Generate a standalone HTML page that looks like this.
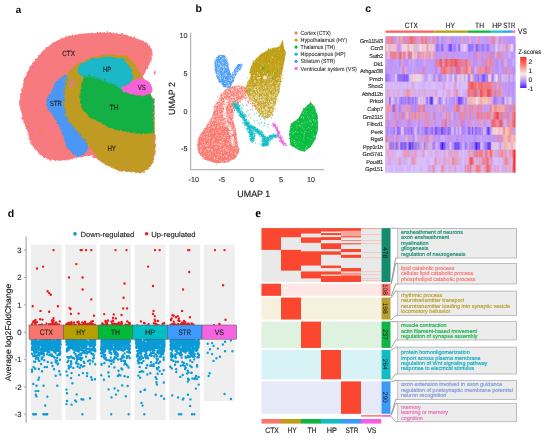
<!DOCTYPE html><html><head><meta charset="utf-8"><title>figure</title><style>html,body{margin:0;padding:0;background:#fff}svg{display:block;text-rendering:geometricPrecision}text{font-family:'Liberation Sans', Arial, sans-serif}</style></head><body><svg width="550" height="441" viewBox="0 0 550 441"><rect width="550" height="441" fill="#fff"/><text x="15.8" y="12.5" font-size="9.8" fill="#000" font-weight="bold">a</text>
<text x="195.5" y="12.0" font-size="10.5" fill="#000" font-weight="bold">b</text>
<text x="365.2" y="12.3" font-size="10.5" fill="#000" font-weight="bold">c</text>
<text x="7.7" y="216.9" font-size="10.5" fill="#000" font-weight="bold">d</text>
<text x="255.2" y="216.9" font-size="12.7" fill="#000" font-weight="bold" style="font-family:'Liberation Serif',serif">e</text>
<g id="pa">
<polygon points="100.0,32.9 86.2,33.6 68.0,36.3 56.7,40.8 45.4,48.8 36.3,59.0 29.5,68.0 24.9,78.2 22.0,90.7 20.4,96.0 20.0,101.3 21.5,112.7 23.8,121.7 28.3,132.0 29.5,138.8 34.0,147.8 42.0,155.8 48.8,159.2 59.0,160.8 68.0,159.6 76.0,157.6 85.0,156.0 92.0,155.0 100.0,160.3 107.2,164.8 118.5,169.8 132.2,171.2 142.4,172.1 148.0,168.2 152.1,162.6 154.4,153.5 154.8,135.4 153.0,133.1 153.7,112.7 153.7,99.4 150.3,94.8 152.1,88.0 149.2,82.4 143.5,79.4 142.4,75.6 146.9,68.8 150.3,62.0 152.1,54.0 150.7,48.3 145.8,42.7 134.4,37.7 120.8,34.1 102.7,32.5" fill="#f8787c"/>
<polygon points="154.8,135.4 154.4,153.5 152.1,162.6 148.0,168.2 142.4,172.1 132.2,171.2 118.5,169.8 107.2,164.8 99.0,159.5 96.5,155.0 92.0,149.5 86.5,142.2 78.5,133.0 70.3,124.0 65.8,115.0 63.5,103.6 64.6,90.0 66.0,78.0 70.3,70.3 77.1,64.4 86.2,60.4 95.2,57.0 109.5,55.0 125.4,56.0 132.6,61.8 137.2,69.6 140.8,75.4 142.4,77.8 150.0,95.0 154.8,120.0" fill="#bf9a1c"/>
<polygon points="66.0,75.0 60.0,79.0 56.7,81.6 52.2,90.7 47.0,99.0 47.6,108.0 53.3,115.0 58.5,124.0 63.6,135.4 66.8,146.7 73.5,154.0 79.0,156.6 84.5,153.0 88.0,147.5 85.0,140.0 78.5,133.0 70.3,124.0 65.8,115.0 63.5,103.6 64.6,90.0 67.0,80.0" fill="#4496f8"/>
<polygon points="83.9,77.1 80.7,90.7 80.5,101.3 83.9,110.4 90.7,117.2 100.0,121.7 107.2,126.3 123.1,130.8 136.7,133.1 153.0,133.1 153.7,112.7 153.7,99.4 150.3,94.8 143.5,96.0 132.2,94.8 123.1,92.1 119.7,88.0 114.0,84.6 102.7,79.4 91.3,76.2 83.4,75.6" fill="#0bb040"/>
<polygon points="78.0,70.3 80.0,64.6 93.6,58.7 109.5,57.3 122.6,58.8 127.6,64.6 131.6,71.0 132.6,76.7 130.8,81.2 125.4,85.8 119.7,88.0 114.0,84.6 102.7,79.4 91.3,76.2 83.4,75.6 80.0,74.4" fill="#14b8c8"/>
<polygon points="134.8,80.0 142.2,79.0 148.8,82.8 151.6,88.0 149.8,93.2 143.5,95.4 132.2,94.2 124.0,91.6 121.4,88.2 126.5,85.8 131.6,82.0" fill="#fb5ee0"/>
<defs><pattern id="hx" width="2.3" height="2" patternUnits="userSpaceOnUse"><circle cx="0.6" cy="0.5" r="0.45" fill="#fff" opacity="0.10"/><circle cx="1.75" cy="1.5" r="0.45" fill="#fff" opacity="0.10"/><circle cx="1.75" cy="0.5" r="0.4" fill="#a02050" opacity="0.07"/><circle cx="0.6" cy="1.5" r="0.4" fill="#a02050" opacity="0.07"/></pattern></defs>
<polygon points="100.0,32.9 86.2,33.6 68.0,36.3 56.7,40.8 45.4,48.8 36.3,59.0 29.5,68.0 24.9,78.2 22.0,90.7 20.4,96.0 20.0,101.3 21.5,112.7 23.8,121.7 28.3,132.0 29.5,138.8 34.0,147.8 42.0,155.8 48.8,159.2 59.0,160.8 68.0,159.6 76.0,157.6 85.0,156.0 92.0,155.0 100.0,160.3 107.2,164.8 118.5,169.8 132.2,171.2 142.4,172.1 148.0,168.2 152.1,162.6 154.4,153.5 154.8,135.4 153.0,133.1 153.7,112.7 153.7,99.4 150.3,94.8 152.1,88.0 149.2,82.4 143.5,79.4 142.4,75.6 146.9,68.8 150.3,62.0 152.1,54.0 150.7,48.3 145.8,42.7 134.4,37.7 120.8,34.1 102.7,32.5" fill="url(#hx)"/>
<polygon points="72.6,78.5 74.0,80.0 71.5,87.5 70.0,87.0" fill="#fb5ee0"/>
<circle cx="43" cy="61" r="0.9" fill="#fb5ee0"/>
<circle cx="33" cy="67" r="0.9" fill="#fb5ee0"/>
<circle cx="52" cy="127" r="0.9" fill="#fb5ee0"/>
<circle cx="33" cy="129" r="0.9" fill="#fb5ee0"/>
<circle cx="44" cy="112" r="0.9" fill="#bf9a1c"/>
<circle cx="40" cy="130" r="0.9" fill="#bf9a1c"/>
<circle cx="66" cy="157" r="0.9" fill="#fb5ee0"/>
<circle cx="93" cy="157" r="0.9" fill="#fb5ee0"/>
<circle cx="154.5" cy="73.5" r="0.9" fill="#fb5ee0"/>
<circle cx="155" cy="72" r="0.9" fill="#f8787c"/>
<circle cx="60" cy="127" r="0.9" fill="#f8787c"/>
<circle cx="68" cy="150" r="0.9" fill="#f8787c"/>
<circle cx="154" cy="140" r="0.9" fill="#f8787c"/>
<circle cx="153.5" cy="150" r="0.9" fill="#f8787c"/>
<circle cx="146" cy="53" r="0.9" fill="#bf9a1c"/>
<circle cx="63" cy="76" r="0.9" fill="#bf9a1c"/>
<text x="68.6" y="56.2" font-size="7.5" fill="#1c1c1c" text-anchor="middle" textLength="12.7" lengthAdjust="spacingAndGlyphs" stroke="#1c1c1c" stroke-width="0.13">CTX</text>
<text x="107.2" y="71.5" font-size="7.5" fill="#1c1c1c" text-anchor="middle" textLength="8.5" lengthAdjust="spacingAndGlyphs" stroke="#1c1c1c" stroke-width="0.13">HP</text>
<text x="141.7" y="90.3" font-size="7.5" fill="#1c1c1c" text-anchor="middle" textLength="8.0" lengthAdjust="spacingAndGlyphs" stroke="#1c1c1c" stroke-width="0.13">VS</text>
<text x="114.0" y="110.0" font-size="7.5" fill="#1c1c1c" text-anchor="middle" textLength="8.5" lengthAdjust="spacingAndGlyphs" stroke="#1c1c1c" stroke-width="0.13">TH</text>
<text x="55.8" y="105.5" font-size="7.5" fill="#1c1c1c" text-anchor="middle" textLength="11.5" lengthAdjust="spacingAndGlyphs" stroke="#1c1c1c" stroke-width="0.13">STR</text>
<text x="111.7" y="151.2" font-size="7.5" fill="#1c1c1c" text-anchor="middle" textLength="8.5" lengthAdjust="spacingAndGlyphs" stroke="#1c1c1c" stroke-width="0.13">HY</text>
</g>
<g id="pa2">
<path d="M29.4 136.6h0M65.5 37.0h0M72.4 35.6h0M69.3 159.4h0M65.0 159.8h0M21.4 89.1h0M132.1 172.0h0M78.2 34.5h0M38.7 56.9h0M143.5 78.9h0M153.2 156.9h0M70.6 36.1h0M154.4 137.0h0M136.7 171.7h0M150.4 84.6h0M130.9 171.0h0M153.4 115.3h0M46.4 48.0h0M35.9 59.4h0M154.7 142.1h0M151.5 53.3h0M140.8 171.8h0M147.5 68.4h0M155.2 144.8h0M155.3 152.7h0M22.5 119.0h0M89.0 33.5h0M48.1 47.7h0M43.2 51.8h0M152.4 54.7h0M120.5 169.4h0M151.1 58.4h0M37.6 149.8h0M36.5 59.3h0M20.3 94.5h0M21.4 108.4h0M39.2 153.6h0M152.4 132.6h0M155.6 139.2h0M151.8 90.7h0M49.6 159.5h0M153.3 158.7h0M24.0 83.5h0M75.4 35.2h0M53.4 43.2h0M151.7 53.0h0M20.0 103.7h0M46.0 47.9h0M84.0 156.2h0M53.0 43.6h0M144.2 73.0h0M122.9 34.7h0M117.6 169.3h0M110.6 32.6h0M20.6 107.8h0M149.7 94.8h0M29.7 139.6h0M107.6 32.2h0M142.9 77.1h0M106.0 164.2h0M86.6 33.9h0M153.5 131.6h0M130.7 36.3h0M38.8 152.8h0M25.4 78.2h0M146.1 42.3h0M154.5 149.7h0M155.2 145.9h0M153.4 104.3h0M151.3 87.9h0M113.1 33.7h0M125.0 35.0h0M44.4 51.3h0M147.1 81.7h0M109.1 32.7h0M119.6 170.0h0M113.5 33.0h0M130.3 37.2h0M143.5 74.4h0M24.1 122.9h0M20.5 106.9h0M141.3 41.3h0M136.4 171.3h0M137.7 39.4h0M109.0 165.4h0M28.6 71.7h0M29.4 67.3h0M123.0 170.8h0M122.8 170.0h0M125.1 170.8h0M149.8 94.8h0M154.1 99.3h0M147.8 167.7h0M152.5 131.8h0M90.5 155.1h0M152.0 52.0h0M125.5 170.1h0M41.0 54.4h0M65.8 37.3h0M154.9 141.1h0M35.2 59.7h0M39.7 55.4h0M23.0 88.0h0M94.7 156.2h0M32.8 63.2h0M31.7 143.2h0M154.1 117.7h0M72.7 158.6h0M151.4 163.3h0M107.3 31.7h0M52.2 44.1h0M151.1 92.0h0M64.5 159.7h0M21.3 107.2h0M129.9 170.8h0M72.6 35.2h0M66.5 36.9h0M149.4 82.6h0M68.8 35.9h0M30.6 142.5h0M21.6 111.2h0M20.5 97.0h0M76.2 35.5h0M26.4 127.2h0M99.2 160.0h0M91.4 33.4h0M153.4 112.3h0M88.5 155.4h0M142.4 77.3h0M145.2 71.0h0M153.9 133.7h0M144.9 71.0h0M55.4 160.4h0M43.7 51.8h0M20.6 105.1h0M147.8 67.5h0M22.7 117.7h0M81.4 157.1h0M22.1 108.3h0M118.8 171.0h0M27.2 129.6h0M44.5 157.4h0M24.5 79.5h0M21.4 109.3h0M80.6 34.5h0M20.5 94.0h0M153.3 103.5h0M151.0 51.2h0M107.7 33.5h0M155.0 154.8h0M148.0 45.2h0M144.6 80.2h0M101.1 160.0h0M142.7 73.5h0M154.7 135.4h0M85.5 34.1h0M52.4 43.5h0M151.9 161.2h0M95.5 156.8h0M153.1 105.2h0M155.2 147.2h0M20.6 103.5h0M153.9 114.9h0M111.1 33.3h0M90.0 154.5h0M149.5 165.8h0M37.4 58.5h0M26.2 127.3h0M71.2 36.5h0M152.9 131.5h0M105.1 163.9h0M47.1 47.6h0M110.4 33.1h0M81.4 155.7h0M76.4 157.8h0M125.8 36.0h0M38.1 55.6h0M42.3 52.0h0M150.0 47.3h0M146.6 43.7h0M97.8 33.0h0M26.1 126.6h0M28.4 132.4h0M153.8 103.8h0M134.3 36.8h0M23.3 121.3h0M100.2 32.6h0M66.5 159.9h0M53.6 42.8h0M130.3 37.0h0M103.5 162.8h0M121.4 33.6h0M153.6 159.7h0M119.8 169.8h0M153.0 113.0h0M154.3 154.1h0M134.7 38.0h0M32.3 145.5h0M111.2 33.9h0M25.2 125.6h0M31.8 65.5h0M143.1 41.7h0M143.8 41.6h0M40.0 55.2h0M32.4 144.3h0M19.8 105.9h0M153.3 104.7h0M108.5 165.8h0M70.4 37.1h0M43.6 50.1h0M151.2 58.8h0M19.6 101.9h0M122.3 33.6h0M90.3 33.6h0M146.7 44.5h0M99.1 33.6h0M144.0 73.3h0M20.2 101.8h0M107.6 164.2h0M153.1 117.2h0M80.0 156.8h0M151.6 91.2h0M154.3 153.7h0M19.8 102.6h0M49.8 46.3h0M135.5 171.7h0M144.4 171.0h0M82.4 156.4h0M150.5 48.8h0M20.7 100.8h0M27.4 128.7h0M154.4 139.8h0M154.9 142.9h0M83.6 34.4h0M155.0 136.6h0M153.4 109.5h0M114.0 34.3h0M21.3 94.1h0M25.0 123.0h0M27.1 74.0h0M154.8 144.0h0M50.5 160.6h0M39.3 55.8h0M50.9 158.9h0M154.7 112.5h0M29.9 139.6h0M154.4 106.2h0M43.5 157.0h0M31.4 66.0h0M34.5 148.0h0M117.0 34.2h0M142.7 75.5h0M76.2 35.1h0M137.6 39.5h0M147.3 44.0h0M144.4 79.7h0M84.4 34.4h0M20.6 104.7h0M31.4 144.0h0M149.6 166.7h0M28.4 132.7h0M154.3 101.3h0M127.1 35.7h0M89.6 155.2h0M47.1 158.8h0M96.6 157.8h0M148.2 81.1h0M150.0 94.3h0M28.2 134.7h0M63.2 39.0h0M20.1 101.1h0M120.8 171.2h0M151.2 48.9h0M61.2 39.5h0M153.0 123.6h0M60.8 160.0h0M154.1 104.8h0M46.0 48.2h0M127.7 171.3h0M24.8 79.0h0M36.1 59.5h0M28.1 138.1h0M102.0 162.3h0M154.7 149.7h0M88.7 154.7h0M140.1 40.1h0M47.0 49.1h0M136.3 171.3h0M151.1 57.1h0M151.2 92.2h0M141.8 171.9h0M40.3 154.1h0M19.9 104.3h0M24.7 80.7h0M154.9 138.2h0M24.5 80.1h0M70.4 36.3h0M120.1 169.8h0M32.5 63.4h0M22.4 119.0h0M27.4 130.6h0M62.1 159.4h0M38.6 152.9h0M25.3 80.8h0M64.7 159.7h0M150.7 49.3h0M92.3 33.1h0M142.3 41.2h0M40.5 154.6h0M21.8 117.8h0M49.8 45.1h0M115.8 33.9h0M127.3 35.6h0M75.1 35.1h0M143.5 41.4h0M33.7 62.2h0M55.9 159.5h0M28.0 72.1h0M106.0 164.3h0M19.9 100.0h0M79.8 34.2h0M82.0 34.0h0M142.8 171.2h0M26.1 128.4h0M65.2 159.5h0M71.9 158.9h0M94.8 157.6h0M151.0 91.4h0M87.8 155.8h0M68.1 159.9h0M103.7 162.4h0M61.5 38.1h0M104.1 162.7h0M43.7 156.5h0M151.2 61.2h0M143.8 80.1h0M96.7 157.2h0M32.5 63.4h0M68.6 36.8h0M34.3 61.8h0M143.6 79.0h0M137.4 39.3h0M101.3 161.3h0M28.6 72.1h0M155.0 137.0h0M152.2 89.4h0M152.8 158.4h0M121.8 169.8h0M52.9 43.9h0M50.7 159.1h0M104.1 32.5h0M152.2 97.9h0M154.5 107.6h0M19.5 103.1h0M137.0 171.3h0M99.4 33.0h0M148.9 166.5h0M147.6 44.7h0M154.5 149.9h0M35.8 149.5h0M21.6 90.0h0M23.9 80.7h0M41.7 53.1h0M37.3 58.8h0M152.1 54.1h0M21.7 109.1h0M125.7 171.1h0M74.5 157.9h0M20.2 101.5h0M111.7 167.1h0M72.4 35.6h0M120.9 169.9h0M24.3 78.5h0M154.1 155.0h0M27.2 129.6h0M149.4 46.0h0M97.4 32.4h0M83.9 155.7h0M22.1 91.3h0M81.2 34.9h0M153.5 129.9h0M20.7 109.7h0M151.5 87.4h0M154.3 155.0h0M151.6 50.5h0M20.4 94.7h0M153.3 107.0h0M29.5 139.3h0M152.4 159.7h0M109.1 33.3h0M153.4 128.9h0M153.2 116.3h0M23.3 84.5h0M141.4 40.8h0M51.8 44.3h0M39.3 55.8h0M152.6 131.1h0M154.3 110.9h0M38.6 151.3h0M149.5 46.4h0M139.9 40.0h0M24.2 81.8h0M148.9 64.6h0M142.9 74.2h0M54.7 43.1h0M24.0 81.8h0M90.0 33.8h0M153.2 120.9h0M116.2 33.7h0M150.5 165.6h0M70.5 158.6h0M152.9 125.8h0M151.7 59.2h0M31.0 66.4h0M153.2 98.7h0M94.5 157.2h0M27.1 72.3h0M144.9 72.9h0M23.0 118.8h0M98.8 159.6h0" stroke="#f8787c" stroke-width="1.3" stroke-linecap="round" fill="none"/>
<path d="M153.5 156.9h0M94.4 56.9h0M84.4 141.2h0M153.1 159.0h0M126.7 171.6h0M67.2 119.9h0M118.7 170.0h0M86.4 59.7h0M94.0 152.3h0M109.7 54.4h0M136.1 171.9h0M64.3 98.8h0M121.7 56.1h0M102.2 160.9h0M141.1 172.3h0M97.4 157.0h0M97.9 157.8h0M80.8 63.9h0M150.8 163.9h0M96.8 56.3h0M129.4 170.8h0M126.6 170.7h0M85.7 140.4h0M67.7 119.0h0M143.7 170.6h0M83.3 61.6h0M63.8 99.4h0M120.4 169.1h0M91.1 57.6h0M69.2 71.3h0M99.6 159.8h0M81.9 136.1h0M65.2 85.0h0M74.9 129.1h0M69.2 72.6h0M66.2 77.3h0M69.4 122.0h0M64.8 108.9h0M133.6 63.8h0M63.1 99.5h0M66.0 115.8h0M64.7 114.7h0M125.5 170.1h0M89.4 60.4h0M93.2 150.7h0M85.9 141.0h0M81.5 136.2h0M111.3 167.3h0M133.4 63.6h0M98.5 56.7h0M147.1 168.1h0M64.8 83.4h0M121.7 170.0h0M65.9 81.3h0M72.7 127.4h0M148.1 167.9h0M112.1 55.6h0M113.9 168.0h0M154.7 135.8h0M116.1 169.3h0M79.8 134.4h0M92.5 148.7h0M154.9 150.3h0M94.5 58.1h0M65.4 83.6h0M135.2 66.2h0M152.0 163.3h0M91.8 58.4h0M126.6 56.7h0M122.7 55.4h0M68.6 73.9h0M109.1 55.7h0M65.1 111.1h0M120.7 55.6h0M119.4 170.3h0M154.2 151.6h0M68.6 121.7h0M116.4 55.4h0M72.3 126.6h0M109.1 55.3h0M137.2 68.9h0M66.1 82.9h0M70.3 70.8h0M139.1 73.5h0M125.8 56.1h0M64.6 86.5h0M90.5 148.4h0M90.6 59.2h0M80.5 135.9h0M104.6 162.6h0M67.5 119.1h0M138.2 71.3h0M96.9 156.3h0M63.6 95.8h0M154.4 145.5h0M64.7 107.8h0M155.1 138.1h0M64.1 89.6h0M127.3 57.5h0M64.9 84.7h0M69.9 72.0h0M74.8 128.7h0M134.3 171.5h0M128.5 58.3h0M104.6 55.1h0M112.8 167.8h0M98.1 159.2h0M133.4 62.4h0M155.2 146.8h0M64.3 99.2h0M154.3 139.7h0M133.9 63.1h0M83.6 138.7h0M125.1 170.5h0M154.7 136.5h0M138.2 70.4h0M147.7 169.0h0M116.9 168.8h0M154.6 148.5h0M113.5 55.1h0M65.1 84.3h0M132.6 63.0h0M77.0 64.5h0M66.0 78.6h0M100.2 160.0h0M114.9 55.4h0M90.4 147.7h0M69.7 73.0h0M91.2 148.4h0M81.5 137.7h0M134.5 64.3h0M105.7 163.5h0M74.2 66.7h0M65.4 91.0h0M64.2 92.8h0M122.0 56.3h0M65.1 91.7h0M107.0 164.4h0M80.6 135.8h0M123.1 56.0h0M101.9 55.7h0M109.5 164.9h0M70.6 70.3h0M152.3 158.5h0M128.3 169.8h0M118.6 169.4h0M73.5 127.7h0M85.6 60.2h0M153.2 158.7h0M118.6 169.4h0M121.2 55.7h0M64.3 95.9h0M133.6 170.9h0M63.1 102.8h0M143.9 172.5h0M90.3 146.9h0M95.2 57.6h0M94.6 152.8h0M155.5 144.6h0M69.4 122.8h0M91.8 58.4h0M90.1 58.0h0M114.3 167.9h0M133.9 171.4h0M64.0 104.0h0M134.9 65.3h0M64.2 93.3h0M136.4 68.9h0M66.2 81.3h0M86.3 142.4h0M137.7 69.8h0M154.5 146.5h0M127.0 56.2h0M154.7 147.7h0M65.9 79.8h0M143.5 170.3h0M69.0 72.9h0M87.5 60.3h0M113.6 167.8h0M137.1 171.9h0M70.0 72.2h0M130.8 171.2h0M123.6 169.9h0M123.0 56.2h0M153.0 161.6h0M64.8 85.0h0M104.0 55.8h0M143.9 171.2h0M76.0 65.1h0M117.7 56.0h0M140.5 172.8h0M96.8 155.5h0M98.9 158.9h0M140.1 73.2h0M68.1 74.9h0M105.9 164.3h0M93.0 148.6h0M131.4 60.8h0M125.4 56.2h0M104.4 162.9h0M100.1 56.5h0M155.1 135.5h0M131.4 171.6h0M123.2 170.2h0M134.0 170.6h0M129.5 171.0h0M64.2 90.3h0M126.3 170.2h0M101.2 56.0h0M154.3 153.1h0M78.8 64.3h0M96.9 154.2h0M69.9 121.3h0M71.5 124.8h0M132.5 170.8h0M138.1 172.2h0M154.3 136.6h0M66.6 116.1h0M103.1 55.6h0M75.1 66.1h0M155.2 151.5h0M68.1 120.8h0M65.9 110.0h0M122.0 170.3h0M114.9 168.1h0M152.2 161.5h0M154.2 139.9h0M65.5 113.5h0M117.3 55.4h0M147.7 167.9h0M107.9 165.3h0M144.4 169.7h0M142.2 171.4h0M138.8 170.8h0M86.6 143.7h0M64.5 113.7h0M92.0 58.4h0M95.3 155.5h0M100.2 56.0h0M111.8 55.3h0M136.5 67.8h0M81.0 135.9h0M65.5 111.8h0M67.7 118.4h0M138.1 69.7h0M65.7 82.7h0M122.2 55.9h0M110.9 166.2h0M65.0 108.2h0M114.4 168.1h0M135.1 66.6h0M66.3 80.0h0M135.6 67.5h0M72.9 127.1h0M148.4 168.3h0M84.1 139.8h0M152.1 159.2h0M64.0 89.7h0M128.0 170.3h0M63.8 106.6h0M100.3 160.7h0M66.1 116.8h0M154.2 139.4h0M117.4 169.4h0M106.7 164.2h0M91.0 58.8h0M117.7 55.6h0M86.8 143.7h0M150.7 165.9h0M82.6 62.4h0M93.1 150.7h0M112.2 54.7h0M82.3 61.3h0M71.7 124.7h0M129.5 59.4h0M154.8 136.0h0M68.9 119.9h0M82.3 136.3h0M64.2 91.0h0M74.7 128.5h0M86.6 142.7h0M98.4 157.3h0M67.8 119.7h0M102.2 161.8h0M64.8 98.3h0M98.5 156.9h0M136.5 68.6h0M128.1 58.1h0M62.6 102.4h0M89.7 58.1h0M65.2 115.1h0M86.8 143.6h0M94.3 151.3h0M65.8 113.4h0M84.6 140.5h0M120.7 55.6h0M77.0 131.5h0M94.2 153.0h0M136.0 172.7h0M105.2 55.6h0M124.0 55.2h0M141.3 75.3h0M140.3 172.4h0M67.6 118.6h0M64.9 84.2h0M141.4 76.3h0M83.4 138.1h0M71.8 69.3h0M109.3 54.7h0M128.8 170.9h0M110.6 166.0h0M141.5 76.9h0M148.9 168.1h0M151.2 164.4h0M65.8 113.3h0M100.2 56.3h0M90.2 59.4h0M93.4 151.3h0M152.6 162.3h0M93.6 152.1h0M154.9 150.1h0M135.9 68.6h0M116.2 168.6h0M112.9 56.1h0M102.4 56.5h0M135.4 68.5h0M116.2 169.5h0M122.2 171.1h0M70.1 123.0h0M135.6 171.7h0M138.0 71.7h0M149.2 165.9h0M85.0 140.3h0M105.2 55.9h0M130.8 171.4h0M154.4 144.7h0M140.5 171.7h0M110.2 165.9h0M77.9 131.2h0M139.2 172.4h0M89.6 145.8h0M134.9 66.3h0M76.2 130.5h0M112.8 166.7h0M90.8 148.5h0M125.2 170.3h0M66.1 116.2h0M90.3 59.1h0M63.5 102.0h0M153.4 159.8h0M98.2 158.2h0M63.2 103.6h0M103.8 162.5h0M121.7 170.6h0M106.1 165.1h0M92.3 57.7h0M146.3 169.5h0M69.3 71.3h0M82.7 137.7h0M115.6 168.1h0M65.3 85.0h0M128.4 57.7h0M154.8 146.6h0M128.8 171.3h0M154.3 146.8h0M134.4 170.9h0M76.8 65.1h0M70.2 70.6h0M107.7 54.9h0M154.9 146.8h0M154.5 148.7h0M96.2 57.9h0M85.7 61.2h0M86.5 141.4h0M108.1 165.3h0M81.6 135.6h0M82.6 61.5h0M76.4 130.2h0M79.2 134.9h0M147.3 168.5h0" stroke="#bf9a1c" stroke-width="1.3" stroke-linecap="round" fill="none"/>
<path d="M75.0 128.7h0M84.5 153.3h0M83.4 153.9h0M62.1 132.8h0M59.1 124.8h0M79.2 134.0h0M77.8 156.9h0M61.6 132.4h0M48.7 95.6h0M64.1 110.0h0M46.8 99.9h0M70.5 149.7h0M51.8 91.6h0M47.9 107.7h0M47.3 105.3h0M51.8 91.4h0M62.9 133.7h0M65.0 76.1h0M54.3 84.7h0M86.3 151.2h0M67.0 147.3h0M65.2 75.6h0M85.4 139.5h0M52.9 114.7h0M61.7 77.1h0M57.5 122.5h0M63.9 104.3h0M66.6 115.3h0M60.2 127.9h0M59.0 126.4h0M63.4 134.4h0M58.8 79.2h0M64.4 108.4h0M65.2 85.4h0M47.3 98.8h0M54.8 85.0h0M68.2 148.0h0M59.3 79.4h0M73.1 126.2h0M63.7 102.1h0M55.7 119.3h0M65.9 144.7h0M80.1 133.4h0M46.9 100.0h0M85.7 151.1h0M54.2 86.6h0M67.6 80.0h0M67.6 79.7h0M65.6 111.2h0M86.0 143.6h0M65.4 84.0h0M57.1 123.2h0M61.8 78.6h0M69.1 148.9h0M63.1 134.9h0M80.8 155.0h0M52.3 92.0h0M84.8 153.8h0M53.6 115.1h0M52.3 114.5h0M49.6 110.6h0M78.3 156.2h0M65.9 142.1h0M63.0 100.8h0M69.7 121.6h0M73.1 126.9h0M65.1 139.9h0M85.8 150.7h0M67.3 117.5h0M64.1 135.3h0M47.9 109.4h0M66.9 144.8h0M62.9 99.0h0M64.2 100.3h0M61.1 129.1h0M64.7 108.5h0M71.1 123.9h0M58.9 79.6h0M84.3 153.0h0M64.7 88.8h0M46.6 105.3h0M87.8 148.0h0M52.4 90.3h0M84.7 153.1h0M64.6 137.5h0M82.2 153.5h0M66.3 84.7h0M47.2 97.2h0M65.7 113.1h0M64.5 109.2h0M72.7 153.4h0M65.1 138.7h0M55.1 84.8h0M64.1 95.1h0M46.8 100.9h0M86.9 148.9h0M64.7 75.4h0M61.4 77.5h0M59.2 80.5h0M54.9 118.5h0M53.5 115.9h0M66.4 83.1h0M85.7 150.4h0M66.7 117.3h0M62.6 134.3h0M64.5 99.0h0M58.1 122.5h0M77.4 155.7h0M84.4 153.0h0M60.1 130.2h0M72.8 153.7h0M50.7 112.1h0M65.2 75.4h0M68.0 148.2h0M47.4 100.5h0M58.4 123.4h0M64.8 87.7h0M88.2 147.8h0M88.0 148.1h0M66.3 118.1h0M55.0 83.2h0M55.3 118.6h0M47.0 100.2h0M48.6 109.6h0M87.1 143.6h0M47.3 104.6h0M87.5 144.9h0M63.8 98.9h0M46.4 103.9h0M83.4 137.9h0M59.9 126.5h0M65.1 141.0h0M56.8 81.5h0M84.7 140.4h0M87.0 145.5h0M64.3 76.2h0M67.1 77.6h0M72.0 126.2h0M48.1 98.7h0M54.2 86.5h0M82.1 154.0h0M80.5 135.3h0M70.0 124.2h0M68.2 119.2h0M67.8 117.9h0M54.5 118.7h0M50.6 94.1h0M81.2 135.4h0M66.5 77.7h0M54.3 87.0h0M56.0 81.8h0M47.7 102.7h0M48.6 97.6h0M64.7 89.9h0M66.9 118.3h0M75.6 154.8h0M65.0 113.1h0M64.9 93.8h0M55.9 82.4h0M64.3 101.1h0M66.5 141.7h0M84.9 140.2h0M53.7 116.3h0M47.6 106.3h0M57.8 122.3h0M87.0 150.6h0M63.7 100.6h0M64.5 109.2h0M73.8 153.9h0M77.1 131.6h0M87.7 148.1h0M63.5 97.7h0M64.1 101.9h0M66.2 76.1h0M52.2 90.7h0M64.9 92.3h0M53.7 88.9h0M53.5 87.9h0M74.1 126.3h0M60.8 79.3h0M77.2 131.1h0M50.2 111.6h0M63.2 77.1h0M64.3 98.5h0M49.4 94.8h0M77.6 132.1h0M76.6 155.6h0M75.8 154.7h0M49.3 108.8h0M71.1 125.2h0M54.3 116.7h0M77.2 156.3h0M63.4 133.6h0M80.9 136.0h0M77.4 130.7h0M72.6 127.1h0M66.5 143.9h0M64.0 137.8h0M66.7 75.3h0M64.8 89.5h0" stroke="#4496f8" stroke-width="1.3" stroke-linecap="round" fill="none"/>
<path d="M127.6 131.9h0M81.4 101.8h0M102.4 79.3h0M115.8 128.4h0M114.3 128.3h0M133.7 94.5h0M154.0 110.8h0M153.7 102.1h0M140.5 96.1h0M153.5 105.9h0M153.4 102.6h0M153.6 107.3h0M148.7 132.6h0M149.6 133.3h0M97.2 77.9h0M153.4 124.9h0M87.0 112.8h0M154.1 99.3h0M110.4 82.9h0M117.1 86.2h0M83.9 110.5h0M123.3 130.3h0M144.7 133.3h0M83.5 76.0h0M150.2 132.4h0M83.4 109.1h0M153.3 127.2h0M119.5 129.9h0M91.2 117.5h0M87.6 113.9h0M116.2 129.7h0M80.0 96.4h0M90.8 118.0h0M153.6 105.2h0M141.5 133.6h0M109.4 127.4h0M120.5 89.6h0M153.9 113.7h0M88.1 75.5h0M150.7 95.6h0M130.8 94.9h0M153.7 131.6h0M82.2 82.4h0M146.6 132.7h0M149.3 132.8h0M152.0 133.0h0M150.1 94.4h0M81.6 85.4h0M128.5 93.5h0M96.1 119.8h0M81.2 99.7h0M154.2 117.2h0M141.0 95.8h0M145.0 95.9h0M84.1 75.9h0M82.9 109.1h0M84.0 78.4h0M103.3 124.2h0M111.3 83.4h0M137.4 133.2h0M110.5 82.0h0M102.5 123.4h0M153.0 123.5h0M152.0 132.9h0M122.4 91.8h0M153.9 119.0h0M152.8 124.3h0M115.9 129.6h0M109.0 126.1h0M152.7 111.2h0M142.6 133.0h0M139.9 133.0h0M111.6 83.5h0M88.5 114.2h0M121.5 91.0h0M149.0 95.3h0M116.5 86.5h0M92.8 118.2h0M125.7 92.6h0M151.6 97.7h0M146.8 95.6h0M145.4 96.0h0M109.7 127.6h0M114.7 128.4h0M100.6 79.7h0M84.1 108.7h0M131.2 132.2h0M153.8 100.6h0M79.9 97.7h0M139.1 132.9h0M118.5 87.5h0M84.1 76.1h0M108.6 127.4h0M153.2 132.0h0M151.8 132.6h0M153.6 122.4h0M105.8 124.4h0M96.7 120.0h0M154.1 109.3h0M94.0 76.9h0M117.7 129.5h0M134.6 95.7h0M111.1 127.5h0M79.8 97.7h0M153.6 110.1h0M153.7 128.7h0M81.8 105.6h0M126.9 131.2h0M86.7 112.7h0M115.5 84.9h0M84.3 109.8h0M80.5 102.7h0M80.8 102.8h0M152.9 123.4h0M90.5 117.4h0M81.8 105.7h0M153.1 130.9h0M93.5 77.1h0M153.5 115.4h0M132.7 95.1h0M81.9 84.1h0M109.4 126.8h0M153.7 114.5h0M125.2 92.6h0M99.3 121.2h0M81.3 85.6h0M119.8 89.3h0M146.3 133.1h0M94.5 77.5h0M80.6 97.0h0M148.5 95.5h0M82.9 107.8h0M119.1 129.0h0M123.1 92.3h0M126.9 92.6h0M153.9 101.6h0M114.5 84.7h0M139.6 95.8h0M89.1 75.4h0M82.9 105.5h0M102.5 78.5h0M121.6 90.5h0M118.6 86.3h0M111.3 127.2h0M94.6 77.7h0M124.5 93.4h0M97.8 121.0h0M97.6 121.0h0M146.7 95.0h0M125.5 92.1h0M94.8 76.7h0M80.1 95.4h0M118.7 129.3h0M123.9 92.2h0M83.7 81.2h0M136.3 132.8h0M118.6 129.9h0M114.4 84.7h0M80.5 97.0h0M141.4 132.4h0M81.2 103.3h0M118.9 87.8h0M91.0 76.4h0M104.8 80.1h0M130.2 132.2h0M153.4 129.8h0M117.6 87.1h0M84.4 78.1h0M144.8 132.8h0M122.6 130.9h0M110.7 83.2h0M98.0 77.5h0M80.3 93.3h0M90.7 76.7h0M153.3 102.4h0M149.2 94.8h0M124.8 131.0h0M116.3 85.6h0M143.2 132.2h0M137.2 95.2h0M117.1 129.7h0M105.6 81.0h0M154.1 114.4h0M132.9 94.6h0M129.7 94.7h0M137.8 133.0h0M121.4 89.9h0M89.8 75.4h0M106.6 126.2h0M118.3 86.7h0M81.9 107.3h0M85.1 111.4h0M113.9 128.2h0M130.0 131.5h0M88.7 116.6h0M90.5 117.6h0M80.5 101.3h0M129.8 131.8h0M92.4 117.6h0M115.6 85.3h0M114.6 128.9h0M147.5 132.9h0M131.9 95.2h0M99.4 78.5h0M153.7 103.2h0M82.1 85.5h0M122.8 130.5h0M100.4 121.9h0M131.5 94.2h0M121.5 90.0h0M154.2 99.1h0M145.4 95.2h0M94.9 76.8h0M131.1 131.7h0M89.2 115.0h0M152.8 125.8h0M82.2 106.2h0M134.6 132.9h0M150.1 94.9h0M153.5 115.8h0M124.5 92.2h0M149.8 94.4h0M104.4 79.5h0M118.6 86.9h0M81.9 105.0h0M153.7 106.5h0M153.9 108.0h0M93.9 118.9h0M149.6 94.9h0M123.7 130.7h0M115.8 85.7h0M153.9 102.9h0M80.4 90.1h0M122.1 90.1h0M80.6 101.9h0M119.3 130.3h0M94.9 118.9h0M115.9 85.1h0M82.4 83.6h0M153.0 130.4h0M153.6 101.8h0M132.0 132.4h0M97.5 118.9h0M122.1 90.3h0M85.3 75.9h0M81.7 106.3h0M141.3 95.9h0M89.2 116.2h0M90.1 116.1h0M141.3 133.8h0M90.5 117.7h0M144.1 95.9h0M93.8 76.4h0M139.6 95.7h0M83.7 79.4h0M153.7 102.8h0M84.4 110.9h0M112.5 127.8h0M123.4 130.2h0M144.9 133.2h0" stroke="#0bb040" stroke-width="1.3" stroke-linecap="round" fill="none"/>
<path d="M93.8 58.2h0M79.2 71.0h0M131.5 70.4h0M87.6 60.9h0M101.2 58.1h0M87.4 74.9h0M78.5 73.0h0M124.4 59.7h0M91.5 59.8h0M127.9 83.7h0M98.2 77.6h0M80.4 64.4h0M83.0 63.7h0M90.2 76.2h0M100.7 59.1h0M124.4 60.7h0M90.4 60.6h0M127.4 83.1h0M129.4 66.7h0M80.7 64.2h0M117.5 86.4h0M120.2 87.3h0M92.7 59.0h0M82.4 64.9h0M103.2 58.3h0M98.4 77.8h0M80.7 66.1h0M101.8 79.1h0M105.7 57.5h0M118.3 86.5h0M86.2 76.1h0M78.8 67.8h0M79.5 73.3h0M101.4 79.4h0M87.9 60.4h0M87.5 75.9h0M131.1 80.5h0M123.4 85.8h0M84.7 63.0h0M112.2 57.6h0M109.7 82.4h0M100.3 78.8h0M120.4 88.2h0M88.8 60.9h0M121.2 59.0h0M95.6 77.2h0M122.4 59.5h0M91.9 58.2h0M106.1 80.9h0M88.4 60.3h0M132.1 76.6h0M124.6 85.1h0M110.7 82.0h0M97.1 77.7h0M116.9 85.8h0M92.2 77.3h0M128.8 66.3h0M113.3 58.1h0M85.1 62.3h0M120.5 87.7h0M97.9 77.8h0M110.0 57.8h0M79.1 68.5h0M85.6 76.5h0M105.8 80.0h0M132.8 78.5h0M115.0 57.7h0M132.1 78.6h0M131.8 77.4h0M82.8 76.2h0M115.8 85.5h0M101.4 58.9h0M78.6 69.3h0M78.8 72.0h0M115.6 85.1h0M107.8 82.1h0M79.1 66.5h0M108.6 57.3h0M127.0 83.7h0M114.9 85.3h0M83.2 63.4h0M92.6 59.6h0M79.7 73.7h0M105.9 81.0h0M113.3 58.2h0M129.1 66.8h0M84.0 76.4h0M79.5 66.1h0M95.0 76.5h0M110.7 57.4h0M88.5 76.5h0M127.6 83.6h0M93.4 60.0h0M123.6 59.9h0M103.1 57.9h0M95.9 78.1h0M122.0 58.5h0M103.5 80.2h0M132.8 77.1h0M102.4 79.8h0M106.4 81.4h0M102.2 58.2h0M120.5 87.5h0M80.3 63.5h0M105.1 57.8h0M88.2 60.9h0M86.5 62.3h0M96.4 58.9h0M89.6 60.8h0M131.4 69.6h0M83.5 63.9h0M131.0 80.8h0M95.3 77.8h0M132.5 77.4h0M93.6 77.0h0M109.2 57.1h0M111.0 83.2h0M116.1 58.7h0M122.7 59.6h0M131.7 71.4h0M119.8 87.9h0M130.9 69.4h0M103.9 57.7h0M120.6 88.5h0M82.6 74.5h0M122.8 58.7h0M102.8 57.3h0M84.7 62.7h0M128.9 66.6h0M107.4 81.5h0M125.6 62.3h0M82.4 75.7h0M132.9 75.2h0M78.3 71.1h0M98.1 79.7h0M130.1 69.5h0M116.1 58.3h0M118.5 87.1h0M94.8 58.6h0M125.6 86.1h0M130.3 81.4h0M106.2 58.4h0M93.4 59.3h0M128.4 83.2h0M104.9 58.3h0M128.9 68.4h0M119.6 86.6h0M109.7 57.2h0M81.1 64.1h0M78.7 68.4h0M80.3 74.0h0M132.7 77.0h0M119.6 87.9h0M105.5 57.1h0M102.8 78.5h0M99.8 58.7h0M129.8 83.0h0M107.5 57.9h0M132.4 76.8h0M108.9 82.1h0M117.7 86.7h0M131.0 69.9h0M121.1 88.7h0M103.9 80.4h0M81.2 75.2h0M80.9 74.4h0M109.6 83.3h0M106.4 81.2h0M101.9 58.1h0M91.0 59.9h0" stroke="#14b8c8" stroke-width="1.3" stroke-linecap="round" fill="none"/>
<path d="M139.5 78.7h0M134.1 95.0h0M144.8 95.5h0M136.0 79.6h0M150.0 93.2h0M124.4 86.1h0M125.8 92.0h0M122.1 89.6h0M123.1 86.5h0M127.0 85.0h0M135.2 79.7h0M151.1 87.1h0M146.7 81.6h0M149.6 85.0h0M134.2 80.5h0M131.0 82.6h0M150.0 91.3h0M145.6 94.6h0M139.0 79.6h0M140.9 78.6h0M151.0 85.8h0M150.0 91.8h0M130.3 82.8h0M145.3 80.5h0M124.7 92.6h0M123.1 88.0h0M147.6 81.5h0M121.9 88.2h0M128.1 92.9h0M147.8 82.2h0M130.4 94.0h0M144.8 94.5h0M137.0 79.4h0M151.1 87.7h0M132.0 93.9h0M150.8 89.4h0M145.8 81.8h0M124.0 85.8h0M121.9 88.3h0M124.9 91.9h0M141.8 79.3h0M146.2 80.4h0M142.9 95.5h0M139.2 94.9h0M123.9 91.7h0M142.9 79.3h0M141.3 95.8h0M149.1 84.3h0M125.0 91.5h0M144.9 94.8h0M131.9 94.3h0M130.2 93.7h0M133.8 80.6h0M142.3 95.0h0M139.8 78.6h0M145.0 95.2h0M141.8 79.0h0M151.6 87.8h0M142.7 79.3h0M137.9 94.6h0M146.8 81.1h0M150.6 91.8h0M133.3 81.3h0M124.1 90.1h0M142.7 95.1h0M150.9 88.3h0M123.8 91.4h0M132.9 82.1h0M150.4 91.9h0M142.6 95.3h0M125.9 86.3h0M123.0 90.8h0M146.3 93.8h0M135.4 94.5h0M133.2 93.6h0M151.1 90.1h0M150.6 87.0h0M149.9 92.7h0M149.9 83.9h0M130.9 93.1h0M150.8 84.9h0M134.1 79.6h0M123.3 88.0h0M148.6 93.4h0M136.8 95.5h0M150.7 91.3h0M128.2 85.9h0M122.9 90.0h0M138.7 79.1h0M142.9 96.0h0" stroke="#fb5ee0" stroke-width="1.0" stroke-linecap="round" fill="none"/>
</g>
<g id="pb">
<path d="M190.7 32.7V169.7H324" stroke="#8a8a8a" stroke-width="0.8" fill="none"/>
<text x="187.5" y="37.9" font-size="7.2" fill="#333" text-anchor="end" stroke="#333" stroke-width="0.13">10</text>
<text x="187.5" y="75.9" font-size="7.2" fill="#333" text-anchor="end" stroke="#333" stroke-width="0.13">5</text>
<text x="187.5" y="113.5" font-size="7.2" fill="#333" text-anchor="end" stroke="#333" stroke-width="0.13">0</text>
<text x="187.5" y="151.4" font-size="7.2" fill="#333" text-anchor="end" stroke="#333" stroke-width="0.13">-5</text>
<text x="193.7" y="182.4" font-size="7.2" fill="#333" text-anchor="middle" stroke="#333" stroke-width="0.13">-10</text>
<text x="221.8" y="182.4" font-size="7.2" fill="#333" text-anchor="middle" stroke="#333" stroke-width="0.13">-5</text>
<text x="252.0" y="182.4" font-size="7.2" fill="#333" text-anchor="middle" stroke="#333" stroke-width="0.13">0</text>
<text x="281.1" y="182.4" font-size="7.2" fill="#333" text-anchor="middle" stroke="#333" stroke-width="0.13">5</text>
<text x="310.9" y="182.4" font-size="7.2" fill="#333" text-anchor="middle" stroke="#333" stroke-width="0.13">10</text>
<text x="253.8" y="196.8" font-size="9" fill="#222" text-anchor="middle" textLength="33.0" lengthAdjust="spacingAndGlyphs" stroke="#222" stroke-width="0.16">UMAP 1</text>
<text x="175.2" y="98.5" font-size="9" fill="#222" text-anchor="middle" textLength="33.0" lengthAdjust="spacingAndGlyphs" transform="rotate(-90 175.2 98.5)" stroke="#222" stroke-width="0.16">UMAP 2</text>
<defs><linearGradient id="ghy" gradientUnits="userSpaceOnUse" x1="0" y1="40" x2="0" y2="118"><stop offset="0" stop-color="#bf9d10" stop-opacity="0.9"/><stop offset="0.5" stop-color="#bf9d10" stop-opacity="0.8"/><stop offset="0.7" stop-color="#bf9d10" stop-opacity="0.5"/><stop offset="1" stop-color="#bf9d10" stop-opacity="0.35"/></linearGradient><linearGradient id="gctx" gradientUnits="userSpaceOnUse" x1="0" y1="85" x2="0" y2="163"><stop offset="0" stop-color="#f8766d" stop-opacity="0.45"/><stop offset="0.4" stop-color="#f8766d" stop-opacity="0.6"/><stop offset="0.6" stop-color="#f8766d" stop-opacity="0.85"/><stop offset="1" stop-color="#f8766d" stop-opacity="0.85"/></linearGradient></defs>
<polygon points="282.6,39.1 283.3,44.0 283.8,48.0 285.8,52.0 285.0,56.0 283.8,64.0 281.5,75.4 280.4,86.7 277.0,98.0 274.7,107.0 272.4,115.0 268.0,118.2 264.5,117.3 261.0,116.0 257.7,111.6 253.1,104.8 247.5,95.8 245.2,89.0 247.5,82.2 250.9,75.4 249.7,70.8 253.1,61.7 260.0,55.0 269.0,49.3 279.2,47.0 281.5,44.0" fill="url(#ghy)"/>
<path d="M253.9 66.0h0M253.3 75.6h0M257.8 108.2h0M266.3 77.4h0M253.6 67.8h0M246.6 85.8h0M274.3 73.1h0M259.7 56.7h0M277.7 56.4h0M253.4 63.0h0M274.9 53.9h0M265.5 92.0h0M268.0 102.0h0M259.9 112.2h0M262.4 86.7h0M256.4 72.3h0M274.3 98.3h0M255.6 80.0h0M269.7 110.6h0M274.1 95.3h0M272.7 50.3h0M258.8 99.7h0M261.9 88.0h0M258.0 79.0h0M264.7 73.9h0M264.9 113.8h0M253.2 85.9h0M261.6 67.1h0M259.5 93.7h0M261.5 73.3h0M283.7 50.6h0M269.2 92.7h0M258.3 77.0h0M260.0 109.9h0M264.6 65.4h0M269.9 101.3h0M260.2 69.8h0M256.4 65.4h0M251.7 93.7h0M277.9 50.7h0M282.6 46.2h0M262.8 54.4h0M280.1 69.6h0M269.4 116.4h0M262.8 70.0h0M251.4 66.9h0M263.0 101.7h0M258.9 70.4h0M268.0 50.4h0M260.8 93.7h0M277.6 71.9h0M268.3 96.7h0M258.0 68.9h0M258.1 99.0h0M270.0 51.6h0M265.0 60.9h0M275.9 50.9h0M268.5 110.9h0M262.5 112.9h0M280.6 74.0h0M274.5 56.1h0M256.5 68.4h0M276.0 75.2h0M261.5 114.2h0M250.0 98.4h0M275.3 49.5h0M260.5 58.8h0M264.1 76.2h0M274.8 66.2h0M278.3 48.6h0M265.5 65.7h0M277.1 58.9h0M272.9 98.0h0M282.7 51.8h0M267.7 71.1h0M250.8 76.3h0M256.1 68.2h0M276.1 85.7h0M281.2 68.2h0M268.8 115.6h0M267.4 63.9h0M256.7 88.9h0M259.8 86.9h0M284.6 58.4h0M267.7 55.4h0M262.1 110.5h0M279.0 47.1h0M256.1 108.7h0M261.6 94.3h0M249.7 98.1h0M251.2 67.9h0M271.7 51.8h0M267.6 67.5h0M269.1 102.4h0M265.6 84.5h0M262.0 82.1h0M254.8 99.0h0M278.7 58.2h0M264.6 69.8h0M276.3 56.7h0M279.1 74.9h0M248.8 90.4h0M257.7 79.6h0M257.6 64.8h0M273.9 73.0h0M251.6 88.6h0M265.8 65.6h0M275.3 95.8h0M252.0 92.1h0M254.2 70.6h0M258.8 60.2h0M254.2 70.8h0M282.5 47.0h0M265.0 54.4h0M265.3 103.1h0M273.0 94.3h0M274.2 102.4h0M268.9 96.3h0M273.4 68.1h0M271.1 51.4h0M274.3 48.2h0M271.4 114.1h0M253.2 80.1h0M258.9 68.7h0M269.1 56.7h0M265.6 79.0h0M272.2 53.8h0M276.9 80.0h0M260.4 62.1h0M274.0 103.8h0M274.9 55.9h0M259.7 63.3h0M275.8 97.1h0M277.9 57.2h0M275.1 77.7h0M256.2 77.6h0M280.4 73.8h0M279.8 65.3h0M281.4 72.9h0M276.6 68.7h0M261.3 86.2h0M260.3 99.3h0M272.8 88.5h0M270.0 62.3h0M254.7 85.5h0M253.8 63.7h0M259.9 110.5h0M280.0 58.4h0M256.1 100.5h0M260.6 57.1h0M267.5 69.7h0M275.8 73.9h0M260.2 73.3h0M256.9 94.6h0M285.1 52.5h0M265.2 68.5h0M259.7 65.6h0M268.1 61.6h0M249.8 91.0h0M258.5 65.1h0M258.9 72.1h0M259.9 70.9h0M272.1 91.7h0M261.7 57.5h0M263.8 104.9h0M272.9 92.5h0M264.4 54.7h0M271.4 94.0h0M271.4 49.9h0M252.2 79.4h0M264.8 87.9h0M257.7 92.8h0M270.2 100.8h0M254.2 74.1h0M268.2 98.7h0M274.8 60.3h0M281.3 73.9h0M248.1 88.5h0M277.5 61.3h0M270.1 107.3h0M273.6 75.8h0M263.7 54.7h0M255.3 94.1h0M265.9 78.8h0M259.7 55.7h0M274.9 91.1h0M266.5 51.3h0M264.4 79.2h0M253.2 96.2h0M256.4 89.4h0M260.5 84.9h0M277.6 59.2h0M272.7 103.6h0M272.5 114.5h0M252.6 84.8h0M264.5 81.6h0M265.7 105.3h0M283.0 54.9h0M276.4 84.2h0M254.0 100.9h0M274.7 57.2h0M271.5 68.5h0M265.1 58.9h0M263.9 68.5h0M274.5 48.1h0M261.9 112.7h0M263.1 73.7h0M278.9 76.8h0M261.7 109.6h0M272.0 83.4h0M268.5 58.5h0M279.4 76.3h0M263.1 64.8h0M272.4 61.8h0M249.9 96.9h0M274.6 68.3h0M261.2 78.8h0M250.2 80.5h0M262.9 57.1h0M261.2 98.8h0M263.4 108.2h0M263.1 99.4h0M251.4 80.2h0M254.9 83.5h0M282.4 63.1h0M282.7 47.7h0M253.1 80.0h0M278.5 72.1h0M255.0 105.5h0M269.5 107.4h0M247.8 94.0h0M274.5 61.1h0M252.8 73.7h0M269.0 62.8h0M277.7 78.3h0M249.9 79.3h0M274.4 68.7h0M281.4 60.8h0M283.5 59.4h0M270.0 55.2h0M271.5 103.1h0M270.2 54.4h0M262.4 68.7h0M275.3 90.5h0M268.3 79.9h0M264.1 105.5h0M256.1 101.4h0M257.9 68.2h0M272.4 52.6h0M268.3 55.9h0M274.3 56.8h0M258.6 106.2h0M256.1 70.3h0M262.9 69.2h0M280.2 68.8h0M284.2 57.2h0M274.0 85.1h0M255.2 61.8h0M281.2 49.0h0M278.1 94.1h0M278.2 51.3h0M256.0 70.7h0M278.2 83.9h0M282.9 68.5h0M276.8 74.3h0M276.0 64.2h0M270.4 103.1h0M273.0 109.7h0M250.7 78.1h0M264.7 71.7h0M269.0 57.9h0M265.2 70.4h0M265.7 64.7h0M269.0 85.0h0M260.8 59.8h0M247.9 82.0h0M265.2 71.1h0M274.9 102.4h0M272.2 61.0h0M255.2 84.7h0M268.2 111.4h0M264.6 89.3h0M271.5 102.4h0M260.7 57.0h0M266.7 87.0h0M283.8 58.7h0M260.9 66.5h0M256.2 78.1h0M257.5 94.5h0M278.1 57.2h0M279.7 83.9h0M255.4 82.0h0M276.3 63.3h0M256.6 100.1h0M278.3 51.7h0M259.4 108.7h0M248.9 91.9h0M261.8 74.7h0M259.0 58.2h0M274.2 101.1h0M273.6 49.2h0M257.1 61.4h0M253.9 64.8h0M264.7 69.1h0M268.2 107.3h0M265.6 99.9h0M264.7 69.3h0M281.4 68.8h0M272.0 63.4h0M256.9 74.4h0M284.4 50.1h0M271.2 108.1h0M260.4 104.6h0M275.8 76.2h0M254.2 68.8h0M270.9 68.0h0M268.9 74.5h0M262.0 66.9h0M269.2 82.0h0M255.4 64.0h0M263.3 116.6h0M251.7 66.5h0M281.3 57.8h0M263.1 81.6h0M272.3 93.6h0M267.7 90.9h0M270.6 61.2h0M252.6 103.6h0M274.2 66.6h0M269.4 90.8h0M268.0 54.2h0M254.6 105.8h0M274.4 62.9h0M273.8 62.7h0M259.4 99.3h0M261.0 100.0h0M253.7 101.1h0M275.9 77.8h0M276.5 56.4h0M253.6 81.4h0M274.8 54.7h0M259.3 96.8h0M252.2 97.0h0M275.7 50.8h0M255.4 79.8h0M268.0 59.3h0M258.6 64.5h0M262.7 110.1h0M279.1 63.5h0M281.7 60.6h0M255.4 84.8h0M274.6 66.3h0M277.3 83.5h0M273.6 57.9h0M279.1 66.8h0M272.2 54.3h0M252.8 95.3h0M251.2 80.9h0M270.5 107.2h0M254.0 99.6h0M283.0 65.8h0M274.6 64.2h0M261.9 98.5h0M277.8 76.4h0M257.4 82.2h0M282.7 60.5h0M275.2 55.7h0M268.9 49.5h0M273.4 78.1h0M251.1 79.6h0M262.2 60.2h0M263.9 90.3h0M266.0 117.3h0M274.8 99.1h0M274.8 55.4h0M269.4 100.4h0M276.8 79.9h0M271.8 85.7h0M275.9 84.4h0M262.5 72.4h0M268.0 67.7h0M262.5 68.5h0M274.5 70.4h0M269.2 68.1h0M283.3 61.7h0M273.5 102.1h0M260.9 57.6h0M274.2 75.4h0M272.2 76.6h0M249.2 85.7h0M274.8 48.7h0M259.1 84.4h0M263.0 103.4h0M274.4 65.3h0M250.2 83.4h0M266.1 59.2h0M256.4 101.0h0M255.8 73.8h0M258.7 70.4h0M261.6 76.7h0M262.5 112.0h0M272.9 69.3h0M259.8 94.4h0M266.6 55.5h0M258.9 93.0h0M278.6 82.6h0M255.3 62.1h0M266.6 104.1h0M262.6 58.3h0M275.8 66.1h0M279.6 48.4h0M259.7 109.4h0M271.3 93.0h0M270.1 66.8h0M262.9 112.7h0M265.9 53.3h0M255.0 79.7h0M269.7 100.9h0M272.0 64.3h0M251.9 70.9h0M260.8 82.7h0M261.6 102.4h0M280.7 64.6h0M281.0 64.2h0M276.1 93.9h0M279.0 75.5h0M259.0 64.5h0M259.5 93.9h0M267.7 67.8h0M266.7 82.9h0M261.9 83.2h0M282.5 47.2h0M254.8 100.7h0M266.8 100.0h0M261.4 77.0h0M272.8 63.2h0M265.0 102.2h0M266.7 115.1h0M265.1 106.3h0M268.3 64.6h0M267.9 74.3h0M269.7 66.5h0M250.3 72.5h0M257.4 92.4h0M269.5 62.8h0M273.2 95.6h0M264.0 61.7h0M264.1 87.8h0M265.0 53.0h0M259.5 66.7h0M258.9 111.0h0M283.2 47.3h0M284.1 59.1h0M283.6 60.0h0M255.6 104.0h0M262.1 113.8h0M260.1 85.1h0M274.0 90.7h0M282.6 44.8h0M277.7 75.4h0M266.8 60.8h0M272.4 105.8h0M267.9 106.2h0M267.0 84.6h0M252.7 71.7h0M249.0 95.5h0M281.0 52.9h0M275.8 86.5h0M254.3 73.8h0M258.4 64.1h0M251.8 70.9h0M258.4 102.1h0M249.3 88.7h0M282.5 47.4h0M272.4 68.4h0M270.0 99.1h0M262.4 53.8h0M267.8 65.1h0M270.8 97.5h0M261.1 113.4h0M271.7 107.6h0M270.9 55.1h0M262.0 115.0h0M270.4 82.0h0M255.3 64.5h0M261.1 80.6h0M275.1 94.5h0M272.5 89.0h0M259.0 66.7h0M277.3 48.7h0M278.9 79.9h0M280.0 48.6h0M254.4 64.8h0M258.9 71.8h0M273.7 109.3h0M268.5 71.4h0M274.9 87.8h0M254.4 83.8h0M283.1 52.7h0M257.5 81.8h0M254.2 91.2h0M260.7 55.3h0M258.4 71.9h0M263.8 55.3h0M281.4 48.8h0M270.7 88.2h0M281.9 45.1h0M252.2 66.5h0M279.0 69.3h0M254.7 69.3h0M277.5 53.7h0M253.7 81.4h0M269.2 81.0h0M255.0 85.7h0M261.3 72.6h0M276.1 56.2h0M263.0 57.4h0M254.2 95.2h0M277.7 60.0h0M265.3 113.5h0M264.3 81.2h0M263.2 66.6h0M266.7 69.8h0M259.5 64.4h0M265.2 102.1h0M260.2 70.7h0M269.3 104.6h0M266.9 85.1h0M275.4 68.7h0M260.2 60.9h0M265.0 116.7h0M253.7 102.0h0M277.4 48.4h0M259.7 103.5h0M268.5 107.4h0M264.7 76.2h0M274.6 79.4h0M280.6 52.1h0M250.8 79.6h0M263.9 76.3h0M274.4 81.6h0M263.5 59.4h0M281.9 50.1h0M275.7 72.6h0M259.6 95.8h0M266.1 81.8h0M268.7 74.4h0M280.3 48.9h0M276.1 76.5h0M255.9 107.7h0M268.0 87.2h0M254.2 90.8h0M277.5 82.3h0M260.2 73.5h0M252.6 85.1h0M264.4 95.5h0M265.8 63.9h0M278.5 76.1h0M256.9 59.3h0M266.8 56.8h0M265.5 67.2h0M283.3 58.7h0M258.9 74.0h0M251.7 68.0h0M272.8 85.4h0M246.5 89.7h0M266.2 61.4h0M253.2 88.4h0M264.0 103.2h0M270.3 108.4h0M268.6 53.5h0M251.3 75.8h0M273.8 52.8h0M267.1 110.5h0M263.9 60.9h0M274.2 57.2h0M264.8 91.1h0M256.0 100.2h0M264.8 91.7h0M252.6 94.1h0M257.8 106.5h0M266.0 95.3h0M260.8 82.8h0M271.7 51.6h0M269.8 97.7h0M279.3 59.2h0M273.1 81.4h0M272.4 66.1h0M256.4 79.8h0M260.0 60.9h0M261.0 72.7h0M281.7 67.9h0M284.7 54.5h0M270.7 92.0h0M258.9 64.8h0M276.9 62.1h0M261.0 106.7h0M270.8 73.9h0M284.1 61.0h0M251.1 79.2h0M283.2 50.0h0M247.0 90.5h0M255.8 72.4h0M262.9 72.2h0M266.3 61.3h0M267.5 66.9h0M246.8 92.6h0M282.8 62.8h0M258.1 81.3h0M272.4 71.7h0M257.0 75.2h0M274.4 90.7h0M252.6 91.5h0M282.1 57.6h0M272.9 84.9h0M278.1 92.5h0M269.9 91.0h0M260.3 68.5h0M250.4 93.4h0M270.4 73.6h0M251.1 82.5h0M268.5 108.4h0M268.6 61.0h0M253.7 90.3h0M257.6 102.6h0M248.5 95.1h0M267.8 72.3h0M268.7 66.6h0M279.3 69.0h0M267.6 54.9h0M275.1 52.0h0M279.1 76.7h0M268.8 56.4h0M257.2 93.1h0M276.2 86.6h0M263.7 70.4h0M281.0 56.9h0M275.8 92.7h0M265.8 81.8h0M261.9 93.7h0M276.1 82.1h0M264.7 107.0h0M258.8 79.8h0M263.4 63.0h0M261.1 72.3h0M264.8 95.0h0M272.1 78.1h0M267.4 114.9h0M256.2 79.5h0M257.6 110.7h0M254.7 86.4h0M266.3 90.3h0M267.5 63.6h0M273.8 103.2h0M262.1 61.5h0M276.3 61.1h0M260.4 76.6h0M272.3 52.4h0M260.1 114.4h0M284.0 55.0h0M276.1 51.9h0M264.3 66.5h0M266.6 52.5h0M270.1 64.8h0M268.5 104.5h0M279.6 79.3h0M254.9 94.2h0M274.5 85.3h0M257.4 98.6h0M258.6 76.8h0M265.9 59.6h0M256.1 82.9h0M249.8 80.1h0M272.4 62.0h0M281.0 44.7h0M261.4 78.6h0M273.5 93.6h0M268.5 91.8h0M263.2 115.8h0M255.6 104.3h0M280.4 59.4h0M260.3 74.7h0M267.3 93.0h0M272.7 54.3h0M258.1 80.8h0M268.8 93.7h0M275.2 83.6h0M255.0 76.7h0M270.3 69.7h0M257.8 72.4h0M274.5 79.1h0M276.7 92.3h0M264.6 60.4h0M261.3 75.2h0M269.1 109.5h0M282.5 49.1h0M255.3 78.8h0M255.5 76.5h0M257.4 104.0h0M249.0 90.2h0M272.2 92.3h0M264.5 55.9h0M276.8 79.8h0M265.2 98.9h0M256.5 79.9h0M253.7 79.3h0M268.7 75.5h0M273.1 108.8h0M277.0 92.9h0M255.7 63.9h0M265.1 62.4h0M275.0 68.5h0M282.7 51.7h0M277.9 72.0h0M252.3 68.3h0M253.3 66.0h0M271.7 71.6h0M273.0 65.0h0M280.9 62.3h0M273.5 50.7h0M271.7 82.5h0M256.7 72.6h0M251.1 85.9h0M277.3 61.7h0M260.7 102.8h0M249.2 96.3h0M276.2 54.8h0M273.7 51.3h0M273.0 54.7h0M271.2 94.0h0M266.1 99.9h0M262.0 65.6h0M254.2 63.8h0M281.2 75.2h0M250.3 79.9h0M276.9 69.7h0M271.7 66.5h0M268.4 71.1h0M272.1 98.9h0M275.8 49.7h0M268.8 86.4h0M272.3 59.3h0M245.7 88.5h0M272.3 107.7h0M265.9 102.0h0M267.9 114.5h0M266.6 80.7h0M249.7 92.6h0M276.8 48.0h0M273.9 86.9h0M262.9 80.8h0M261.4 79.1h0M260.7 95.4h0M259.5 97.5h0M280.8 46.4h0M263.4 106.8h0M272.5 73.9h0M259.9 108.3h0M274.1 74.6h0M268.1 63.8h0M246.9 89.5h0M266.6 83.7h0M277.2 77.5h0M273.4 82.5h0M269.8 57.2h0M271.1 112.3h0M274.2 85.1h0M259.5 80.5h0M277.5 78.0h0M279.4 48.4h0M261.7 78.3h0M275.8 80.2h0M253.0 76.8h0M277.3 65.7h0M257.8 106.2h0M264.8 56.4h0M255.1 97.2h0M275.8 76.5h0M284.9 55.4h0M253.0 88.8h0M266.2 100.3h0M250.9 98.2h0M282.6 44.1h0M275.5 86.2h0M267.9 60.1h0M262.9 74.8h0M257.3 95.4h0M276.7 65.2h0M274.4 64.5h0M279.5 50.2h0M262.8 60.8h0M266.7 80.8h0M273.4 70.5h0M266.4 57.1h0M248.0 91.0h0M282.4 48.3h0M268.3 95.9h0M269.8 97.3h0M272.9 110.6h0M266.6 77.4h0M256.2 61.7h0M271.7 51.3h0M265.6 96.9h0M255.2 65.8h0M252.3 77.5h0M268.1 93.5h0M275.7 88.4h0M271.9 77.4h0M279.7 57.3h0M263.3 75.1h0M260.3 57.3h0M256.7 62.3h0M252.1 74.3h0M272.6 109.1h0M262.7 67.9h0M262.3 90.0h0M275.1 102.0h0M260.1 65.1h0M262.6 74.1h0M264.3 106.7h0M266.8 69.8h0M266.6 67.2h0M272.5 77.7h0M265.3 76.7h0M275.1 97.3h0M276.7 68.8h0M276.8 69.3h0M262.8 86.9h0M267.3 112.5h0M274.4 98.7h0M254.0 78.6h0M260.0 77.8h0M252.4 100.1h0M257.4 92.7h0M277.0 78.1h0M281.4 69.6h0M259.9 72.3h0M259.1 71.7h0M260.7 78.6h0M263.4 89.7h0M268.6 53.7h0M258.4 59.9h0M279.4 82.7h0M270.2 71.3h0M245.6 88.4h0M268.5 104.8h0M279.5 63.7h0M260.3 89.7h0M272.4 51.0h0M268.7 96.4h0M247.2 92.0h0M251.7 71.5h0M275.8 89.5h0M265.9 91.0h0M261.3 105.3h0M259.2 73.4h0M253.7 67.2h0M252.8 76.9h0M268.7 100.3h0M264.9 53.9h0M272.7 56.6h0M257.5 65.1h0M261.2 75.3h0M263.9 114.3h0M261.2 54.6h0M257.4 77.6h0M273.2 79.8h0M274.5 98.0h0M255.4 86.4h0M265.2 67.7h0M267.7 100.2h0M249.2 93.3h0M277.3 71.6h0M280.6 64.5h0M269.0 74.7h0M273.8 103.8h0M265.7 82.1h0M251.8 89.4h0M252.3 81.8h0M266.6 59.2h0M271.6 98.9h0M281.4 50.8h0M279.7 73.6h0M279.7 69.1h0M257.7 67.0h0M273.3 73.4h0M260.0 62.1h0M262.3 116.0h0M269.4 61.6h0M273.1 99.4h0M279.6 71.9h0M275.0 73.0h0M281.4 64.8h0M270.6 104.1h0M271.2 63.3h0M256.5 77.5h0M283.4 63.1h0M254.2 90.6h0M271.3 66.5h0M275.6 74.4h0M281.8 42.7h0M272.0 54.6h0M273.1 52.2h0M260.3 94.8h0M252.0 75.2h0M274.7 56.0h0M253.3 88.7h0M270.2 53.7h0M279.1 88.0h0M258.8 108.6h0M264.6 79.7h0M279.4 75.1h0M276.0 54.7h0M266.4 98.6h0M250.7 92.3h0M281.7 43.4h0M267.7 86.3h0M258.8 68.3h0M277.0 94.0h0M263.9 111.5h0M249.1 86.4h0M275.9 95.6h0M276.9 68.4h0M269.0 102.8h0M281.7 56.2h0M268.3 88.2h0M279.7 49.8h0M256.5 65.1h0M279.5 46.9h0M272.4 86.0h0M260.7 71.2h0M283.4 54.4h0M261.6 56.9h0M262.6 86.5h0M255.6 71.0h0M274.0 61.6h0M265.7 57.9h0M275.6 79.0h0M259.4 84.2h0M260.9 83.4h0M249.1 82.9h0M269.5 98.7h0M258.3 93.7h0M282.3 51.8h0M273.3 110.8h0M277.2 47.8h0M258.6 93.9h0M278.0 59.4h0M265.1 74.2h0M254.4 98.3h0M266.9 116.9h0M261.5 81.3h0M280.6 50.9h0M256.2 69.3h0M272.3 88.6h0M254.3 61.4h0M265.1 110.5h0M268.5 88.5h0M259.6 74.3h0M276.7 77.1h0M259.7 103.7h0M261.1 89.6h0M271.5 93.3h0M262.1 106.8h0M266.7 66.4h0M261.1 66.3h0M258.8 76.0h0M280.4 68.1h0M252.4 82.0h0M282.3 68.1h0M268.2 66.1h0M271.2 90.4h0M276.2 80.8h0M272.5 73.5h0M278.9 86.1h0M261.5 58.9h0M264.2 74.0h0M258.3 76.5h0M269.7 72.8h0M266.9 66.9h0M264.3 53.9h0M279.1 90.8h0M261.6 99.7h0M265.7 93.1h0M273.8 52.3h0M266.5 96.3h0M280.6 53.7h0M261.8 114.0h0M264.2 95.7h0M281.6 65.4h0M269.2 58.1h0M273.1 49.7h0M265.8 62.1h0M266.0 75.1h0M265.2 77.9h0M277.1 58.9h0M253.8 61.6h0M254.7 96.4h0M261.8 76.2h0M282.7 51.7h0M263.1 97.7h0M272.9 59.8h0M275.7 64.1h0M254.5 103.3h0M263.2 108.5h0M263.4 116.6h0M267.1 90.4h0M270.7 72.4h0M267.8 96.6h0M273.5 69.9h0M260.0 64.8h0M276.4 80.6h0M250.3 95.8h0M280.5 79.3h0M280.1 71.4h0M262.8 100.0h0M275.6 79.7h0M265.3 85.0h0M268.3 83.3h0M268.2 112.6h0M276.7 59.2h0M266.5 58.4h0M267.7 97.7h0M271.0 71.0h0M274.7 68.2h0M254.8 91.8h0M272.8 56.4h0M255.1 77.8h0M254.8 97.0h0M270.0 71.4h0M255.7 76.9h0M260.1 62.4h0M260.2 81.9h0M250.5 90.6h0M260.2 95.4h0M269.9 72.1h0M276.7 53.7h0M276.1 73.7h0M273.5 68.4h0M260.1 60.2h0M276.2 73.3h0M280.7 51.3h0M273.7 104.8h0M255.9 108.0h0M282.6 50.2h0M279.0 63.7h0M267.5 55.8h0M270.9 52.8h0M280.6 72.3h0M268.4 62.5h0M274.0 83.3h0M259.5 85.4h0M264.1 85.0h0M269.8 82.0h0M250.0 71.9h0M276.5 48.2h0M278.8 82.6h0M251.7 77.1h0M266.2 113.8h0M267.2 100.2h0M268.2 49.8h0M276.6 56.8h0M282.7 55.0h0M267.0 66.9h0M261.3 108.9h0M273.3 84.0h0M282.2 59.3h0M269.4 65.8h0M280.4 46.0h0M262.5 105.0h0M282.0 43.6h0M282.3 66.9h0M281.9 60.8h0M282.5 56.0h0M262.8 74.5h0M256.3 108.3h0M268.4 63.0h0M263.1 68.2h0M278.5 92.8h0M268.4 64.0h0M280.8 68.2h0M270.3 81.8h0M267.3 71.8h0M260.9 108.5h0M272.8 92.5h0M274.3 66.9h0M249.3 82.9h0M256.7 62.6h0M262.1 116.2h0M267.5 70.8h0M278.3 80.4h0M262.1 84.4h0M275.9 74.8h0M250.1 82.5h0M275.5 68.4h0M283.0 43.1h0M270.4 109.8h0M269.0 70.7h0M265.6 103.8h0M256.9 71.8h0M275.1 92.8h0M258.9 88.6h0M269.0 91.8h0M265.2 91.6h0M267.7 63.2h0M262.1 72.8h0M255.6 77.1h0M272.6 71.7h0M263.3 59.6h0M271.4 99.6h0M273.9 100.1h0M281.2 69.9h0M256.8 70.3h0M266.8 60.0h0M257.8 85.1h0M257.3 76.3h0M251.1 88.9h0M265.8 64.5h0M256.7 67.5h0M278.5 79.0h0M273.1 74.0h0M259.2 67.3h0M253.1 77.7h0M277.9 57.2h0M263.4 84.3h0M275.3 100.2h0M249.2 85.5h0M274.9 65.9h0M257.3 97.7h0M273.4 75.8h0M268.2 61.7h0M265.7 70.3h0M260.8 61.1h0M276.9 72.9h0M281.7 61.0h0M276.0 91.3h0M255.3 92.5h0M259.1 90.5h0M264.0 102.5h0M264.3 57.9h0M269.4 70.2h0M273.2 63.8h0M260.9 74.9h0M260.8 71.0h0M274.5 75.4h0M264.4 89.8h0M264.5 52.8h0M261.6 69.4h0M282.3 68.0h0M272.5 65.1h0M274.5 77.4h0M264.3 62.4h0M266.5 94.7h0M265.5 92.1h0M273.4 69.4h0M259.1 58.3h0M280.2 61.2h0M278.1 47.7h0M252.3 94.9h0M266.1 74.7h0M277.0 57.0h0M260.9 75.8h0M254.4 63.0h0M272.7 51.5h0M265.5 74.0h0M271.0 101.4h0M255.2 100.1h0M283.5 60.9h0M260.8 91.8h0M270.9 50.2h0M279.8 53.8h0M256.8 79.9h0M282.7 55.7h0M252.9 74.3h0M267.5 66.9h0M265.8 116.1h0M275.5 64.6h0M256.0 96.0h0M257.8 74.5h0M283.0 55.4h0M272.8 49.2h0M268.1 60.2h0M274.9 87.1h0M260.6 56.4h0M261.2 111.9h0M274.5 73.0h0M275.0 50.9h0M254.4 102.9h0M257.1 102.5h0M255.2 93.5h0M274.3 58.4h0M272.9 68.5h0M266.6 114.3h0M255.4 77.3h0M271.3 50.0h0M250.7 78.6h0M266.0 79.9h0M265.0 99.2h0M281.9 49.7h0M269.6 108.9h0M264.0 103.4h0M276.2 71.9h0M251.7 72.5h0M256.4 88.1h0M280.4 73.1h0M249.3 80.6h0M259.6 79.1h0M265.6 105.6h0M250.4 89.0h0M266.7 53.1h0M263.4 85.2h0M248.4 94.8h0M264.7 53.6h0M271.8 97.1h0M275.2 102.9h0M255.9 95.3h0M265.3 60.9h0M275.5 89.3h0M279.6 69.7h0M253.6 98.1h0M281.3 71.7h0M262.1 69.1h0M280.1 72.4h0M274.7 84.0h0M275.9 74.1h0M256.8 70.1h0M284.6 58.3h0M271.9 111.9h0M267.6 54.3h0M254.9 105.7h0M276.3 54.6h0M268.8 60.8h0M247.9 92.7h0M260.7 55.0h0M272.2 66.7h0M252.2 98.2h0M271.3 86.9h0M266.8 53.9h0M258.1 61.3h0M276.8 63.4h0M276.2 55.8h0M269.4 89.4h0M253.9 101.8h0M268.9 50.0h0M284.7 54.3h0M277.4 65.4h0M258.8 88.7h0M274.6 61.5h0M274.6 104.6h0M278.0 57.6h0M269.6 59.7h0M253.8 74.1h0M254.2 91.6h0M269.4 81.1h0M279.1 54.3h0M260.4 66.4h0M266.7 65.2h0M266.5 60.2h0M265.6 60.0h0M262.2 103.3h0M267.0 103.2h0M264.8 74.7h0M270.4 82.6h0M281.4 67.0h0M267.7 102.2h0M266.4 56.9h0M262.3 71.2h0M264.7 72.6h0M262.5 55.1h0M257.6 59.5h0M259.4 88.6h0M252.3 78.8h0M255.5 70.7h0M256.2 58.8h0M282.2 58.5h0M250.8 81.4h0M268.4 95.7h0M250.5 79.9h0M263.3 68.2h0M273.1 89.6h0M266.8 75.3h0M261.7 102.7h0M269.5 60.6h0M257.5 70.5h0M261.7 107.2h0M279.9 73.6h0M261.2 59.4h0M271.0 96.2h0M259.4 62.7h0M262.9 71.8h0M262.2 69.4h0M276.0 81.7h0M250.4 82.9h0M258.2 72.0h0M278.0 74.0h0M260.7 74.7h0M267.3 116.6h0M272.1 62.6h0M271.2 112.6h0M254.4 72.1h0M272.1 58.1h0M257.6 70.9h0M253.6 65.3h0M270.2 54.9h0M273.3 78.4h0M276.9 74.5h0M246.9 93.9h0M281.2 57.8h0M281.6 67.8h0M280.6 54.6h0M260.1 92.6h0M279.8 58.1h0M269.0 87.7h0M256.2 66.5h0M278.2 69.3h0M267.5 57.2h0M269.2 50.6h0M268.5 78.8h0M270.8 86.7h0M257.3 99.3h0M277.1 53.7h0M271.7 92.5h0M272.9 111.4h0M284.0 58.9h0M257.2 63.5h0M259.5 104.2h0M258.8 58.2h0M263.3 106.4h0M260.3 65.9h0M283.0 46.8h0M279.1 51.3h0M271.9 52.6h0M248.1 82.8h0M271.8 106.4h0M253.2 78.7h0M265.8 117.4h0M262.6 55.1h0M269.1 114.0h0M269.8 108.9h0M277.2 48.5h0M262.6 84.9h0M260.7 60.1h0M273.1 74.0h0M261.6 81.4h0M257.1 72.2h0M256.9 75.1h0M283.9 49.9h0M251.4 78.6h0M258.4 66.6h0M269.5 56.5h0M265.0 112.3h0M282.1 67.4h0M277.6 52.3h0M284.0 56.5h0M265.8 106.7h0M264.0 58.6h0M273.9 84.5h0M279.6 58.6h0M258.0 109.7h0M273.0 51.6h0M272.2 69.7h0M249.2 89.4h0M268.5 88.0h0M265.3 70.0h0M266.4 93.5h0M260.0 69.1h0M254.9 66.0h0M258.0 61.5h0M274.1 70.7h0M283.2 53.6h0M277.5 71.5h0M263.7 106.6h0M267.9 79.4h0M252.2 76.0h0M260.8 82.0h0M264.8 66.5h0M266.2 66.3h0M264.4 87.8h0M275.0 89.1h0M269.8 83.2h0M259.2 95.9h0M266.7 57.2h0M273.7 76.0h0M273.8 72.2h0M276.4 51.2h0M271.1 49.4h0M269.7 93.6h0M249.6 83.2h0M284.6 56.6h0M268.6 64.6h0M265.2 80.8h0M272.5 74.3h0M272.8 59.6h0M277.4 69.5h0M276.3 78.5h0M267.2 80.6h0M257.5 92.0h0M281.0 55.8h0M256.7 93.0h0M258.4 103.1h0M267.3 69.9h0M270.4 49.2h0M271.1 75.5h0M278.9 55.7h0M260.7 106.7h0M257.3 80.8h0M259.4 76.2h0M269.3 111.7h0M258.4 77.3h0M249.8 85.6h0M266.9 72.7h0M266.3 98.4h0M273.9 68.6h0M260.8 66.8h0M263.3 74.0h0M253.1 90.5h0M271.1 91.6h0M271.9 90.8h0M277.5 49.3h0M265.1 75.0h0M267.2 117.9h0M247.8 86.1h0M266.7 62.3h0M275.0 67.5h0M267.6 117.0h0M268.6 58.0h0M259.8 59.9h0M258.1 104.2h0M265.6 79.3h0M273.4 55.5h0M261.2 98.7h0M261.4 95.4h0M253.5 64.0h0M255.4 101.9h0M260.9 97.2h0M271.7 54.3h0M266.0 98.4h0M273.8 48.9h0M266.9 62.8h0M266.0 90.2h0M264.2 82.4h0M254.2 78.6h0M276.8 62.7h0M264.8 65.2h0M276.6 96.6h0M268.4 117.2h0M276.4 82.6h0M285.3 54.4h0M264.9 65.7h0M265.4 78.6h0M247.8 91.0h0M284.7 55.1h0M270.9 55.4h0M267.2 70.7h0M250.2 94.5h0M279.1 54.3h0M280.7 51.1h0M264.0 113.3h0M264.5 58.8h0M249.6 93.6h0M279.7 51.5h0M247.3 91.2h0M269.4 112.3h0M278.0 58.9h0M274.5 76.4h0M275.6 96.2h0M260.2 113.3h0M254.4 74.0h0M258.3 85.0h0M267.5 81.1h0M270.3 112.9h0M254.4 76.6h0M260.7 101.0h0M274.1 86.0h0M262.5 54.7h0M245.9 87.7h0M253.9 95.3h0M268.3 81.0h0M262.9 55.1h0M272.7 70.8h0M260.6 60.9h0M271.6 80.1h0M275.7 78.9h0M270.9 98.1h0M276.3 85.2h0M278.6 85.8h0M257.2 107.3h0M264.9 82.5h0M285.3 52.2h0M283.5 62.2h0M266.5 83.0h0M265.6 54.1h0M274.4 98.7h0M270.7 53.8h0M278.3 47.4h0M251.0 90.8h0M256.0 74.8h0M268.9 69.5h0M247.8 82.3h0M254.9 69.4h0" stroke="#bf9d10" stroke-width="1.0" stroke-linecap="round" fill="none"/>
<path d="M250.5 83.5h0M267.0 60.9h0M272.7 104.8h0M261.6 84.8h0M255.1 97.7h0M268.0 74.6h0M267.5 51.8h0M253.8 84.0h0M262.1 79.2h0M282.7 64.5h0M261.2 101.5h0M268.3 111.1h0M271.0 92.3h0M263.7 105.6h0M254.3 99.7h0M268.2 95.0h0M265.3 89.5h0M261.8 86.5h0M258.9 88.0h0M261.5 103.3h0M280.4 58.6h0M272.0 63.0h0M260.9 104.5h0M258.2 112.9h0M264.9 107.6h0M249.5 72.6h0M264.1 116.6h0M262.0 63.3h0M277.0 79.6h0M275.7 105.1h0M273.4 108.4h0M263.6 70.6h0M272.0 54.7h0M253.3 93.1h0M272.7 79.4h0M258.9 94.2h0M250.8 68.9h0M272.1 99.9h0M252.2 82.4h0M269.9 82.4h0M266.8 70.9h0M255.6 92.1h0M270.7 115.0h0M257.8 85.6h0M279.2 89.1h0M276.9 55.9h0M262.0 82.1h0M268.4 108.5h0M262.8 110.1h0M271.9 69.7h0M269.0 62.9h0M257.6 74.2h0M252.7 84.2h0M255.1 91.0h0M247.7 77.9h0M252.6 78.5h0M274.6 86.7h0M281.1 63.1h0M247.5 90.5h0M280.4 68.0h0M273.0 76.1h0M263.5 95.0h0M267.1 88.6h0M256.8 91.6h0M277.5 89.6h0M267.8 99.7h0M262.8 92.8h0M256.7 63.4h0M253.2 70.6h0M274.3 66.4h0M282.7 62.4h0M260.8 101.9h0M273.4 75.3h0M273.8 91.2h0M270.8 85.0h0M265.2 70.1h0M259.7 98.1h0M262.9 54.1h0M268.0 105.2h0M275.7 90.3h0M279.0 49.0h0M256.4 66.6h0M279.7 76.9h0M278.0 59.7h0M266.3 105.1h0M268.0 89.7h0M274.5 93.4h0M268.9 65.4h0M260.1 107.0h0M273.8 98.2h0M267.3 113.6h0M265.7 90.5h0M257.1 72.3h0M253.2 85.7h0M267.0 94.5h0M252.5 102.4h0M267.7 100.5h0M271.3 63.8h0M253.8 69.4h0M277.6 87.1h0M264.5 118.3h0M271.7 96.4h0M266.2 88.9h0M260.4 82.4h0M251.7 66.6h0M262.0 97.9h0M272.1 75.7h0M264.3 102.6h0M277.2 65.4h0M265.8 68.1h0M270.6 93.2h0M272.4 62.8h0M278.0 68.7h0M254.0 83.2h0M258.9 61.3h0M262.9 94.0h0M257.3 71.3h0M263.8 54.6h0M254.7 106.1h0M261.4 76.6h0M258.6 104.0h0M255.9 85.3h0M266.0 85.0h0M277.8 79.4h0M262.9 97.0h0M264.3 82.6h0M253.2 83.9h0M265.1 118.6h0M282.3 44.1h0M260.2 87.5h0M274.9 101.4h0M275.5 103.4h0M257.9 102.2h0M269.7 116.2h0M258.8 89.9h0M271.6 49.7h0M267.5 92.5h0M281.9 56.9h0M267.7 111.5h0M273.6 50.3h0M259.1 57.8h0M261.9 62.2h0M273.2 64.5h0M267.3 97.8h0M258.3 78.3h0M276.3 62.8h0M272.8 73.3h0M274.6 61.6h0M249.2 90.5h0M263.4 79.3h0M264.0 73.6h0M268.4 48.7h0M256.4 85.4h0M276.9 56.6h0M278.0 56.7h0M278.3 83.8h0M265.9 102.4h0M250.7 74.0h0M267.8 52.0h0M252.1 85.8h0M283.2 45.1h0M268.1 71.5h0M283.5 60.6h0M263.7 63.4h0M257.4 85.8h0M278.4 70.5h0M253.4 68.0h0M256.7 90.5h0M251.8 94.7h0M247.6 91.6h0M252.4 105.6h0M276.2 74.9h0M269.7 68.1h0M270.6 51.8h0M249.2 91.6h0M262.9 56.4h0M284.1 60.1h0M268.3 79.9h0M265.6 65.4h0M255.9 73.0h0M275.1 66.3h0M255.1 77.3h0M250.3 85.5h0M261.3 114.4h0M259.7 91.4h0M251.9 78.0h0M261.1 85.0h0M267.9 60.1h0M279.8 74.0h0M277.5 95.8h0M267.1 100.3h0M275.6 101.3h0M272.6 115.2h0M269.5 109.3h0M270.3 92.2h0M281.8 43.3h0M283.0 56.1h0M273.4 85.1h0M255.3 65.4h0M256.6 82.4h0M255.5 79.1h0M272.6 60.6h0M257.3 94.1h0M282.0 68.4h0M276.3 65.0h0M267.5 87.7h0M254.7 71.3h0M261.4 65.9h0M255.3 83.7h0M283.2 60.4h0M262.8 55.6h0M272.9 73.5h0M268.9 70.4h0M259.9 105.5h0M257.8 100.9h0M267.9 61.9h0M278.7 92.2h0M269.7 55.5h0M275.2 86.2h0M255.7 99.6h0M258.5 111.6h0M263.9 116.5h0M250.4 70.1h0M255.4 72.8h0M282.9 57.4h0M273.3 49.4h0M267.3 95.1h0M252.3 88.2h0M260.0 64.2h0M259.3 81.5h0M256.0 96.9h0M264.1 107.3h0M253.0 79.9h0M270.6 56.3h0M252.4 80.3h0M263.0 77.3h0M274.2 51.0h0M277.6 93.5h0M262.5 96.5h0M254.6 91.5h0M262.9 110.9h0M279.5 91.7h0M280.0 45.2h0M271.2 79.7h0M263.6 90.8h0M261.8 78.3h0M270.3 93.1h0M275.5 72.4h0M253.7 86.7h0M266.8 84.2h0M275.5 60.3h0M279.7 88.1h0M279.7 77.5h0M282.4 70.8h0M271.4 103.5h0M259.9 95.3h0M261.3 68.4h0M268.6 115.2h0M260.7 74.7h0M273.4 62.9h0M252.8 60.4h0M262.1 90.7h0M260.0 114.9h0M265.2 94.9h0M280.2 74.2h0M259.4 102.2h0M264.8 109.4h0M269.7 82.1h0M256.7 79.8h0M276.7 53.3h0M260.7 76.7h0M275.8 81.5h0M261.1 79.1h0M259.3 108.9h0M274.7 92.1h0M256.2 70.7h0M268.2 51.8h0M280.0 55.8h0M258.6 85.8h0M280.8 47.5h0M269.7 71.3h0M263.7 108.9h0M276.2 99.1h0M253.7 96.7h0M278.8 81.1h0M282.1 46.9h0M255.6 105.6h0M280.7 58.5h0M266.0 75.7h0M277.3 71.1h0M259.3 98.5h0M272.2 69.0h0M273.9 60.8h0M267.1 53.0h0M257.7 72.2h0M260.1 62.9h0M265.6 111.4h0M279.3 62.7h0M253.3 83.2h0M271.0 112.6h0M257.8 58.3h0M249.9 82.5h0M264.8 109.9h0M250.0 94.2h0M256.4 65.9h0M263.9 75.1h0M264.9 93.5h0M277.5 79.9h0M252.1 78.4h0M267.5 52.3h0M262.6 112.2h0M273.6 47.9h0M263.4 54.4h0M269.1 53.7h0M261.1 117.2h0M271.6 81.3h0M271.1 90.2h0M269.2 59.6h0M251.4 88.2h0M266.1 62.8h0M267.2 102.7h0M253.3 76.1h0M269.1 114.0h0M263.6 101.3h0M272.5 71.7h0M275.6 80.6h0M268.0 94.7h0M276.6 70.0h0M258.9 111.1h0M264.1 81.7h0M259.6 64.9h0M266.3 117.3h0M256.7 64.2h0M254.7 86.1h0M265.5 117.5h0M278.2 75.1h0M264.2 96.1h0M252.2 84.8h0M266.7 62.9h0M265.0 53.3h0M279.9 64.2h0M252.3 93.1h0M255.2 105.0h0M263.8 60.9h0M268.2 57.0h0M253.0 71.5h0M264.9 87.7h0M268.7 94.9h0M270.6 73.4h0M277.8 50.0h0M262.4 103.5h0M265.8 111.0h0M281.8 64.0h0M254.8 73.8h0M262.0 111.7h0M264.3 100.9h0M274.6 77.3h0M247.3 91.4h0M272.6 48.4h0M258.6 75.8h0M251.7 74.5h0M262.9 62.6h0M256.6 64.6h0M270.3 98.1h0M261.2 95.1h0M268.2 103.3h0M276.5 97.0h0M275.2 53.8h0M260.5 71.4h0M273.6 79.3h0M272.7 101.3h0M266.3 78.2h0M257.7 103.0h0M267.3 95.6h0M282.3 75.9h0M275.5 109.0h0M263.9 104.3h0M280.1 84.1h0M281.3 60.6h0M250.7 80.3h0M273.2 83.8h0M271.1 64.8h0M259.2 96.6h0M271.1 93.5h0M254.8 63.8h0M258.5 67.0h0M281.7 68.3h0M283.0 62.7h0M267.8 82.4h0M260.9 101.8h0M268.0 66.6h0M279.4 78.4h0M262.2 93.1h0M252.3 76.4h0M276.2 71.8h0M276.6 81.4h0M271.5 60.2h0M278.0 90.1h0M264.0 99.7h0M256.4 99.2h0M278.3 53.5h0M275.7 59.8h0M257.7 68.3h0M277.9 89.8h0M262.3 93.6h0M279.5 56.0h0M278.3 81.6h0M269.2 110.7h0M254.3 76.5h0M259.6 82.0h0M263.6 78.8h0M279.6 49.0h0M272.2 62.4h0M251.6 73.4h0M252.0 75.6h0M269.1 92.2h0M262.5 88.5h0M259.0 96.9h0M257.5 104.8h0M267.2 69.0h0M253.3 86.0h0M259.5 116.1h0M274.4 89.4h0M275.1 77.1h0M244.2 89.0h0M279.8 60.9h0M279.6 71.9h0M268.7 74.1h0M276.7 65.5h0M264.8 58.3h0M257.0 60.3h0M271.8 50.0h0M272.1 115.5h0M266.2 84.6h0M261.6 113.2h0M269.1 55.4h0M252.8 63.0h0M256.9 59.0h0M255.0 66.9h0M266.2 83.9h0M274.1 61.8h0M260.7 113.8h0M271.6 96.9h0M271.2 108.2h0M277.4 77.1h0M257.0 102.3h0M255.4 85.5h0M259.6 112.8h0M278.7 48.7h0M280.5 60.5h0M275.7 50.5h0M264.4 84.8h0M268.2 107.5h0M282.9 78.5h0M254.2 101.7h0M263.1 60.8h0M277.7 99.8h0M278.4 79.3h0M271.3 48.2h0M274.3 56.7h0M268.2 107.2h0M256.2 65.8h0M245.7 95.1h0M281.6 54.4h0M261.3 53.3h0M277.8 58.1h0M268.3 98.7h0M257.1 58.7h0M247.8 90.2h0M261.2 55.4h0M258.2 64.2h0M250.6 85.7h0M275.0 57.8h0M257.6 102.6h0M267.8 83.1h0M270.8 112.2h0M265.2 108.1h0M255.0 85.6h0M263.9 52.4h0M271.5 100.3h0M279.3 83.3h0M278.2 101.2h0M276.3 63.7h0M268.2 103.2h0M252.8 69.3h0M281.2 62.1h0M269.8 78.5h0M274.1 101.8h0M254.1 79.4h0M253.9 103.5h0M258.8 69.4h0M266.5 88.8h0M252.8 69.7h0M256.7 82.6h0M271.9 58.1h0M247.7 85.4h0M282.4 64.8h0M257.6 66.8h0M262.0 82.8h0M254.2 80.3h0" stroke="#bf9d10" stroke-width="0.9" stroke-linecap="round" fill="none"/>
<circle cx="265" cy="77.5" r="2" fill="#fff" opacity="0.7"/>
<path d="M253.7 99.3h0M270.7 105.1h0M279.2 78.3h0M270.1 82.2h0M269.3 98.6h0M264.8 100.2h0M264.3 81.9h0M260.3 77.5h0M257.1 98.1h0M268.9 98.2h0M257.6 106.6h0M277.3 96.4h0M254.6 89.4h0M275.1 95.3h0M272.3 86.6h0M254.2 77.9h0M272.1 110.0h0M253.1 89.0h0M271.4 49.7h0M263.1 96.7h0M260.6 112.6h0M259.2 106.3h0M279.2 80.0h0M258.3 90.4h0M254.8 97.3h0M261.8 115.9h0M267.5 91.9h0M258.0 86.9h0M272.2 101.8h0M279.5 82.7h0M270.8 101.2h0M271.3 78.0h0M258.4 110.6h0M272.2 82.1h0M259.6 86.0h0M273.8 104.0h0M276.1 89.1h0M273.5 73.2h0M253.4 101.8h0M269.3 93.2h0M258.6 98.6h0M276.8 79.2h0M250.7 100.7h0M258.5 77.7h0M258.2 94.5h0M264.1 88.2h0M268.6 101.3h0M254.5 75.5h0M264.0 109.9h0M263.4 116.9h0M264.4 101.3h0M275.6 65.4h0M257.4 72.5h0M264.4 76.3h0M266.5 114.4h0M264.6 112.9h0M275.7 92.8h0M264.0 77.1h0M261.4 114.5h0M273.4 87.1h0M274.7 94.8h0M265.2 96.7h0M280.0 87.7h0M255.8 107.8h0M264.8 114.3h0M254.6 94.7h0M249.8 79.1h0M257.3 108.8h0M264.3 91.5h0M261.1 99.2h0M276.2 86.0h0M255.7 89.6h0M271.7 115.4h0M274.5 106.8h0M267.8 108.2h0M271.0 76.3h0M272.4 104.0h0M272.1 105.0h0M273.1 75.1h0M280.6 82.9h0M260.9 68.0h0M259.4 92.6h0M266.8 90.2h0M257.9 75.0h0M260.7 97.5h0M255.3 80.8h0M258.2 84.8h0M253.0 102.4h0M276.7 92.7h0M259.0 107.2h0M258.0 88.2h0M277.8 78.1h0M251.5 97.1h0M265.0 77.9h0M271.2 79.2h0M253.4 76.0h0M265.3 92.9h0M263.4 84.8h0M265.6 80.3h0M255.7 91.0h0M271.4 78.4h0M270.4 97.1h0M271.6 101.9h0M271.1 104.4h0M255.1 82.2h0M277.9 87.9h0M265.9 107.5h0M257.7 77.8h0M270.0 108.9h0M258.9 78.6h0M260.7 100.5h0M252.4 101.4h0M268.1 79.1h0M255.7 96.6h0M266.9 111.8h0M260.5 99.5h0M279.6 49.1h0M265.4 87.4h0M262.1 113.1h0M270.2 83.1h0M254.5 62.1h0M259.1 97.5h0M255.9 103.3h0M272.6 92.7h0M268.9 93.5h0M255.5 98.1h0M275.8 83.2h0M259.4 75.1h0M249.8 96.3h0M271.1 83.3h0M266.2 103.5h0M276.3 85.7h0M267.3 75.2h0M262.1 84.1h0M269.3 96.1h0M250.5 92.4h0M278.4 82.7h0M276.8 79.0h0M254.3 80.7h0M262.3 110.4h0M250.1 77.1h0M259.6 81.5h0M262.2 109.3h0M258.0 99.1h0M272.3 57.4h0M280.6 75.4h0M271.7 109.4h0M257.0 96.2h0M277.4 93.2h0M259.4 78.0h0M267.8 80.9h0M271.7 102.6h0M260.9 92.9h0M263.5 109.3h0M260.2 108.8h0M265.2 90.3h0M270.8 90.1h0M257.9 73.0h0M256.4 92.7h0M253.8 78.6h0M263.0 99.4h0M267.6 74.4h0M272.1 89.2h0M254.0 104.2h0M257.4 78.3h0M274.1 100.2h0M258.0 93.7h0M280.1 75.6h0M267.2 83.7h0M277.1 83.5h0M254.6 102.4h0M269.3 113.4h0M274.8 97.5h0M265.1 111.5h0M274.7 90.8h0M256.7 95.6h0M251.4 92.4h0M268.2 109.9h0M280.0 80.3h0M258.5 80.0h0M252.7 94.5h0M263.4 72.8h0M248.1 82.5h0M251.8 88.7h0M261.7 102.0h0M280.4 85.7h0M263.2 100.4h0M268.5 63.4h0M268.5 87.7h0M250.6 79.9h0M273.5 110.4h0M257.3 102.9h0M269.2 95.3h0M278.5 83.1h0M273.3 81.1h0M255.2 87.0h0M255.6 104.5h0M254.1 99.8h0M272.1 96.8h0M262.9 105.6h0" stroke="#fff" stroke-width="1.0" stroke-linecap="round" fill="none" opacity="0.75"/>
<polygon points="226.7,88.5 236.0,85.5 244.9,86.2 247.0,92.0 244.9,96.8 238.0,103.6 233.5,112.7 232.4,119.5 235.8,128.6 236.9,139.9 239.2,151.2 235.8,158.0 226.7,162.6 215.4,163.0 204.0,159.2 198.4,152.4 197.2,144.4 199.5,135.4 206.3,126.3 213.1,115.0 214.2,105.9 218.8,99.0 222.0,93.0" fill="url(#gctx)"/>
<path d="M236.0 149.6h0M233.8 93.9h0M203.6 148.2h0M226.3 139.5h0M226.9 113.4h0M225.9 138.7h0M222.9 114.5h0M199.3 144.3h0M228.0 152.3h0M230.1 144.5h0M211.2 158.4h0M226.4 128.0h0M216.3 150.9h0M228.7 128.4h0M227.7 146.4h0M218.8 142.4h0M212.5 126.6h0M221.1 116.7h0M202.4 144.8h0M221.7 97.3h0M222.9 138.2h0M226.6 126.4h0M231.8 103.7h0M232.2 156.5h0M212.3 146.3h0M213.0 161.4h0M231.9 112.2h0M219.9 151.9h0M227.9 103.7h0M219.7 102.4h0M228.8 136.2h0M199.6 146.6h0M232.4 117.3h0M232.5 156.6h0M226.8 150.4h0M229.5 117.4h0M221.5 104.2h0M216.6 159.9h0M232.4 110.6h0M229.3 155.4h0M234.0 104.2h0M204.1 146.0h0M207.8 140.7h0M199.7 147.5h0M214.6 138.8h0M218.2 160.8h0M214.2 147.9h0M227.9 160.7h0M219.3 148.1h0M221.2 110.6h0M205.9 154.4h0M199.2 141.3h0M233.5 155.8h0M202.4 155.6h0M218.6 161.2h0M227.3 114.2h0M232.5 106.0h0M224.0 110.7h0M236.3 93.5h0M212.3 123.7h0M220.2 134.0h0M206.5 127.2h0M230.0 120.4h0M228.9 128.8h0M221.0 160.6h0M229.5 136.5h0M221.8 129.5h0M213.4 131.2h0M226.2 157.1h0M220.2 117.1h0M234.9 105.6h0M227.8 97.2h0M224.0 126.2h0M230.9 94.9h0M233.4 148.9h0M213.5 154.7h0M232.0 94.1h0M227.4 108.6h0M237.0 93.7h0M245.3 88.6h0M232.9 127.0h0M208.0 126.9h0M221.3 159.5h0M224.7 127.2h0M216.7 128.6h0M230.0 152.8h0M242.8 86.6h0M237.1 102.5h0M227.6 149.4h0M229.1 144.9h0M231.7 87.2h0M224.8 96.5h0M223.9 119.6h0M229.7 92.7h0M211.5 127.5h0M235.7 136.8h0M216.9 134.9h0M215.1 105.3h0M222.5 124.3h0M203.9 132.8h0M239.2 99.3h0M227.9 127.2h0M207.8 151.9h0M204.0 146.0h0M200.9 154.5h0M210.8 139.5h0M230.3 137.7h0M235.6 106.5h0M219.1 131.4h0M232.7 117.2h0M214.9 134.0h0M217.2 138.5h0M231.9 110.3h0M225.0 119.2h0M222.5 130.5h0M222.6 115.7h0M238.1 103.4h0M226.9 112.7h0M228.1 113.4h0M213.9 113.3h0M235.1 144.5h0M216.2 142.0h0M222.7 140.3h0M213.0 160.9h0M207.1 135.3h0M216.4 142.1h0M203.9 145.7h0M226.5 119.5h0M231.1 124.1h0M235.2 156.5h0M232.8 126.8h0M211.2 146.4h0M223.5 133.1h0M216.6 118.4h0M232.2 142.2h0M231.4 99.0h0M219.4 132.2h0M241.1 87.1h0M236.7 97.7h0M223.9 108.9h0M231.7 118.6h0M210.8 126.7h0M223.8 141.0h0M228.0 145.2h0M210.2 124.2h0M222.9 148.6h0M228.2 148.3h0M212.5 137.9h0M225.2 94.3h0M208.0 138.7h0M223.0 154.9h0M234.1 137.7h0M224.2 148.8h0M220.3 120.9h0M225.6 126.6h0M214.9 146.6h0M245.9 92.3h0M210.4 145.4h0M231.5 146.1h0M225.4 98.3h0M222.1 144.9h0M201.9 138.8h0M218.7 162.7h0M220.6 133.1h0M217.6 102.5h0M222.4 104.8h0M233.3 151.9h0M230.9 107.5h0M199.9 143.7h0M217.1 161.1h0M203.2 133.2h0M216.8 105.6h0M217.2 149.5h0M221.5 149.9h0M220.2 117.3h0M225.1 91.1h0M212.9 159.2h0M215.1 135.9h0M209.7 135.3h0M223.8 131.0h0M211.3 125.7h0M221.9 129.2h0M215.0 112.3h0M225.7 134.0h0M234.1 134.3h0M229.0 140.7h0M227.0 132.8h0M210.6 130.0h0M215.4 111.3h0M208.2 159.6h0M222.8 139.0h0M226.9 155.7h0M216.7 116.2h0M219.8 149.5h0M232.0 93.9h0M235.7 152.0h0M213.4 129.3h0M225.8 154.8h0M227.8 132.9h0M225.7 98.2h0M221.7 123.0h0M230.3 107.0h0M206.3 128.9h0M216.8 151.5h0M206.4 126.5h0M223.1 133.4h0M231.1 91.4h0M236.8 92.0h0M229.1 109.5h0M245.2 95.9h0M221.7 95.3h0M203.6 141.0h0M236.4 97.5h0M209.9 131.8h0M197.8 148.0h0M229.5 95.8h0M232.8 145.0h0M220.8 132.8h0M222.1 104.9h0M212.9 137.7h0M201.0 149.6h0M240.7 99.8h0M223.0 101.7h0M202.8 132.9h0M231.0 152.8h0M206.0 142.1h0M204.4 155.0h0M225.9 131.0h0M240.8 97.8h0M201.7 145.2h0M217.8 106.9h0M207.6 130.2h0M227.1 89.3h0M223.2 131.8h0M206.5 155.1h0M215.9 128.9h0M213.0 119.0h0M220.5 105.4h0M217.5 107.6h0M204.4 145.2h0M231.1 121.3h0M233.3 158.8h0M228.9 90.5h0M232.2 94.4h0M205.2 153.0h0M232.1 119.0h0M211.3 128.3h0M222.0 109.1h0M232.6 108.9h0M205.7 145.2h0M225.7 124.3h0M222.1 115.6h0M211.7 145.7h0M233.5 156.9h0M224.3 130.6h0M226.9 157.1h0M213.6 151.6h0M222.4 145.1h0M226.8 120.6h0M203.7 138.7h0M220.7 132.8h0M219.5 129.9h0M220.8 128.4h0M234.5 150.3h0M246.6 91.6h0M216.6 126.4h0M232.3 138.4h0M236.8 139.6h0M236.9 139.9h0M227.2 117.2h0M235.3 130.9h0M233.1 158.0h0M204.8 142.9h0M228.7 128.1h0M221.6 120.7h0M216.8 114.0h0M214.9 122.0h0M226.6 97.4h0M205.6 134.4h0M225.8 123.5h0M223.1 113.0h0M223.7 108.7h0M227.2 109.1h0M214.1 120.6h0M227.9 145.3h0M233.3 157.9h0M222.1 133.4h0M203.9 141.6h0M210.4 128.4h0M208.8 125.2h0M216.9 153.6h0M223.2 144.9h0M210.0 124.6h0M223.5 109.6h0M231.1 130.6h0M232.7 92.5h0M208.0 157.4h0M224.9 121.2h0M226.3 120.4h0M219.3 162.0h0M235.2 137.5h0M202.0 148.5h0M205.8 155.0h0M232.1 139.1h0M229.4 144.5h0M214.4 144.7h0M216.1 120.9h0M231.4 138.9h0M229.5 96.2h0M231.5 146.0h0M234.6 134.3h0M226.7 104.4h0M210.1 136.4h0M205.0 147.7h0M229.5 128.1h0M222.0 95.0h0M228.7 103.7h0M199.6 152.2h0M231.2 102.2h0M215.8 137.8h0M238.1 91.3h0M232.7 151.6h0M214.5 151.3h0M214.6 150.1h0M213.6 128.5h0M228.2 94.8h0M218.7 135.0h0M203.5 140.4h0M202.2 154.9h0M232.5 125.8h0M226.0 134.0h0M242.4 88.0h0M232.6 91.1h0M223.8 99.2h0M218.5 160.9h0M220.1 139.1h0M224.7 162.3h0M199.8 144.2h0M245.6 89.6h0M227.7 143.3h0M216.2 148.9h0M209.6 149.2h0M226.8 115.0h0M216.8 119.0h0M235.2 138.4h0M231.3 106.5h0M202.7 141.7h0M219.2 110.1h0M236.1 135.1h0M230.8 155.5h0M200.7 142.4h0M234.6 87.9h0M209.5 139.7h0M215.6 105.9h0M232.4 111.2h0M236.5 151.9h0M203.9 141.9h0M222.3 158.6h0M211.2 148.9h0M213.5 112.4h0M216.9 153.0h0M227.9 123.7h0M231.3 148.6h0M231.3 99.1h0M233.2 103.7h0M216.3 124.6h0M203.0 134.6h0M216.2 162.2h0M221.1 149.9h0M230.2 92.1h0M243.0 91.8h0M225.8 152.4h0M209.8 132.9h0M223.0 146.8h0M221.0 95.2h0M221.8 110.6h0M204.5 135.8h0M244.7 87.6h0M222.2 160.5h0M237.1 150.8h0M223.9 130.3h0M224.2 137.7h0M221.6 137.2h0M235.1 87.9h0M207.0 147.0h0M232.5 139.7h0M235.8 101.1h0M210.4 147.9h0M235.0 95.4h0M213.9 160.4h0M226.7 127.7h0M211.3 155.3h0M227.7 108.0h0M213.6 158.1h0M226.0 134.1h0M234.2 90.4h0M227.3 146.2h0M221.6 108.6h0M232.6 113.6h0M221.0 117.3h0M216.4 153.0h0M219.1 162.4h0M231.9 154.4h0M233.5 141.4h0M224.8 138.7h0M213.8 148.8h0M217.5 139.6h0M199.2 138.3h0M219.2 144.8h0M206.8 136.2h0M229.2 151.4h0M217.5 112.2h0M235.2 147.8h0M214.1 124.6h0M226.8 137.6h0M209.8 145.5h0M235.8 150.3h0M232.3 87.8h0M214.4 121.1h0M233.8 91.1h0M213.4 137.3h0M228.1 129.1h0M211.6 122.0h0M211.1 126.8h0M211.3 134.3h0M221.0 147.6h0M209.2 159.6h0M233.6 134.0h0M225.4 136.0h0M221.5 100.8h0M215.1 141.4h0M236.3 102.3h0M216.4 162.1h0M223.1 120.3h0M200.7 143.8h0M245.4 92.2h0M220.5 139.4h0M224.2 116.1h0M234.0 104.5h0M232.1 118.0h0M208.3 154.6h0M219.3 111.9h0M216.5 138.5h0M215.5 161.6h0M211.3 138.1h0M233.5 122.7h0M235.7 150.6h0M203.4 148.7h0M226.7 131.9h0M207.1 152.1h0M223.9 153.5h0M205.9 155.4h0M218.0 154.1h0M227.6 111.9h0M224.7 91.2h0M213.1 115.4h0M221.0 157.2h0M224.2 125.5h0M230.4 137.3h0M215.8 119.8h0M203.0 150.9h0M217.6 117.5h0M231.2 146.1h0M230.5 98.4h0M203.2 143.8h0M227.5 113.6h0M220.8 110.2h0M226.5 93.7h0M205.4 131.7h0M204.0 139.6h0M201.4 152.4h0M213.4 134.4h0M230.5 137.6h0M231.1 92.0h0M208.6 152.2h0M242.1 96.2h0M210.8 159.5h0M213.2 152.2h0M223.6 119.6h0M214.4 158.2h0M226.4 114.6h0M213.0 158.7h0M230.3 121.5h0M202.8 143.0h0M232.9 143.8h0M214.8 127.8h0M212.4 145.1h0M220.7 102.3h0M224.3 96.2h0M226.0 104.4h0M206.5 138.2h0M222.4 102.7h0M236.6 146.4h0M211.6 125.2h0M233.9 95.0h0M226.7 130.9h0M218.6 110.8h0M208.8 122.5h0M214.1 133.3h0M237.7 99.5h0M238.0 98.7h0M231.3 145.7h0M213.5 148.2h0M231.2 103.7h0M217.2 140.7h0M226.5 128.0h0M221.1 149.2h0M229.2 90.6h0M203.9 155.7h0M225.9 140.3h0M228.5 102.3h0M214.8 121.6h0M214.2 135.7h0M237.1 103.5h0M218.0 104.8h0M228.9 124.0h0M218.0 110.7h0M224.9 129.7h0M220.5 127.4h0M214.0 161.8h0M227.5 91.1h0M223.1 108.3h0M217.1 132.9h0M245.7 91.0h0M227.7 103.0h0M226.4 103.9h0M223.6 100.0h0M222.7 98.7h0M224.5 101.3h0M229.2 105.3h0M199.1 152.5h0M236.2 144.7h0M223.8 161.7h0M205.1 143.6h0M236.4 137.8h0M203.4 148.0h0M218.7 114.4h0M230.7 143.9h0M207.5 129.3h0M220.1 98.3h0M203.3 133.9h0M230.5 92.3h0M202.2 153.9h0M217.1 110.4h0M199.7 142.1h0M224.8 140.9h0M218.8 126.4h0M222.1 141.4h0M219.6 122.1h0M229.7 122.7h0M208.5 143.8h0M204.0 150.0h0M206.1 128.8h0M221.6 146.6h0M206.6 143.6h0M218.2 114.4h0M221.2 111.5h0M232.3 137.3h0M212.1 136.4h0M232.5 153.9h0M206.2 150.7h0M226.5 153.8h0M216.0 108.6h0M206.7 148.7h0M213.2 117.1h0M209.4 145.9h0M225.5 120.6h0M234.9 155.6h0M218.0 139.6h0M204.8 159.2h0M201.1 135.9h0M225.4 117.2h0M231.0 109.5h0M211.3 134.9h0M235.5 87.5h0M222.6 153.1h0M198.5 145.7h0M229.0 161.3h0M212.1 122.4h0M231.1 89.0h0M209.3 139.8h0M221.1 101.4h0M202.3 153.4h0M231.1 119.0h0M242.9 91.0h0M219.8 152.6h0M224.0 147.3h0M244.9 87.9h0M235.3 86.4h0M206.6 129.1h0M217.9 129.6h0M217.3 103.4h0M214.4 112.2h0M205.5 131.6h0M220.6 108.1h0M209.9 155.1h0M231.3 131.0h0M233.4 145.6h0M235.2 86.9h0M213.9 147.0h0M232.2 146.1h0M228.2 117.3h0M222.8 155.0h0M217.0 125.2h0M203.7 133.2h0M220.4 122.3h0M226.8 99.1h0M230.8 124.2h0M216.3 110.7h0M217.4 124.8h0M226.3 129.0h0M229.2 137.7h0M235.0 92.2h0M228.7 154.4h0M215.4 146.2h0M224.1 155.0h0M233.6 154.7h0M225.9 101.2h0M232.2 139.1h0M238.3 148.6h0M212.8 148.2h0M231.7 111.4h0M231.6 146.5h0M222.6 127.2h0M200.4 147.1h0M202.6 156.4h0M224.2 131.0h0M233.1 103.5h0M227.6 112.2h0M225.6 159.2h0M232.0 140.5h0M221.7 143.9h0M223.6 101.5h0M220.9 95.7h0M209.3 159.7h0M225.3 142.2h0M225.7 153.3h0M209.9 139.3h0M229.7 97.0h0M236.2 144.3h0M224.2 127.4h0M237.2 142.7h0M204.1 157.5h0M222.8 123.7h0M219.3 142.0h0M225.1 118.1h0M236.6 101.1h0M225.4 139.9h0M222.3 132.6h0M205.8 133.0h0M233.6 144.9h0M241.5 89.2h0M209.1 141.9h0M234.1 137.5h0M221.1 132.6h0M214.0 161.5h0M211.3 121.6h0M219.9 118.2h0M233.8 124.9h0M231.2 119.5h0M215.0 134.1h0M232.2 131.7h0M197.7 142.6h0M211.7 158.5h0M226.1 97.4h0M240.7 93.6h0M199.1 138.3h0M212.1 129.8h0M234.2 125.1h0M211.9 159.0h0M216.3 120.3h0M224.2 133.1h0M205.6 139.9h0M219.6 158.8h0M214.5 124.4h0M237.0 153.4h0M229.9 160.7h0M207.4 126.2h0M218.4 129.6h0M211.8 156.5h0M221.8 159.3h0M243.1 94.1h0M226.2 99.1h0M223.1 110.6h0M208.7 151.1h0M215.4 151.5h0M211.7 119.4h0M214.8 133.9h0M219.8 110.1h0M216.3 119.8h0M220.4 152.1h0M237.4 152.4h0M220.5 159.3h0M200.1 151.1h0M230.6 87.6h0M227.5 89.8h0M229.5 136.6h0M214.8 111.4h0M223.4 110.0h0M213.5 129.3h0M216.5 153.1h0M235.8 105.1h0M218.4 158.3h0M230.0 118.6h0M204.8 137.6h0M235.9 87.1h0M237.8 147.8h0M222.5 161.6h0M235.4 134.3h0M203.3 149.5h0M232.8 130.0h0M225.3 139.0h0M223.8 102.1h0M231.1 124.5h0M235.2 101.8h0M236.4 102.7h0M206.3 142.5h0M201.5 145.1h0M237.1 92.2h0M213.1 126.5h0M216.4 139.4h0M199.0 144.0h0M230.2 103.0h0M198.5 148.6h0M227.0 105.7h0M218.3 133.2h0M205.8 132.5h0M228.9 152.2h0M237.7 144.9h0M226.3 89.5h0M227.2 113.5h0M217.0 155.1h0M221.4 110.9h0M217.2 123.9h0M227.8 140.5h0M199.2 143.8h0M232.6 156.9h0M233.5 107.6h0M222.6 129.6h0M210.8 130.4h0M227.1 120.2h0M209.9 151.3h0M227.9 162.0h0M205.8 159.2h0M229.3 89.2h0M241.5 89.1h0M219.0 152.0h0M227.9 152.7h0M229.3 88.8h0M228.5 89.1h0M228.0 135.1h0M216.0 131.6h0M216.7 142.7h0M241.6 91.5h0M219.2 142.3h0M209.7 149.6h0M208.0 159.2h0M231.2 103.4h0M218.2 130.7h0M205.3 155.6h0M204.2 138.3h0M222.5 150.6h0M225.2 105.2h0M204.4 135.5h0M221.5 104.0h0M204.6 149.3h0M230.1 106.7h0M229.6 91.2h0M220.0 133.4h0M237.3 154.3h0M221.7 111.2h0M232.3 92.1h0M227.8 89.3h0M236.1 102.7h0M219.5 152.0h0M234.3 94.6h0M230.5 115.3h0M227.9 121.9h0M222.2 134.8h0M218.0 146.1h0M228.3 105.2h0M207.6 135.9h0M224.6 98.0h0M218.7 156.9h0M218.0 108.4h0M228.2 90.0h0M214.9 156.7h0M233.1 128.0h0M228.7 104.0h0M227.9 138.3h0M218.8 102.4h0M223.2 111.9h0M224.3 132.8h0M224.7 151.1h0M235.4 145.5h0M219.6 106.3h0M234.4 98.9h0M228.1 89.7h0M230.8 146.0h0M233.4 126.9h0M236.1 101.7h0M220.8 128.7h0M211.1 157.2h0M233.5 126.2h0M233.0 128.8h0M236.7 152.1h0M234.3 149.7h0M209.8 158.7h0M201.0 153.9h0M234.0 89.6h0M213.9 140.0h0M212.8 116.0h0M222.2 104.3h0M211.6 156.4h0M229.2 123.1h0M227.0 92.6h0M235.1 140.2h0M209.8 160.1h0M211.6 148.7h0M217.5 149.0h0M216.0 117.0h0M233.7 112.4h0M223.6 93.9h0M231.4 110.6h0M244.3 91.3h0M213.0 154.0h0M235.8 143.5h0M228.9 130.5h0M227.3 91.4h0M228.7 132.4h0M221.7 133.1h0M205.1 131.6h0M233.4 154.9h0M214.9 118.7h0M231.0 156.0h0M227.7 134.2h0M211.3 135.1h0M200.1 148.9h0M212.1 138.1h0M226.6 108.0h0M229.8 135.6h0M201.1 145.2h0M237.2 144.6h0M229.8 159.8h0M233.2 86.9h0M230.4 93.7h0M231.8 112.3h0M210.2 143.1h0M214.4 114.5h0M234.8 86.7h0M223.1 107.9h0M229.7 104.4h0M221.1 136.0h0M243.6 96.2h0M222.3 133.4h0M219.3 147.1h0M225.4 125.7h0M219.3 111.4h0M228.3 160.0h0M226.4 112.3h0M231.7 127.1h0M227.4 116.8h0M202.0 144.5h0M232.6 87.2h0M202.3 142.3h0M217.4 131.7h0M213.9 131.2h0M222.3 143.5h0M199.5 153.3h0M212.5 139.6h0M218.3 117.6h0M205.0 145.8h0M233.9 134.2h0M241.9 88.4h0M237.9 145.6h0M221.0 114.9h0M244.5 88.4h0M234.3 106.8h0M198.9 149.1h0M224.2 129.6h0M201.9 137.0h0M211.3 149.1h0M210.4 126.7h0M221.7 97.1h0M218.8 132.0h0M223.2 155.6h0M215.8 106.3h0M238.4 150.7h0M228.6 97.2h0M230.0 96.3h0M219.4 135.7h0M229.4 109.6h0M226.5 155.0h0M230.9 134.4h0M220.1 155.2h0M206.8 137.3h0M211.1 158.0h0M213.2 116.1h0M221.7 107.4h0M234.6 155.3h0M200.3 143.1h0M224.2 155.6h0M228.4 158.0h0M232.4 104.6h0M230.4 129.4h0M223.7 109.0h0M216.2 117.9h0M222.7 137.3h0M230.7 107.1h0M234.7 100.3h0M207.4 141.9h0M214.7 131.0h0M229.9 91.0h0M243.2 90.6h0M216.0 140.0h0M224.3 137.2h0M222.6 140.6h0M204.4 157.1h0M227.6 112.7h0M231.4 151.2h0M222.0 116.9h0M229.4 93.5h0M235.8 133.7h0M206.3 153.7h0M213.7 146.0h0M234.0 146.3h0M233.1 143.3h0M223.4 159.6h0M234.0 125.2h0M227.7 123.3h0M214.5 137.2h0M218.0 161.8h0M214.8 117.9h0M233.2 93.6h0M224.2 142.9h0M211.7 146.9h0M221.1 108.7h0M217.8 150.7h0M201.6 148.9h0M205.2 138.0h0M205.5 158.8h0M225.9 159.9h0M233.7 129.9h0M226.8 122.0h0M220.7 162.1h0M230.2 120.1h0M215.8 148.3h0M213.2 142.9h0M226.4 132.2h0M236.5 153.7h0M217.3 106.7h0M221.3 152.2h0M234.1 147.8h0M223.2 92.8h0M206.8 140.6h0M204.1 132.1h0M217.3 157.3h0M228.9 88.2h0M221.2 96.7h0M213.3 143.4h0M243.1 93.4h0M214.5 125.3h0M236.8 97.7h0M234.8 137.9h0M222.6 100.0h0M222.9 106.5h0M223.1 154.7h0M220.4 115.3h0M231.1 154.1h0M203.2 149.6h0M206.6 155.0h0M213.8 112.7h0M211.4 146.8h0M228.7 96.9h0M212.3 130.4h0M230.3 109.4h0M227.2 107.4h0M225.6 110.2h0M217.0 158.5h0M219.3 100.2h0M217.7 103.2h0M232.5 101.9h0M232.5 121.5h0M217.9 130.6h0M204.4 134.6h0M242.5 90.2h0M223.5 150.3h0M204.8 149.7h0M217.1 127.1h0M227.2 158.1h0M226.2 159.7h0M226.8 109.5h0M214.5 115.8h0M222.7 110.4h0M227.6 144.1h0M226.2 97.0h0M223.0 153.8h0M215.9 127.9h0M216.6 161.8h0M225.4 153.5h0M232.4 110.2h0M232.8 125.4h0M239.1 101.2h0M217.6 130.3h0M218.2 145.8h0M234.2 140.1h0M214.2 132.9h0M236.0 148.6h0M221.5 139.6h0M234.4 137.0h0M239.2 90.0h0M238.6 89.6h0M226.6 113.3h0M223.4 150.8h0M211.4 124.5h0M234.7 127.0h0M224.9 133.0h0M245.8 91.8h0M218.8 148.6h0M199.1 145.8h0M235.1 138.7h0M233.7 143.5h0M239.6 90.6h0M201.5 135.7h0M213.9 111.4h0M217.8 160.6h0M230.8 131.9h0M207.2 147.8h0M217.4 159.8h0M215.6 115.6h0M218.0 156.2h0M234.2 132.6h0M213.8 141.5h0M214.3 112.9h0M226.5 131.7h0M232.7 90.3h0M225.1 139.8h0M226.3 149.5h0M223.0 110.5h0M216.3 110.5h0M224.4 132.8h0M214.2 121.7h0M231.7 146.0h0M238.4 102.4h0M230.2 112.7h0M242.1 86.6h0M227.2 107.8h0M233.4 126.9h0M218.1 161.9h0M220.0 135.7h0M228.9 109.9h0M226.4 158.8h0M228.1 138.0h0M225.7 153.3h0M218.7 148.3h0M225.7 149.8h0M240.7 92.8h0M219.7 150.6h0M207.3 127.2h0M215.8 119.2h0M201.1 155.6h0M224.8 152.4h0M230.5 90.7h0M212.1 145.0h0M235.9 87.0h0M235.0 88.1h0M201.8 132.9h0M237.5 89.5h0M220.9 132.7h0M226.7 133.2h0M227.7 106.6h0M232.8 147.0h0M216.7 113.7h0M228.0 130.3h0M227.7 161.3h0M213.8 125.1h0M219.4 136.3h0M225.5 92.6h0M207.5 154.7h0M199.2 138.6h0M204.1 148.8h0M235.2 105.6h0M232.2 133.6h0M205.2 134.8h0M212.6 123.1h0M236.8 95.5h0M211.0 118.4h0M213.3 136.4h0M228.7 127.1h0M230.2 107.7h0M232.2 99.2h0M226.9 120.7h0M230.1 91.7h0M222.4 117.3h0M241.0 92.0h0M236.7 140.6h0M208.5 139.9h0M209.6 146.3h0M200.3 153.8h0M218.1 154.3h0M222.9 95.0h0M235.5 141.2h0M224.5 131.1h0M224.2 139.3h0M223.7 115.1h0M227.2 93.5h0M223.2 153.4h0M234.3 136.8h0M226.2 101.8h0M224.0 140.1h0M215.5 149.3h0M233.6 96.1h0M224.8 98.8h0M222.8 154.4h0M231.8 118.2h0M229.5 126.9h0M217.3 111.6h0M233.8 132.7h0M214.2 142.1h0M224.4 93.0h0M199.3 148.9h0M211.2 142.2h0M217.3 145.1h0M240.5 90.6h0M233.3 92.0h0M235.2 94.7h0M204.7 141.0h0M220.2 126.9h0M216.5 125.6h0M217.8 149.7h0M233.4 141.5h0M230.0 111.6h0M226.6 102.8h0M227.7 142.4h0M233.1 95.9h0M223.5 109.9h0M210.7 143.7h0M223.0 123.4h0M228.9 159.8h0M232.2 106.1h0M242.1 96.6h0M214.5 107.1h0M222.8 105.9h0M226.3 102.8h0M235.8 155.0h0M222.9 97.4h0M239.9 98.1h0M232.9 125.1h0M212.5 129.5h0M225.8 153.9h0M208.8 148.0h0M210.3 158.6h0M211.3 154.4h0M229.4 97.1h0M240.4 86.2h0M220.0 156.8h0M232.0 92.2h0M217.1 162.4h0M210.2 157.3h0M220.5 131.9h0M226.3 147.7h0M234.6 109.2h0M202.4 156.5h0M233.3 101.8h0M224.4 118.4h0M233.7 105.9h0M213.5 152.9h0M210.9 149.5h0M221.0 115.3h0M221.7 133.2h0M219.9 132.1h0M214.4 125.8h0M236.1 92.7h0M225.1 144.6h0M222.4 155.7h0M233.3 98.5h0M222.1 134.0h0M230.7 142.8h0M217.7 133.6h0M223.8 128.0h0M215.7 141.0h0M220.4 112.3h0M223.8 124.1h0M227.2 137.6h0M235.7 139.4h0M221.9 101.0h0M207.9 131.1h0M237.9 102.2h0M229.6 100.8h0M199.1 138.4h0M216.8 162.6h0M226.7 159.9h0M231.7 143.5h0M235.9 145.4h0M231.9 111.1h0M217.7 113.2h0M214.7 148.5h0M214.9 111.4h0M231.3 130.5h0M235.5 155.1h0M228.5 134.9h0M210.7 135.0h0M211.0 132.5h0M225.0 159.9h0M211.2 149.1h0M215.8 117.4h0M237.9 153.3h0M224.2 119.3h0M220.8 117.1h0M215.8 131.7h0M215.7 129.9h0M223.2 103.4h0M211.4 130.4h0M215.7 150.0h0M207.4 127.9h0M222.8 122.4h0M220.2 114.2h0M215.0 136.3h0M222.3 140.5h0M226.4 118.6h0M205.4 151.9h0M231.1 90.5h0M225.7 144.7h0M229.5 159.6h0M228.2 97.2h0M224.9 103.1h0M219.8 155.0h0M229.6 132.4h0M203.4 139.9h0M216.1 128.7h0M225.2 126.2h0M221.5 122.4h0M203.8 156.3h0M219.7 111.0h0M228.4 93.5h0M219.0 128.2h0M204.8 152.0h0M228.8 152.7h0M227.1 129.9h0M219.5 110.7h0M222.3 98.4h0M208.4 151.8h0M224.0 111.2h0M224.1 155.1h0M230.0 153.3h0M231.6 139.5h0M209.7 150.3h0M235.1 104.9h0M221.0 98.6h0M235.3 142.6h0M231.6 104.4h0M219.7 105.0h0M217.9 140.0h0M207.1 144.9h0M203.6 130.5h0M229.4 115.4h0M228.7 101.1h0M208.8 148.0h0M215.5 115.1h0M222.9 111.7h0M216.0 111.5h0M199.2 147.1h0M241.7 97.4h0M233.9 140.1h0M235.4 148.9h0M216.1 111.9h0M219.5 120.7h0M227.4 96.1h0M203.8 130.9h0M226.8 143.1h0M201.0 146.3h0M229.8 143.4h0M223.8 99.4h0M230.4 104.8h0M211.1 155.9h0M226.0 150.9h0M232.3 128.8h0M228.9 101.3h0M222.1 115.5h0M240.0 98.4h0M230.1 94.0h0M208.6 133.0h0M201.7 135.8h0M215.6 154.9h0M227.9 148.1h0M214.3 135.0h0M235.8 131.2h0M199.9 146.3h0M233.3 102.3h0M236.9 153.9h0M212.8 149.6h0M236.0 140.1h0M230.2 148.1h0M226.9 109.9h0M216.5 151.7h0M228.1 110.1h0M221.6 141.0h0M205.2 134.2h0M223.1 156.8h0M210.9 127.9h0M226.9 120.8h0M212.8 119.4h0M219.7 107.1h0M217.0 154.2h0M199.5 138.0h0M235.9 154.2h0M231.7 95.4h0M230.7 119.2h0M217.7 142.9h0M230.5 121.7h0M206.7 154.9h0M223.3 107.4h0M218.9 137.0h0M211.2 120.9h0M233.2 135.9h0M223.5 136.9h0M213.9 160.6h0M231.3 90.3h0M214.7 107.0h0M230.3 132.7h0M210.4 135.4h0M224.8 159.6h0M236.3 134.2h0M215.2 112.8h0M206.2 135.5h0M216.2 135.2h0M204.8 141.1h0M231.7 112.0h0M225.4 134.3h0M210.1 151.2h0M226.9 120.3h0M227.6 122.6h0M216.7 126.8h0M217.2 121.9h0M216.0 145.1h0M215.9 128.0h0M226.4 97.7h0M224.0 108.4h0M227.0 90.7h0M232.8 135.6h0M233.2 110.5h0M230.9 105.1h0M214.8 122.1h0M221.9 94.6h0M216.8 108.3h0M238.9 86.8h0M210.0 143.4h0M222.1 158.7h0M223.1 98.1h0M237.3 92.4h0M210.1 143.3h0M233.0 125.0h0M222.3 119.4h0M204.9 141.8h0M213.0 128.5h0M223.2 143.2h0M217.6 118.6h0M235.3 144.6h0M231.4 98.1h0M218.2 131.0h0M209.4 133.1h0M228.9 90.3h0M200.8 155.0h0M232.9 104.5h0M211.9 145.6h0M224.2 108.9h0M210.4 153.2h0M206.7 147.4h0M210.5 159.2h0M228.9 98.9h0M208.1 151.8h0M244.2 89.0h0M242.2 93.8h0M209.2 157.9h0M223.2 115.6h0M228.8 137.6h0M212.5 122.9h0M235.0 106.0h0M211.8 140.1h0M230.7 101.8h0M219.2 147.5h0M236.8 155.1h0M227.9 116.8h0M214.9 156.2h0M232.7 113.1h0M224.2 113.2h0M228.7 148.8h0M215.9 109.5h0M230.3 88.2h0M221.8 117.1h0M230.0 129.1h0M206.6 129.9h0M228.0 136.5h0M224.8 97.3h0M219.9 148.6h0M227.5 147.0h0M211.6 152.5h0M215.9 148.9h0M201.9 149.5h0M231.3 136.2h0M215.3 122.2h0M235.3 135.2h0M218.9 125.4h0M214.2 133.6h0M230.9 110.4h0M223.3 145.8h0M215.5 135.5h0M210.0 161.0h0M226.5 112.0h0M220.9 131.1h0M213.5 155.6h0M232.1 95.3h0M238.3 98.5h0M218.3 150.5h0M209.1 135.7h0M218.0 134.4h0M220.9 102.1h0M217.7 107.2h0M226.5 136.6h0M246.5 91.1h0M222.6 130.1h0M225.1 126.1h0M230.4 91.0h0M213.0 161.3h0M228.9 149.3h0M215.7 145.8h0M230.4 91.7h0M217.7 104.1h0M232.0 138.9h0M231.5 92.5h0M231.2 103.8h0M225.2 145.7h0M205.1 139.2h0M206.5 134.5h0M203.9 133.4h0M211.7 123.7h0M214.4 144.6h0M237.5 147.9h0M213.8 160.2h0M223.5 135.0h0M232.3 152.7h0M233.1 97.4h0M215.3 162.3h0M218.1 104.8h0M210.1 150.3h0M202.0 152.8h0M216.4 143.3h0M208.2 159.4h0M218.6 152.2h0M200.9 136.8h0M225.0 102.2h0M215.8 117.6h0M210.8 123.1h0M224.0 94.2h0M225.2 115.8h0M237.2 102.2h0M245.0 90.0h0M230.6 122.5h0M239.6 91.7h0M236.5 143.0h0M223.9 144.1h0M230.3 130.1h0M213.2 150.9h0M209.7 127.8h0M207.8 156.6h0M204.4 146.9h0M206.7 129.8h0M226.7 143.6h0M240.9 91.0h0M212.9 131.5h0M225.6 155.2h0M234.4 157.3h0M236.8 142.0h0M236.7 87.6h0M220.0 112.2h0M207.4 139.8h0M227.7 132.7h0M200.0 141.1h0M228.2 149.2h0M217.9 103.5h0M229.8 149.4h0M244.9 90.1h0M211.5 125.4h0M233.8 138.1h0M214.3 146.7h0M226.7 96.3h0M225.6 94.2h0M235.2 152.6h0M231.7 113.1h0M207.7 124.7h0M222.9 97.3h0M237.3 148.0h0M202.1 138.4h0M227.3 129.3h0M202.6 155.4h0M223.2 125.3h0M226.7 104.6h0M230.3 144.1h0M221.7 143.9h0M215.5 159.3h0M216.2 106.9h0M227.1 96.0h0M221.3 150.6h0M221.9 117.9h0M227.4 93.9h0M208.3 153.9h0M222.1 124.6h0M216.2 137.9h0M238.1 85.8h0M217.4 124.7h0M238.3 90.8h0M217.1 136.3h0M237.9 102.2h0M205.6 149.5h0M235.6 89.8h0M224.9 159.7h0M219.0 129.2h0M235.7 131.0h0M215.8 157.8h0M207.7 147.9h0M229.7 155.2h0M220.8 96.0h0M215.8 112.8h0M230.0 94.6h0M215.9 151.6h0M214.6 108.1h0M223.4 158.6h0M235.8 139.4h0M221.1 122.2h0M223.4 151.0h0M219.4 162.2h0M225.1 91.9h0M226.3 106.7h0M210.5 139.3h0M213.5 114.8h0M236.9 94.0h0M224.5 147.8h0M229.6 116.5h0M214.7 107.0h0M216.7 125.2h0M228.8 155.0h0M228.3 153.0h0M234.0 157.2h0M207.4 133.5h0M221.1 106.2h0M222.2 125.5h0M201.7 139.9h0M226.0 137.2h0M224.1 162.4h0M226.3 103.3h0M230.4 88.0h0M206.4 157.1h0M226.3 137.9h0M229.1 110.3h0M224.4 117.0h0M214.4 160.8h0M212.5 147.6h0M213.5 150.9h0M238.1 98.2h0M236.2 104.9h0M227.9 107.0h0M239.6 91.5h0M217.5 116.8h0M220.9 114.3h0M207.2 130.6h0M219.7 102.2h0M198.4 141.0h0M206.3 138.2h0M208.0 141.5h0M213.4 129.0h0M220.0 147.7h0M208.2 158.4h0M208.8 138.6h0M202.6 152.9h0M236.2 138.2h0M228.1 89.7h0M208.8 147.7h0M240.7 88.4h0M199.5 145.2h0M205.4 132.5h0M199.1 147.0h0M244.8 89.1h0M219.0 140.2h0M225.5 160.6h0M218.5 154.0h0M227.2 151.2h0M223.9 131.8h0M234.5 127.8h0M235.1 98.6h0M238.6 102.0h0M214.4 132.3h0M202.4 148.8h0M228.6 103.9h0M225.3 145.1h0M213.5 141.8h0M211.7 151.7h0M220.7 156.9h0M223.9 99.6h0M229.7 96.8h0M223.9 122.7h0M231.9 140.3h0M239.1 96.9h0M219.3 140.0h0M226.5 93.9h0M217.4 143.4h0M227.4 116.5h0M216.0 121.1h0M214.4 154.2h0M217.0 143.4h0M224.8 119.5h0M226.6 146.0h0M220.8 136.9h0M211.4 137.8h0M229.1 108.7h0M225.8 108.6h0M208.1 135.3h0M230.2 113.1h0M214.2 134.5h0M203.4 144.5h0M224.4 157.6h0M220.2 120.1h0M214.5 142.8h0M220.1 147.6h0M227.8 133.1h0M209.8 128.7h0M231.7 95.2h0M226.5 132.2h0M225.6 139.6h0M205.2 141.2h0M232.9 126.3h0M219.6 114.9h0M216.0 116.9h0M207.3 148.3h0M226.3 160.7h0M222.7 160.1h0M244.8 93.2h0M223.6 134.2h0M235.2 105.0h0M214.9 116.9h0M226.9 106.0h0M205.6 152.9h0M219.8 116.7h0M225.2 104.0h0M227.8 94.8h0M218.0 123.8h0M232.8 122.1h0M234.3 99.3h0M230.7 117.2h0M239.7 86.3h0M209.3 133.1h0M231.8 155.9h0M237.0 153.3h0M220.0 103.7h0M214.2 114.1h0M228.2 99.5h0M218.5 144.5h0M210.3 138.8h0M223.4 112.5h0M231.2 139.8h0M237.9 149.6h0M231.2 125.2h0M214.0 159.2h0M231.3 157.9h0M208.9 128.2h0M214.0 128.2h0M241.2 98.0h0M238.7 86.4h0M235.6 108.4h0M215.1 148.5h0M204.9 143.2h0M233.7 101.7h0M236.9 97.3h0M217.8 157.8h0M211.1 119.5h0M223.9 151.5h0M204.4 158.4h0M214.9 131.0h0M215.1 113.2h0M231.4 90.5h0M218.3 117.4h0M220.6 138.8h0M233.5 150.9h0M229.4 139.7h0M213.6 129.2h0M216.0 136.2h0M225.0 130.7h0M210.5 140.6h0M207.5 154.5h0M220.8 156.4h0M228.4 156.1h0M232.1 90.0h0M224.0 158.1h0M207.4 157.2h0M227.1 112.7h0M200.5 154.6h0M231.3 89.4h0M215.5 115.2h0M220.4 137.0h0M210.5 130.9h0M220.7 103.3h0" stroke="#f8766d" stroke-width="1.0" stroke-linecap="round" fill="none"/>
<path d="M237.5 96.7h0M229.0 104.9h0M236.5 103.9h0M230.0 117.7h0M229.8 127.4h0M219.5 141.6h0M239.5 88.7h0M235.2 143.0h0M233.7 112.9h0M223.3 128.9h0M202.2 136.0h0M220.1 122.5h0M225.1 120.7h0M230.1 135.3h0M207.0 158.8h0M220.0 129.1h0M220.1 113.1h0M224.5 137.7h0M224.2 105.3h0M206.7 152.9h0M225.7 127.8h0M227.2 138.6h0M213.2 154.6h0M234.2 95.7h0M227.3 101.7h0M215.2 114.0h0M223.1 95.0h0M228.1 132.6h0M226.2 145.0h0M228.8 142.6h0M228.5 90.1h0M232.7 132.2h0M232.8 159.2h0M231.7 145.4h0M208.2 142.4h0M213.0 157.8h0M217.2 131.1h0M215.8 123.1h0M226.6 98.5h0M206.8 160.8h0M211.3 156.7h0M207.3 140.7h0M219.5 137.9h0M224.5 108.7h0M230.0 98.7h0M228.7 93.9h0M208.9 155.4h0M236.3 146.0h0M226.5 99.4h0M216.1 115.6h0M213.1 141.0h0M203.0 145.7h0M222.7 119.8h0M218.2 115.8h0M214.2 123.3h0M223.7 121.1h0M221.7 111.2h0M217.9 129.6h0M218.7 141.5h0M228.8 153.5h0M231.9 156.7h0M210.0 122.0h0M227.9 138.4h0M227.5 137.9h0M206.7 136.1h0M218.7 119.7h0M225.5 132.0h0M229.6 122.6h0M200.5 144.1h0M207.5 151.9h0M230.8 131.1h0M246.1 95.2h0M217.1 107.5h0M209.8 146.3h0M218.6 134.5h0M203.5 142.4h0M208.8 146.4h0M226.7 148.4h0M202.4 144.7h0M210.3 159.0h0M234.8 86.7h0M210.3 155.8h0M226.5 117.1h0M227.0 92.6h0M220.6 120.4h0M228.9 119.2h0M216.0 126.7h0M236.9 100.7h0M230.0 129.7h0M224.9 124.0h0M212.0 141.1h0M211.4 130.9h0M217.1 108.9h0M224.4 119.9h0M224.5 146.0h0M224.5 141.8h0M199.2 150.6h0M218.5 131.6h0M228.6 123.1h0M216.1 131.0h0M226.5 140.7h0M236.6 150.4h0M200.2 141.0h0M207.7 152.4h0M231.4 155.4h0M229.9 148.9h0M212.3 136.2h0M211.3 139.3h0M199.6 147.7h0M206.1 151.8h0M219.7 105.5h0M218.2 114.2h0M231.7 115.6h0M229.6 149.2h0M217.8 114.4h0M215.2 148.8h0M228.0 104.3h0M216.1 153.1h0M219.5 125.6h0M226.0 98.9h0M234.0 125.9h0M239.5 149.1h0M200.9 144.9h0M197.6 140.1h0M218.9 120.8h0M213.2 144.3h0M217.6 96.8h0M202.2 140.2h0M216.3 164.6h0M218.3 158.3h0M210.5 154.7h0M216.5 143.4h0M226.3 123.3h0M233.4 117.9h0M201.2 147.4h0M219.1 134.3h0M226.5 131.4h0M227.5 140.1h0M214.1 117.7h0M217.3 133.6h0M214.1 123.5h0M242.2 88.4h0M233.9 130.3h0M231.5 91.2h0M228.9 135.8h0M229.8 132.3h0M215.6 128.4h0M230.2 122.6h0M225.1 128.6h0M228.6 130.7h0M227.9 110.6h0M225.1 162.1h0M230.6 144.1h0M213.4 150.2h0M237.4 107.1h0M223.6 127.2h0M219.4 104.0h0M226.0 158.1h0M231.1 89.1h0M233.6 122.6h0M202.4 158.5h0M223.8 124.1h0M232.9 158.6h0M229.7 152.2h0M216.8 121.7h0M205.2 147.5h0M214.4 152.2h0M205.0 132.2h0M215.2 149.4h0M232.6 123.0h0M208.3 127.2h0M220.0 138.5h0M216.7 115.0h0M226.3 126.5h0M214.7 116.0h0M221.2 93.3h0M210.3 140.9h0M213.6 134.1h0M222.4 111.9h0M223.3 155.8h0M226.9 152.2h0M227.6 144.2h0M202.4 141.2h0M200.7 146.7h0M229.9 152.6h0M216.7 104.3h0M241.4 87.5h0M223.5 110.2h0M233.0 114.8h0M205.0 157.6h0M211.0 129.2h0M215.3 112.0h0M234.0 105.3h0M245.1 90.9h0M199.6 143.7h0M235.8 102.5h0M237.0 89.2h0M232.6 88.1h0M228.8 125.7h0M215.4 115.4h0M234.5 100.6h0M213.3 128.1h0M203.9 143.4h0M214.0 137.4h0M214.7 125.6h0M229.6 103.1h0M223.3 125.1h0M201.3 139.7h0M206.0 136.3h0M218.3 122.6h0M237.9 146.6h0M221.8 130.9h0M221.0 94.3h0M227.2 101.4h0M214.2 156.7h0M219.5 122.9h0M218.7 102.2h0M216.1 131.2h0M205.7 130.1h0M228.6 147.4h0M235.1 138.2h0M212.1 118.2h0M204.8 138.0h0M222.2 101.6h0M238.3 97.6h0M222.8 148.7h0M227.6 129.2h0M210.4 152.6h0M232.9 108.9h0M209.1 130.3h0M215.8 114.0h0M223.6 152.7h0M224.1 98.1h0M200.1 142.8h0M234.5 89.5h0M214.2 134.9h0M219.8 123.4h0M232.1 92.8h0M214.8 124.4h0M219.7 108.3h0M213.3 146.8h0M216.0 118.2h0M211.5 139.6h0M203.1 143.9h0M226.9 103.0h0M229.0 154.1h0M220.4 155.7h0M211.9 127.2h0M209.2 153.7h0M228.3 153.1h0M234.2 98.5h0M230.9 91.7h0M204.8 143.0h0M214.8 111.5h0M221.8 102.3h0M231.9 122.5h0M234.0 130.7h0M237.3 89.8h0M216.5 103.9h0M201.6 151.6h0M219.8 112.2h0M238.9 98.0h0M215.2 143.1h0M225.7 139.1h0M211.2 122.0h0M219.3 117.6h0M209.7 147.0h0M231.0 156.5h0M228.2 119.2h0M204.6 146.9h0M228.0 103.6h0M229.2 132.2h0M197.0 144.4h0M232.6 93.9h0M210.4 155.6h0M215.9 137.6h0M221.8 128.7h0M218.0 136.5h0M225.0 110.7h0M220.8 112.2h0M210.7 130.5h0M209.1 133.0h0M230.4 119.4h0M235.0 137.3h0M233.7 121.0h0M229.9 106.0h0M223.0 125.6h0M240.7 101.7h0M205.0 128.6h0M215.9 101.1h0M232.6 121.3h0M204.4 153.8h0M205.6 150.2h0M214.9 119.4h0M210.2 155.4h0M227.9 123.3h0M207.7 149.0h0M233.8 127.2h0M209.7 144.9h0M219.9 127.9h0M226.5 120.3h0M238.6 143.0h0M220.3 104.6h0M212.5 124.5h0M230.1 139.4h0M224.5 154.4h0M229.9 158.8h0M221.9 154.8h0M232.8 123.8h0M224.1 92.4h0M214.0 107.6h0M222.5 115.8h0M234.1 90.9h0M233.5 115.9h0M225.0 139.2h0M212.8 141.1h0M208.0 124.7h0M222.1 117.2h0M222.2 147.1h0M227.0 95.4h0M223.4 132.1h0M203.0 148.6h0M218.5 146.4h0M237.1 88.8h0M222.6 150.8h0M225.6 136.3h0M215.7 156.1h0M225.9 93.3h0M220.6 96.1h0M225.8 90.7h0M203.7 149.3h0M221.4 140.7h0M222.7 107.1h0M218.3 132.7h0M233.6 149.3h0M213.1 160.2h0M220.4 96.5h0M219.7 141.4h0M209.9 134.6h0M235.2 101.3h0M217.8 161.0h0M228.2 156.4h0M226.3 161.0h0M234.0 101.3h0M198.2 149.8h0M215.2 130.4h0M206.5 132.5h0M222.3 158.2h0M211.2 158.6h0M207.8 148.4h0M207.4 156.7h0M235.0 103.4h0M223.3 113.6h0M208.6 140.3h0M240.4 94.0h0M228.2 112.9h0M211.7 149.0h0M198.7 138.5h0M210.9 154.2h0M234.7 144.5h0M221.0 127.7h0M241.7 95.2h0M218.8 131.6h0M225.8 105.9h0M216.6 148.0h0M222.6 142.4h0M233.1 148.2h0M225.9 138.6h0M216.3 156.8h0M213.0 136.5h0M205.9 147.6h0M223.7 148.8h0M213.6 127.4h0M229.2 155.4h0M222.9 104.2h0M234.8 157.9h0M237.0 101.4h0M210.5 140.8h0M218.0 137.6h0M222.4 149.9h0M214.5 155.5h0M214.8 120.6h0M231.5 104.2h0M234.6 136.8h0M226.0 89.8h0M228.5 136.0h0M243.6 91.6h0M236.4 95.5h0M235.2 150.5h0M205.3 128.7h0M214.2 128.7h0M216.4 126.6h0M242.8 88.6h0M226.6 127.8h0M217.9 131.2h0M203.7 143.1h0M221.8 113.0h0M215.6 133.0h0M210.1 136.0h0M205.8 130.7h0M229.5 87.2h0M213.7 144.9h0M221.3 99.6h0M222.8 126.5h0M207.0 128.5h0M244.7 92.8h0M211.1 132.4h0M213.8 126.7h0M202.1 135.4h0M221.8 159.1h0M240.0 98.7h0M214.2 134.1h0M207.5 131.2h0M213.5 141.4h0M224.4 130.3h0M230.4 118.1h0M231.6 89.7h0M219.8 121.5h0M219.9 144.0h0M228.6 91.5h0M220.6 146.7h0M238.7 152.1h0M210.8 134.6h0M221.7 142.0h0M223.3 127.4h0M213.6 134.5h0M230.4 119.6h0M219.3 158.8h0M233.9 88.7h0M222.0 155.1h0M217.9 127.6h0M212.3 161.7h0M234.1 132.9h0M215.2 146.9h0M222.1 127.8h0M213.0 115.2h0M232.1 114.3h0M225.9 124.5h0M221.4 110.9h0M225.3 138.6h0M227.6 136.6h0M199.7 148.8h0M208.1 136.2h0M234.1 89.1h0M227.1 122.7h0M228.5 116.1h0M226.6 95.2h0M216.1 156.3h0M211.7 148.7h0M222.5 110.2h0M219.6 162.2h0M223.4 112.6h0M236.0 104.9h0M210.2 138.9h0M221.5 97.9h0M234.3 125.7h0M216.2 141.3h0M242.3 90.5h0M219.1 136.4h0M232.5 86.8h0M228.9 139.8h0M220.2 108.9h0M209.2 130.6h0M234.7 101.1h0M208.4 126.9h0M217.2 162.5h0M231.5 114.9h0M212.1 133.7h0M205.9 131.8h0M221.3 100.8h0M222.3 126.6h0M223.3 101.6h0M199.8 150.3h0M228.9 122.1h0M228.2 145.3h0M233.7 152.9h0M228.6 149.1h0M229.5 148.1h0M217.6 158.5h0M220.7 132.8h0M220.6 118.1h0M212.2 138.8h0M203.5 130.9h0M226.7 125.0h0M235.6 134.7h0M233.8 111.9h0M226.5 111.2h0M217.7 107.1h0M205.4 158.0h0M208.2 157.5h0M208.1 122.9h0M227.4 149.7h0M230.2 116.3h0M226.1 114.6h0M227.1 102.5h0M219.4 149.9h0M230.6 96.4h0M220.1 103.5h0M239.9 91.6h0M218.5 152.0h0" stroke="#f8766d" stroke-width="0.9" stroke-linecap="round" fill="none"/>
<path d="M241.9 98.4h0M243.7 90.2h0M227.6 124.7h0M224.0 115.8h0M212.8 142.0h0M217.3 132.3h0M234.4 127.8h0M235.5 100.8h0M227.8 135.5h0M233.2 97.4h0M218.8 126.8h0M207.1 146.0h0M209.9 122.0h0M225.1 98.2h0M205.0 145.6h0M229.8 140.9h0M236.7 101.4h0M215.8 147.0h0M209.5 148.8h0M231.9 96.4h0M220.0 147.2h0M220.9 155.1h0M231.4 124.1h0M222.6 110.1h0M220.3 145.8h0M217.3 121.7h0M222.9 150.2h0M235.7 153.7h0M209.7 128.5h0M212.9 118.9h0M231.8 121.8h0M239.0 87.5h0M223.1 125.0h0M230.0 125.3h0M203.3 158.2h0M215.5 136.2h0M228.2 92.3h0M228.1 139.9h0M231.9 131.3h0M221.0 135.5h0M224.0 137.7h0M226.5 149.6h0M242.7 94.0h0M229.9 116.1h0M218.8 154.7h0M207.8 148.7h0M220.4 117.2h0M232.5 125.9h0M240.5 91.4h0M223.7 152.1h0M230.9 127.9h0M216.2 143.2h0M211.9 150.2h0M213.9 128.0h0M233.4 110.4h0M231.4 135.9h0M229.3 95.4h0M219.6 120.8h0M223.3 93.9h0M231.1 102.8h0M215.4 113.1h0M233.5 131.8h0M232.3 103.6h0M219.7 160.8h0M209.2 138.2h0M197.8 142.7h0M239.2 96.5h0M205.7 150.5h0M227.9 149.1h0M226.7 123.8h0M212.9 140.0h0M233.4 148.6h0M219.3 144.7h0M227.3 89.4h0M214.7 158.8h0M220.1 138.1h0M232.6 156.4h0M219.7 141.5h0M200.1 151.9h0M212.2 141.2h0M221.1 123.1h0M223.1 162.1h0M223.6 142.8h0M220.4 111.3h0M225.6 135.6h0M224.2 146.4h0M219.7 113.9h0M214.2 157.3h0M229.7 160.2h0M231.2 127.9h0M222.9 115.3h0M222.2 140.7h0M225.4 138.3h0M206.4 130.1h0M220.6 96.2h0M203.9 145.1h0M226.6 119.0h0M223.6 110.5h0M223.3 97.5h0M223.0 133.3h0M225.7 109.7h0M229.0 118.9h0M212.6 149.5h0M221.1 144.8h0M229.6 92.2h0M201.4 155.0h0M233.6 140.0h0M209.3 123.7h0M231.5 125.4h0M210.4 155.6h0M198.3 147.7h0M218.4 144.1h0M243.7 93.7h0M215.4 151.8h0M200.2 145.6h0M233.1 99.4h0M222.2 96.8h0M228.7 153.4h0M200.9 150.8h0M221.9 143.0h0M211.4 123.1h0M233.4 111.4h0M231.2 91.2h0M224.2 92.4h0M235.2 129.5h0M217.3 144.9h0M241.0 99.2h0M227.7 101.8h0M237.1 145.9h0M200.2 150.9h0M233.3 129.1h0M232.1 90.0h0M218.0 135.6h0M226.4 106.2h0M209.6 135.3h0M215.0 108.2h0M217.7 138.0h0M204.1 156.4h0M232.5 130.1h0M204.2 158.4h0M235.6 102.5h0M235.2 96.9h0M223.1 121.9h0M242.3 88.1h0M212.3 151.6h0M222.6 94.6h0M240.8 96.4h0M224.2 125.7h0M223.5 105.0h0M208.9 123.0h0M225.0 155.2h0M230.9 89.5h0M235.8 137.0h0M217.0 159.4h0M234.4 125.9h0M234.4 141.5h0M240.4 86.3h0M229.7 120.9h0M207.2 136.2h0M228.6 119.3h0M209.5 133.4h0M206.9 145.3h0M204.5 142.9h0M220.9 133.0h0M226.3 132.8h0M229.5 131.1h0M220.2 114.6h0M229.5 134.4h0M216.7 134.3h0M217.7 157.7h0M232.1 153.6h0M216.5 147.8h0M234.5 100.5h0M209.1 145.1h0M227.4 102.1h0M213.5 139.4h0M235.2 98.2h0M218.8 115.0h0M223.3 121.2h0M223.1 139.4h0M213.0 137.2h0M216.2 105.6h0M234.0 131.1h0M242.0 93.2h0M214.6 120.0h0M214.5 158.2h0M226.3 93.9h0M221.8 125.5h0M236.6 139.3h0M227.6 139.3h0M227.7 90.4h0M216.8 118.9h0M223.8 126.8h0M231.2 114.2h0M235.8 152.1h0M205.1 140.1h0M219.1 151.5h0M219.3 99.7h0M228.1 115.3h0M232.9 137.4h0M202.9 144.7h0M244.6 91.8h0M226.0 104.7h0M209.7 143.4h0M229.6 133.4h0M222.1 101.1h0M235.9 153.5h0M245.0 89.7h0M231.1 131.8h0M228.6 144.0h0M207.2 148.7h0M237.8 144.8h0M232.8 131.2h0M216.8 104.5h0M227.0 122.8h0M201.4 135.7h0M228.0 145.0h0M234.0 133.4h0M230.7 152.7h0M224.3 137.4h0M219.1 103.9h0M220.9 149.3h0M209.1 141.1h0M236.8 89.7h0M219.8 122.0h0M231.8 127.8h0M240.2 95.1h0M229.8 120.0h0M209.3 149.4h0M202.4 148.2h0M217.2 118.1h0M208.5 154.0h0M206.8 153.5h0M236.4 154.9h0M225.4 107.8h0M215.7 123.5h0M200.4 146.0h0M214.7 143.8h0M209.7 157.8h0M208.5 126.4h0M201.0 141.8h0M226.8 103.6h0M230.2 104.1h0M212.2 119.8h0M227.9 137.3h0M232.1 102.4h0M217.1 154.4h0M228.7 124.1h0M224.0 137.6h0M212.5 124.5h0M228.2 101.5h0M227.1 98.2h0M197.7 143.6h0M234.4 143.8h0M232.7 113.5h0M223.1 144.3h0M224.8 99.2h0M228.8 132.0h0M220.4 102.1h0M232.2 90.0h0M220.3 149.7h0M207.4 133.7h0M228.2 91.2h0M218.2 130.2h0M228.0 103.5h0M233.1 112.6h0M232.0 90.3h0M206.0 133.2h0M214.2 127.2h0M216.0 120.9h0M224.2 116.5h0M231.0 102.7h0M222.7 105.5h0M221.3 155.5h0M227.0 151.0h0M222.7 96.1h0M215.6 131.2h0M219.2 111.1h0M223.8 110.6h0M223.5 114.5h0M228.4 99.9h0M228.9 107.2h0M212.4 120.3h0M211.9 146.2h0M211.8 149.8h0M208.2 130.6h0M243.7 92.2h0M219.7 103.7h0M208.3 149.6h0M204.6 136.9h0M221.7 101.8h0M207.0 133.7h0M236.1 86.1h0M203.0 131.7h0M223.3 156.8h0M226.9 160.3h0M215.0 108.4h0M221.9 136.7h0M239.6 90.6h0M207.5 143.6h0M215.4 109.0h0M225.2 102.5h0M237.1 148.1h0M229.8 134.3h0M206.5 137.6h0M234.8 142.4h0M214.2 116.7h0M228.5 92.0h0M226.6 161.1h0M218.3 101.2h0M220.6 142.4h0M216.5 112.4h0M232.1 145.0h0M224.4 148.7h0M234.2 144.6h0M222.7 103.1h0M236.5 102.2h0M244.6 95.2h0M212.5 127.0h0M223.4 114.6h0M235.5 140.6h0M240.4 91.2h0M213.8 133.3h0M235.3 148.3h0M227.8 100.3h0M222.0 121.6h0M230.5 110.8h0M237.2 87.2h0M225.7 99.7h0M204.5 151.9h0M238.3 101.6h0M236.2 144.7h0M213.7 116.5h0M225.7 114.3h0M221.6 161.3h0M235.4 87.5h0M235.8 131.5h0M231.3 90.8h0M228.7 88.4h0M237.5 142.8h0M226.7 155.9h0M223.9 102.8h0M229.7 157.9h0M221.5 152.7h0M228.0 117.0h0M231.5 135.6h0M213.1 131.9h0M205.1 156.5h0M230.1 143.3h0M227.0 143.8h0M225.1 126.2h0M233.6 90.4h0M219.3 132.1h0M219.3 101.0h0M209.0 125.9h0M227.0 126.9h0M212.5 144.2h0M232.1 93.0h0M228.2 147.9h0M225.6 131.6h0M207.8 139.0h0M225.2 160.4h0M203.8 137.1h0M217.9 127.5h0M231.1 97.9h0M229.0 94.1h0M231.8 152.1h0M205.6 131.1h0M204.1 141.7h0M214.1 140.2h0M231.1 115.2h0M229.2 125.3h0M210.1 137.6h0M235.7 103.6h0M230.3 132.1h0M223.6 148.6h0M232.9 138.5h0M228.5 151.3h0M226.2 149.8h0M236.9 150.0h0M235.8 90.4h0M226.4 156.2h0M226.9 112.3h0M230.1 94.0h0M206.9 127.5h0M225.7 147.4h0M201.2 149.4h0M212.1 120.1h0M232.5 89.4h0M218.9 111.4h0M241.3 91.0h0M230.3 128.2h0M209.1 150.9h0M231.9 117.3h0M230.1 120.8h0M220.1 121.4h0M239.2 99.9h0M215.4 115.9h0M217.2 104.4h0M220.2 131.0h0M216.8 116.4h0M222.9 123.0h0M232.4 107.6h0M215.1 105.5h0M200.8 146.2h0M203.9 134.6h0M202.7 142.7h0M214.6 144.7h0M237.1 85.7h0M214.9 148.3h0M224.7 124.9h0M209.3 125.4h0M233.4 109.7h0M222.0 129.3h0M201.1 136.6h0M221.3 141.5h0M210.0 153.3h0M213.6 110.9h0M237.1 155.1h0M213.3 126.8h0" stroke="#fff" stroke-width="0.9" stroke-linecap="round" fill="none" opacity="0.8"/>
<path d="M227.6 104.4h0M223.9 110.3h0M224.8 111.5h0M232.8 140.1h0M233.5 143.5h0M226.4 101.4h0M225.5 117.1h0M223.7 113.4h0M232.7 142.5h0M230.4 128.3h0M233.0 136.9h0M223.8 110.9h0M231.9 139.2h0M230.9 130.5h0M224.5 107.7h0M230.1 128.1h0M230.8 129.4h0M232.6 141.4h0M222.2 107.3h0M223.8 110.7h0M227.7 123.9h0M231.8 131.5h0M232.2 138.0h0M226.2 119.4h0M233.3 139.5h0M231.2 142.1h0M232.2 133.6h0M226.0 105.0h0M224.3 109.8h0M226.3 124.8h0M226.3 120.3h0M231.8 141.6h0M224.3 112.0h0M226.0 117.6h0M233.6 138.3h0M233.0 133.0h0M232.1 140.6h0M230.3 132.5h0M224.9 102.0h0M229.0 126.7h0M230.1 127.1h0M232.6 132.1h0M232.8 138.4h0M229.3 125.9h0M227.3 117.8h0M230.1 134.2h0M224.6 120.1h0M226.8 100.8h0M225.2 113.9h0M225.0 100.0h0M223.1 113.4h0M232.2 144.3h0M231.5 132.0h0M223.8 113.1h0M231.7 133.1h0M225.7 110.9h0M232.6 144.2h0M226.9 125.1h0M231.8 143.0h0M231.1 133.3h0M226.3 103.8h0M233.9 143.6h0M227.0 126.3h0M225.0 105.2h0M230.4 132.5h0M225.8 119.2h0M225.1 110.3h0M226.9 125.1h0M231.7 138.3h0M224.9 114.4h0M231.6 140.5h0M225.9 124.5h0M225.3 117.7h0M225.1 114.6h0M224.6 103.3h0M223.6 106.4h0M226.2 100.1h0M225.7 117.0h0M225.5 115.5h0M226.8 122.8h0M224.9 112.6h0M225.1 106.2h0M225.1 105.4h0M224.6 107.0h0M224.7 116.4h0M226.0 101.1h0M232.4 144.4h0M225.8 116.9h0M227.6 123.3h0M230.9 135.0h0M225.3 106.1h0M223.8 116.2h0M224.6 111.2h0M223.5 112.5h0M233.3 137.8h0M232.3 139.1h0M225.2 109.6h0M226.8 123.0h0M229.4 127.6h0M226.1 102.4h0M231.0 137.5h0M224.4 117.3h0M224.2 111.2h0M226.0 120.9h0M228.7 126.8h0M233.7 138.7h0M233.3 143.3h0M232.5 140.4h0M226.2 114.7h0M230.0 129.3h0M231.4 137.7h0M233.6 145.3h0M225.6 123.0h0M226.0 125.5h0M229.5 129.5h0M234.1 145.8h0M225.9 115.8h0M233.4 141.2h0M224.7 109.3h0M230.2 131.6h0M223.6 114.3h0M231.7 140.0h0M232.0 142.5h0M230.8 139.6h0M226.0 117.1h0M233.2 143.7h0M224.7 108.1h0M228.7 127.6h0M231.8 132.2h0M224.6 110.8h0M223.9 112.3h0M225.2 101.7h0M225.2 117.8h0M232.7 142.7h0M229.9 129.0h0M226.8 103.6h0M225.2 108.6h0M224.8 114.8h0M224.5 106.0h0M233.1 136.5h0M230.7 134.2h0M223.8 105.4h0M225.5 101.1h0M226.2 117.7h0M232.0 132.7h0M223.9 116.9h0M226.0 111.7h0M232.8 145.7h0M232.7 137.0h0M224.1 110.8h0M224.2 107.0h0M226.1 105.6h0M224.4 121.1h0M229.4 128.7h0M229.2 127.7h0M225.1 101.5h0M225.3 103.3h0M226.5 120.7h0M226.7 113.8h0M224.6 108.2h0" stroke="#fff" stroke-width="1.1" stroke-linecap="round" fill="none" opacity="0.85"/>
<path d="M248.1 101.1h0M235.6 90.9h0M258.6 109.3h0M245.5 97.8h0M247.9 105.1h0M253.0 108.9h0M240.2 91.7h0M238.6 94.8h0M248.7 96.8h0M241.0 96.3h0M241.0 97.1h0M243.0 95.1h0M250.6 109.6h0M248.4 102.4h0M238.5 97.0h0M250.5 103.5h0M238.9 93.4h0M241.9 97.8h0M234.7 87.5h0M242.7 93.3h0M251.9 103.4h0M237.6 91.3h0M247.1 102.2h0M254.3 99.1h0M249.2 100.8h0M243.5 97.4h0M237.7 90.6h0M244.2 93.6h0M238.3 94.1h0M247.1 97.6h0M250.4 101.0h0M245.3 100.9h0M255.2 106.5h0M255.7 106.4h0M251.9 104.5h0M257.9 104.9h0M249.5 100.0h0M244.6 97.7h0M252.2 106.6h0M249.5 99.6h0M255.7 109.3h0M241.3 98.7h0M242.7 99.4h0M240.6 97.6h0M254.9 106.2h0M246.5 99.0h0M247.7 101.1h0M243.0 95.2h0M245.4 98.8h0M237.4 94.1h0M255.9 105.4h0M248.6 102.0h0M238.8 92.6h0M239.5 96.6h0M246.7 97.0h0M244.7 98.4h0M248.4 103.1h0M238.2 95.8h0M253.8 105.6h0M251.9 110.1h0" stroke="#f8766d" stroke-width="0.9" stroke-linecap="round" fill="none"/>
<polygon points="221.0,54.4 217.0,56.5 214.2,61.2 214.6,67.0 215.4,72.6 218.8,81.6 224.4,87.3 230.1,87.8 232.4,83.9 236.9,72.6 242.6,66.4 242.6,64.0 238.0,64.3 233.5,71.0 231.2,76.0 229.4,70.3 227.8,61.2 225.0,56.0" fill="#3f96f8" opacity="0.6"/>
<path d="M215.5 71.7h0M241.1 67.0h0M228.2 67.3h0M217.1 71.0h0M225.7 81.0h0M219.5 56.2h0M227.3 75.0h0M231.5 82.4h0M227.5 84.4h0M238.5 64.5h0M225.8 61.7h0M225.6 62.6h0M225.6 85.0h0M220.2 65.7h0M222.8 57.6h0M225.9 58.0h0M237.8 65.7h0M217.7 78.4h0M220.4 63.8h0M224.9 63.6h0M222.1 74.2h0M231.5 76.5h0M234.5 77.4h0M226.7 59.6h0M225.3 78.4h0M224.6 59.3h0M226.7 78.4h0M219.3 62.5h0M223.6 83.1h0M235.8 72.4h0M220.5 66.6h0M222.1 73.4h0M224.9 71.0h0M214.9 69.3h0M219.8 63.7h0M240.0 65.0h0M233.0 78.0h0M224.4 79.9h0M227.5 71.2h0M221.8 81.4h0M222.2 68.3h0M226.8 80.5h0M218.3 61.0h0M223.2 80.5h0M216.9 61.1h0M223.9 86.5h0M222.3 61.5h0M218.9 76.5h0M226.3 78.7h0M224.9 57.9h0M220.5 76.6h0M218.6 56.5h0M227.8 73.0h0M237.1 68.5h0M217.9 76.5h0M229.8 82.8h0M237.5 67.2h0M234.2 72.3h0M235.5 73.2h0M218.6 61.2h0M227.3 62.8h0M224.7 84.6h0M221.9 66.2h0M217.0 66.2h0M218.0 69.7h0M220.6 57.6h0M232.9 72.6h0M220.2 72.8h0M216.7 75.9h0M239.3 66.8h0M226.9 60.4h0M220.0 67.9h0M220.5 71.4h0M231.6 82.6h0M226.9 84.1h0M227.0 75.9h0M227.9 79.0h0M218.5 71.8h0M228.4 79.6h0M223.3 64.6h0M221.9 81.4h0M224.6 66.2h0M233.4 73.8h0M225.2 86.4h0M218.7 66.8h0M216.9 60.0h0M215.6 63.3h0M235.4 68.9h0M232.7 78.4h0M225.2 71.9h0M223.7 83.3h0M224.2 81.2h0M217.6 64.1h0M223.7 74.1h0M218.8 56.1h0M221.5 68.9h0M221.3 68.4h0M233.8 80.1h0M228.6 81.2h0M224.7 56.0h0M215.8 71.3h0M217.5 60.9h0M226.7 70.5h0M225.3 77.7h0M226.2 77.8h0M229.4 82.0h0M215.2 66.4h0M228.0 63.0h0M215.4 70.6h0M225.3 59.9h0M221.6 82.7h0M220.0 61.8h0M238.9 65.4h0M225.8 85.0h0M220.3 58.1h0M218.3 58.0h0M228.8 72.4h0M224.0 55.8h0M221.8 57.5h0M227.9 77.9h0M225.9 79.8h0M222.4 83.0h0M225.6 82.5h0M229.6 72.0h0M216.2 68.4h0M230.0 74.4h0M220.1 70.4h0M221.2 62.9h0M224.8 76.5h0M230.0 76.5h0M220.6 63.9h0M225.6 85.0h0M218.9 66.7h0M220.5 73.3h0M232.6 76.7h0M238.7 68.3h0M228.0 84.5h0M222.1 80.7h0M220.6 65.7h0M229.8 74.6h0M228.1 69.6h0M228.8 83.6h0M220.9 66.6h0M220.7 63.5h0M221.4 75.8h0M222.6 68.7h0M225.4 78.4h0M215.9 69.2h0M222.9 76.9h0M223.7 83.7h0M217.7 59.6h0M233.2 78.7h0M241.3 64.1h0M236.9 71.7h0M236.9 68.6h0M226.8 61.4h0M216.0 61.5h0M227.6 68.9h0M216.5 67.9h0M226.4 71.5h0M223.0 80.3h0M217.5 61.5h0M216.1 72.3h0M218.7 77.3h0M224.2 85.2h0M221.8 74.1h0M225.4 71.7h0M225.8 78.2h0M223.6 55.7h0M222.9 81.5h0M225.9 67.9h0M219.5 75.8h0M240.6 66.1h0M226.0 86.4h0M218.6 63.0h0M222.3 55.5h0M219.5 81.2h0M225.8 63.4h0M217.3 57.7h0M218.1 70.0h0M218.9 59.4h0M222.7 59.6h0M215.6 64.2h0M236.0 72.1h0M225.4 67.6h0M235.3 71.7h0M215.3 66.4h0M239.4 65.3h0M220.3 59.3h0M223.7 84.8h0M223.5 77.7h0M229.6 73.6h0M218.8 56.0h0M224.4 86.4h0M219.9 81.9h0M219.6 55.8h0M220.3 73.3h0M219.2 77.6h0M225.1 67.4h0M233.1 78.5h0M237.5 67.1h0M218.3 69.9h0M221.5 74.9h0M221.7 64.4h0M234.3 72.4h0M225.3 60.0h0M236.4 68.1h0M219.7 65.7h0M227.4 78.2h0M217.4 65.7h0M221.7 60.6h0M231.8 75.4h0M222.6 56.8h0M224.8 82.2h0M217.8 77.6h0M230.6 81.4h0M225.2 84.3h0M223.9 83.5h0M224.7 62.9h0M238.5 64.8h0M215.9 61.4h0M229.4 74.5h0M222.7 61.9h0M219.0 81.7h0M228.2 64.9h0M223.9 84.4h0M221.6 71.8h0M221.0 55.9h0M224.8 60.3h0M224.4 84.5h0M224.3 61.5h0M231.2 79.7h0M228.3 81.3h0M220.9 74.7h0M231.6 82.0h0M216.4 71.1h0M233.5 76.2h0M234.1 72.5h0M224.6 71.8h0M222.3 63.4h0M217.9 72.7h0M219.5 77.3h0M225.5 64.3h0M219.8 58.2h0M215.2 64.1h0M239.5 69.4h0M222.7 67.0h0M220.5 72.3h0M235.7 69.8h0M222.6 70.1h0M223.5 83.7h0M240.1 68.0h0M227.1 63.9h0M235.3 75.2h0M223.7 72.1h0M230.2 77.3h0M225.6 79.1h0M237.3 69.6h0M235.5 75.5h0M237.7 65.9h0M224.0 77.3h0M220.5 76.0h0M222.7 69.7h0M219.7 66.2h0M226.5 83.8h0M220.9 58.3h0M230.3 82.6h0M220.5 62.3h0M227.1 70.6h0M224.4 58.3h0M216.1 69.6h0M228.8 86.7h0M218.8 69.7h0M222.1 66.8h0M231.5 79.0h0M228.3 73.8h0M216.4 60.2h0M232.5 74.3h0M232.9 80.1h0M227.3 81.3h0M221.5 67.8h0M218.9 62.0h0M223.3 61.9h0M226.8 65.4h0M234.7 74.5h0M231.1 83.7h0M234.8 75.4h0M230.4 83.1h0M223.2 81.6h0M228.8 85.4h0M229.9 82.6h0M238.9 69.4h0M229.6 83.5h0M221.5 78.2h0M218.2 60.6h0M217.5 62.3h0M222.3 84.8h0M221.6 58.6h0M230.5 84.2h0M225.4 57.0h0M227.3 84.2h0M225.6 60.3h0M219.6 75.8h0M222.6 84.1h0M221.7 66.9h0M224.6 79.4h0M226.6 77.3h0M238.2 66.8h0M221.4 75.8h0M228.2 75.2h0M231.1 83.4h0M219.5 79.9h0M224.1 75.4h0M223.9 56.4h0M218.1 61.1h0M219.3 60.9h0M222.9 57.1h0M226.5 64.3h0M233.5 73.6h0M232.4 74.3h0M222.1 72.0h0M222.5 55.8h0M227.1 74.1h0M217.0 76.2h0M223.9 64.2h0M218.0 71.0h0M222.4 65.5h0M224.3 56.4h0M215.5 71.1h0M234.9 69.0h0M230.9 79.9h0M219.4 80.9h0M235.3 70.2h0M219.9 80.7h0M232.8 80.4h0M227.0 69.1h0M221.9 57.0h0M223.0 56.2h0M224.8 68.8h0M239.5 65.3h0M236.6 67.9h0M237.4 67.3h0M228.4 84.6h0M238.2 65.1h0M221.7 64.7h0M221.9 73.7h0M237.1 66.1h0M226.4 65.4h0M215.1 60.6h0M227.3 65.6h0M218.5 59.7h0M230.3 81.9h0M227.7 77.0h0M218.0 72.6h0M217.3 58.9h0M225.1 62.4h0M219.0 73.6h0M239.7 64.6h0M233.3 80.7h0M229.6 79.9h0M217.8 64.5h0M222.9 57.3h0M219.5 79.9h0M240.0 69.1h0M223.4 79.1h0M230.8 85.9h0M230.6 79.7h0M221.7 79.6h0M220.5 69.2h0M223.1 68.8h0M223.1 60.3h0M226.8 63.5h0M228.9 70.9h0M229.4 78.4h0M235.3 68.6h0M222.4 70.9h0M239.5 69.8h0M233.1 81.5h0M230.3 73.8h0M232.9 76.6h0M215.0 60.5h0M227.0 83.8h0M224.0 72.2h0M215.4 64.5h0M222.3 60.4h0M224.1 77.1h0M224.7 79.0h0M224.4 73.5h0M223.5 61.1h0M218.0 58.4h0M225.9 72.6h0M233.0 80.5h0M216.7 57.9h0M230.1 74.4h0M226.8 76.4h0M227.6 82.1h0M220.8 76.7h0M228.3 75.3h0M241.1 65.4h0M224.3 82.4h0M220.1 63.4h0M234.7 76.6h0M223.2 86.0h0M224.5 64.4h0M226.3 69.0h0M230.6 76.6h0M221.1 80.1h0M226.9 82.8h0M227.9 75.4h0M215.5 62.4h0M236.6 71.9h0M226.3 83.4h0M225.9 60.9h0M230.2 86.1h0M219.5 80.0h0M228.7 74.8h0M230.9 84.7h0M235.0 69.9h0M230.4 84.2h0M225.8 79.4h0M220.7 66.8h0M222.5 79.6h0M222.7 56.8h0M220.0 56.9h0M226.0 76.4h0M236.6 67.9h0M231.6 81.5h0M233.0 80.6h0M223.2 75.9h0M228.9 68.3h0M224.1 60.0h0M217.2 73.2h0M232.4 77.7h0M229.1 81.2h0M225.3 77.6h0M215.3 70.2h0M215.9 70.3h0M237.0 69.0h0M235.9 74.4h0M220.4 63.8h0M228.9 75.8h0M222.3 82.8h0M221.9 63.4h0M222.2 61.7h0M218.6 62.2h0M215.6 65.3h0M223.1 74.2h0M228.0 73.2h0M227.6 87.3h0M229.8 73.7h0M226.7 59.2h0M228.6 81.6h0M232.5 77.4h0M233.3 77.6h0M225.4 83.5h0M226.7 60.4h0M228.4 76.6h0M219.7 60.2h0M240.1 68.1h0M219.2 73.0h0M221.1 58.1h0M228.2 65.0h0M216.6 61.6h0M218.1 68.9h0M226.1 72.8h0M236.4 73.5h0M216.5 72.8h0M225.2 73.0h0M226.5 74.8h0M230.0 82.4h0M232.9 72.6h0M224.2 81.9h0M234.5 72.0h0M230.0 80.9h0M238.8 65.3h0M232.1 74.7h0M233.1 77.8h0M226.4 67.1h0M217.4 76.4h0M216.1 61.0h0M226.7 76.3h0M237.8 67.7h0M224.0 86.8h0M227.5 79.1h0M218.5 79.0h0M219.0 75.8h0M227.7 62.7h0M222.4 70.8h0M219.7 68.2h0M240.2 69.0h0M215.7 66.0h0M234.1 73.8h0M229.6 72.0h0M238.5 70.9h0M221.5 71.9h0M220.3 78.7h0M224.9 69.7h0M217.7 65.8h0M224.5 72.7h0M228.9 69.9h0M237.5 71.7h0M217.9 57.5h0M225.6 69.6h0M222.8 79.3h0M219.8 81.9h0M224.8 80.7h0M224.1 81.2h0M217.5 62.5h0M218.1 56.9h0M221.4 62.2h0M216.2 67.4h0M232.7 81.0h0M217.4 70.5h0M222.3 61.9h0M228.8 82.4h0M223.0 78.9h0M219.2 81.5h0M228.6 87.1h0M229.3 85.7h0M227.6 66.4h0" stroke="#3f96f8" stroke-width="1.0" stroke-linecap="round" fill="none"/>
<path d="M219.7 68.0h0M236.2 71.9h0M217.8 70.2h0M220.1 78.1h0M220.7 66.7h0M215.0 60.1h0M222.0 60.6h0M226.5 67.4h0M225.5 83.4h0M224.8 83.1h0M218.4 69.7h0M236.4 72.6h0M234.6 76.2h0M232.0 74.8h0M226.7 59.6h0M221.6 82.9h0M217.2 56.6h0M226.5 75.4h0M222.7 85.3h0M224.9 79.8h0M234.2 73.1h0M224.8 79.5h0M222.1 62.0h0M219.6 57.9h0M233.4 73.2h0M233.7 72.7h0M222.9 67.4h0M226.7 75.8h0M221.5 56.4h0M231.5 79.6h0M235.9 69.5h0M228.6 65.9h0M218.3 75.9h0M220.7 75.4h0M241.2 66.6h0M222.7 62.3h0M232.8 72.9h0M225.9 58.5h0M235.1 73.0h0M220.5 56.5h0M228.3 84.8h0M215.7 71.1h0M219.8 63.4h0M229.0 83.0h0M221.9 66.5h0M234.5 76.2h0M219.9 73.8h0M223.9 63.0h0M222.4 58.0h0M231.9 78.4h0M229.3 80.1h0M220.7 64.7h0M217.0 58.5h0M218.7 62.0h0M231.8 79.8h0M220.6 78.8h0M233.8 77.3h0M219.8 76.6h0M226.7 64.5h0M230.6 80.9h0M229.8 85.5h0M214.9 64.9h0M239.6 67.7h0M217.7 74.8h0M225.1 73.3h0M225.6 58.0h0M231.8 83.9h0M223.4 69.9h0M228.3 82.5h0M236.3 68.9h0M227.9 63.8h0M218.7 63.2h0M227.9 84.1h0M220.0 76.6h0M238.4 69.5h0M225.7 61.2h0M218.4 72.9h0M216.2 61.5h0M222.5 71.5h0M225.2 58.6h0M220.9 65.7h0M229.0 80.2h0M220.4 66.5h0M225.7 67.2h0M227.2 61.8h0M233.2 76.0h0M242.1 65.0h0M217.4 72.6h0M224.8 78.1h0M215.3 61.0h0" stroke="#fff" stroke-width="0.9" stroke-linecap="round" fill="none" opacity="0.8"/>
<polyline points="234.7,103.6 240.3,112.7 247.1,124 251.7,133.1 252.8,141" stroke="#12bcc8" stroke-width="2.4" fill="none" stroke-linecap="round" stroke-linejoin="round" opacity="0.55"/>
<polyline points="249,126 253.9,128.6 260.7,133.1 265.3,138.8 263.2,144.5 266.5,144.8 269.3,137.4 272.7,136 277,135.4" stroke="#12bcc8" stroke-width="2.0" fill="none" stroke-linecap="round" stroke-linejoin="round" opacity="0.55"/>
<path d="M235.4 107.0h0M249.3 136.2h0M248.9 126.8h0M251.9 133.3h0M235.9 100.3h0M237.5 106.3h0M243.2 118.8h0M238.4 107.1h0M246.0 125.8h0M251.5 137.6h0M237.9 105.9h0M250.6 132.9h0M243.6 115.3h0M250.4 129.4h0M243.2 115.6h0M245.2 119.9h0M249.5 129.5h0M245.4 114.6h0M250.3 134.5h0M251.4 139.9h0M254.4 139.0h0M249.9 136.4h0M251.6 129.3h0M233.9 106.1h0M237.5 105.9h0M254.4 138.4h0M247.5 124.7h0M247.0 123.5h0M247.5 128.5h0M233.7 104.5h0M237.1 107.2h0M248.8 124.9h0M247.1 123.9h0M254.2 140.7h0M234.0 106.8h0M250.6 134.8h0M235.5 104.8h0M247.5 123.3h0M233.8 108.2h0M250.5 133.0h0M236.3 110.1h0M241.6 108.0h0M252.0 127.9h0M236.9 110.0h0M243.0 117.7h0M234.5 103.5h0M237.2 109.6h0M245.4 124.1h0M244.3 120.1h0M254.2 137.2h0M244.2 115.8h0M249.5 130.1h0M247.5 124.6h0M242.5 113.6h0M237.8 109.0h0M238.1 109.0h0M237.0 102.0h0M246.1 115.7h0M234.9 103.0h0M245.4 122.4h0M243.9 117.0h0M250.3 127.4h0M241.4 117.0h0M251.0 133.7h0M252.6 132.6h0M238.0 110.8h0M247.7 125.4h0M250.8 139.7h0M251.1 138.5h0M252.6 134.5h0M247.1 123.4h0M244.9 119.0h0M248.0 122.9h0M245.9 122.1h0M253.8 133.2h0M243.1 122.4h0M239.4 114.0h0M236.9 110.7h0M248.7 125.4h0M244.5 120.8h0M241.9 113.3h0M255.3 135.8h0M234.0 104.2h0M240.0 112.4h0M246.7 124.0h0M242.4 116.6h0M254.3 135.7h0M249.7 126.4h0M249.9 139.4h0M244.7 119.0h0M249.2 131.6h0M247.2 130.1h0M248.2 129.8h0M245.1 122.9h0M233.0 103.0h0M250.9 135.8h0M248.0 126.5h0M245.0 128.1h0M235.3 105.0h0M245.2 124.0h0M236.0 108.2h0M236.3 107.0h0M247.7 122.1h0M237.3 108.3h0M252.7 138.7h0M244.5 120.2h0M246.1 116.1h0M246.4 123.3h0M251.9 138.6h0M252.5 140.3h0M244.4 117.9h0M251.2 139.2h0M253.3 136.6h0M244.3 123.5h0M245.9 119.4h0M238.2 108.0h0M249.9 132.7h0M250.8 124.7h0M247.0 130.2h0M246.1 123.6h0M240.5 112.3h0M252.3 133.5h0M242.9 115.5h0M253.2 132.0h0M245.8 123.6h0M255.3 133.1h0M238.5 107.9h0M251.9 139.1h0M252.0 142.8h0M234.8 106.3h0M253.8 136.2h0M246.7 128.5h0M244.3 125.1h0M246.7 124.8h0M239.9 112.6h0M234.5 110.6h0M237.2 105.0h0M232.6 104.0h0M240.3 114.6h0M237.1 108.4h0M253.6 134.4h0M241.2 111.3h0M252.2 137.8h0M249.3 122.2h0M248.9 132.5h0M249.3 131.9h0M255.7 143.0h0M247.9 124.3h0M238.4 108.3h0M248.9 132.6h0M235.9 108.1h0M242.2 117.0h0M243.9 122.3h0M235.6 104.7h0M239.0 112.5h0M251.2 133.6h0M249.0 136.1h0M245.6 123.4h0M236.2 106.9h0M246.5 123.4h0M236.9 112.3h0M241.0 116.5h0M250.7 135.9h0M253.4 140.8h0M247.5 123.4h0M254.2 136.6h0M235.2 107.7h0M245.8 119.9h0M237.6 107.8h0M237.9 109.8h0M241.9 114.3h0M248.8 132.0h0M250.2 133.3h0M238.4 105.9h0M248.8 127.7h0M245.5 124.7h0M239.2 107.5h0M252.0 135.4h0M240.1 115.3h0M249.4 134.6h0M249.2 128.0h0M248.2 120.3h0M234.8 106.8h0M237.6 106.5h0M247.1 125.5h0M235.6 106.3h0M250.7 138.6h0M238.2 111.2h0M251.7 141.5h0M237.1 107.7h0M233.7 104.2h0M232.8 104.0h0M248.4 123.1h0M244.0 117.5h0M249.8 138.0h0M235.1 105.9h0M252.6 132.9h0M242.3 117.1h0M238.2 108.0h0M249.6 129.3h0M242.9 115.7h0M241.3 117.1h0M249.3 132.1h0M237.0 107.3h0M243.1 115.0h0M242.2 115.1h0M252.0 138.0h0M249.3 127.9h0M252.3 133.8h0M249.1 132.9h0M240.7 115.2h0M241.2 115.0h0M253.4 138.3h0M251.2 127.9h0M237.7 104.9h0M246.3 121.2h0M238.9 110.6h0M248.9 127.3h0M252.6 138.4h0M253.0 141.2h0M243.4 115.1h0M248.5 123.0h0M251.0 131.0h0M242.9 117.8h0M243.7 117.0h0M240.0 115.7h0M242.1 111.3h0M241.5 114.0h0M240.5 112.9h0M250.9 140.8h0M250.4 138.4h0M254.8 134.3h0M238.4 104.6h0M242.7 114.7h0M244.8 117.2h0M252.6 133.8h0M254.0 132.9h0M240.2 109.3h0M244.4 122.8h0M240.9 113.2h0M253.0 135.9h0M246.3 119.2h0M254.0 138.6h0M244.1 120.6h0M240.7 115.7h0M244.1 114.6h0M249.0 126.8h0M247.9 123.8h0M253.5 130.3h0M247.6 129.3h0M238.6 108.1h0M253.1 138.3h0M242.4 115.6h0M253.0 128.8h0M250.6 130.7h0M249.6 124.1h0M251.5 140.0h0M249.9 133.0h0M242.4 115.6h0M244.0 117.4h0M251.0 130.6h0M240.1 111.2h0M240.6 113.4h0M240.7 114.6h0M252.1 137.8h0M246.9 125.2h0M246.0 124.4h0M244.6 116.4h0M247.4 127.2h0M252.4 130.9h0M244.0 120.2h0M240.5 115.1h0M244.0 115.2h0M251.1 139.3h0M242.5 112.2h0M235.0 101.0h0M242.3 117.5h0M244.4 120.8h0M249.2 131.1h0M237.7 111.4h0M249.3 131.4h0M251.5 134.4h0M252.0 134.2h0M245.2 120.2h0M253.2 138.0h0M238.3 112.5h0M237.5 107.6h0M251.4 132.8h0M253.1 132.6h0M243.4 118.9h0M238.6 111.0h0M252.1 140.0h0M242.8 118.9h0M240.0 116.7h0M235.0 104.1h0M246.8 123.2h0M253.2 138.9h0M251.9 130.5h0M246.9 123.0h0M238.1 111.0h0M252.6 130.8h0M250.9 141.1h0M237.5 107.1h0M251.9 134.7h0M238.1 107.1h0M240.8 112.3h0M239.8 108.5h0M254.3 133.7h0M246.8 124.8h0M237.7 106.6h0M252.8 138.2h0M251.0 133.1h0M245.7 123.9h0M235.6 106.0h0M240.8 116.1h0M234.9 104.9h0M245.5 116.1h0M245.0 125.8h0M237.5 106.6h0M241.1 110.2h0M238.4 113.0h0M243.3 115.8h0M243.1 112.6h0M239.8 108.5h0M249.3 125.9h0M239.0 110.9h0M247.9 132.1h0M235.9 105.6h0M244.7 118.9h0M254.8 138.4h0M250.6 129.2h0M250.7 125.8h0M237.3 107.3h0M244.1 117.9h0M249.6 127.5h0M242.8 116.0h0M232.2 110.3h0M253.2 131.9h0M251.0 136.5h0M253.0 137.3h0M249.5 130.7h0M249.2 127.0h0M247.7 126.0h0M252.3 138.3h0M248.1 123.0h0M252.0 136.7h0M241.7 117.5h0M248.1 121.8h0M235.6 105.3h0M237.1 108.5h0M248.5 125.2h0M237.1 105.0h0M251.8 138.4h0M235.9 109.3h0M240.5 113.0h0M242.7 123.0h0M250.3 133.2h0M249.4 123.4h0M237.1 105.9h0M239.6 109.0h0M249.7 130.7h0M251.6 137.3h0M249.9 129.2h0M240.0 115.1h0M254.5 136.0h0M237.1 108.9h0M239.2 110.4h0M244.8 114.5h0M246.1 125.4h0M240.9 113.1h0M233.3 105.2h0M238.8 115.3h0M248.4 126.0h0M246.6 120.4h0M237.9 107.1h0M240.5 116.7h0M246.6 120.1h0M248.5 128.4h0M250.5 132.2h0M241.2 115.6h0M244.3 116.7h0M250.5 136.3h0M236.7 107.2h0M250.2 130.6h0M242.2 117.5h0M246.4 123.5h0M247.5 123.2h0M236.3 105.0h0M244.5 123.4h0M252.5 134.4h0M249.9 126.4h0M252.8 138.3h0M239.0 109.7h0M238.1 107.0h0M245.9 119.4h0M236.8 108.4h0M242.9 119.9h0M245.0 117.0h0M247.8 125.0h0M240.4 112.0h0M245.4 120.1h0M243.2 117.3h0M246.8 121.9h0M240.6 112.4h0M248.7 126.6h0M251.3 132.2h0M251.5 134.6h0M250.9 135.3h0M251.0 133.6h0M240.2 113.1h0M253.7 138.9h0M240.9 114.4h0M238.5 109.9h0M238.3 108.5h0M245.6 121.9h0M249.8 131.1h0M237.6 108.1h0M238.9 110.0h0M251.0 138.5h0M244.1 113.4h0" stroke="#12bcc8" stroke-width="1.0" stroke-linecap="round" fill="none"/>
<path d="M267.7 143.7h0M263.1 138.0h0M264.3 140.1h0M259.1 133.7h0M249.0 128.0h0M271.7 137.2h0M263.9 140.8h0M262.9 141.4h0M262.5 132.9h0M258.2 129.6h0M267.3 144.2h0M263.2 136.5h0M267.1 145.6h0M261.0 131.2h0M265.9 139.7h0M269.6 136.6h0M267.2 140.5h0M269.6 135.8h0M265.5 143.4h0M262.0 134.4h0M264.1 142.3h0M263.0 133.2h0M272.4 137.4h0M266.0 139.0h0M265.2 142.3h0M270.7 135.4h0M266.6 141.5h0M264.8 144.0h0M258.7 132.9h0M262.2 143.2h0M269.0 143.9h0M268.9 139.7h0M269.6 141.2h0M272.2 137.9h0M252.1 126.6h0M272.0 139.9h0M268.7 139.9h0M273.1 134.2h0M265.7 145.1h0M275.2 135.3h0M263.8 136.6h0M249.3 127.3h0M273.3 136.4h0M271.8 139.0h0M263.1 140.6h0M262.1 138.7h0M263.8 137.1h0M274.5 136.9h0M257.7 130.2h0M277.5 133.1h0M266.2 145.4h0M263.1 146.0h0M266.0 144.7h0M270.9 136.0h0M259.8 134.0h0M256.4 130.5h0M251.5 130.5h0M275.0 135.3h0M267.7 141.9h0M262.7 143.8h0M263.5 135.3h0M250.3 125.9h0M275.9 135.0h0M264.9 144.5h0M261.0 136.3h0M269.9 136.8h0M264.4 143.7h0M268.3 139.3h0M263.9 145.1h0M266.4 145.0h0M277.1 134.8h0M259.9 133.6h0M263.6 144.7h0M273.2 134.3h0M264.9 141.5h0M260.6 134.7h0M251.7 126.4h0M269.2 139.4h0M259.3 133.0h0M267.1 139.3h0M268.2 141.0h0M275.3 137.2h0M275.0 137.4h0M262.1 137.5h0M263.0 139.2h0M270.5 138.2h0M271.8 135.4h0M262.5 144.3h0M266.1 139.7h0M259.9 143.9h0M266.5 144.9h0M271.8 136.1h0M258.8 134.4h0M254.6 129.8h0M257.6 130.4h0M270.0 135.7h0M268.3 143.2h0M265.6 143.1h0M275.3 136.0h0M268.2 139.4h0M258.6 131.1h0M264.4 144.0h0M268.6 139.1h0M256.2 129.8h0M249.1 127.3h0M266.5 143.8h0M276.0 134.0h0M253.3 128.3h0M265.3 144.1h0M264.7 137.3h0M267.6 138.6h0M258.5 131.7h0M267.2 144.4h0M263.5 146.2h0M255.5 127.8h0M267.1 137.9h0M254.2 128.2h0M263.6 144.5h0M263.9 144.6h0M262.6 141.9h0M266.2 137.9h0M276.3 137.2h0M272.7 137.6h0M251.7 125.8h0M251.8 126.3h0M255.0 128.3h0M265.9 145.8h0M256.2 131.5h0M264.4 138.8h0M266.0 144.2h0M260.3 131.1h0M266.0 142.6h0M262.2 133.8h0M255.0 127.1h0M267.4 142.2h0M265.3 139.2h0M270.9 135.7h0M270.0 142.1h0M253.0 129.0h0M273.5 133.6h0M266.6 139.2h0M251.0 126.7h0M266.2 144.4h0M267.3 141.0h0M266.1 137.9h0M263.4 144.5h0M277.5 137.2h0M250.0 126.3h0M263.3 136.1h0M264.7 140.2h0M267.2 137.3h0M255.6 129.9h0M265.5 140.1h0M263.4 144.9h0M254.2 131.3h0M268.2 138.4h0M274.1 135.9h0M277.5 135.7h0M264.4 146.0h0M256.3 133.2h0M266.3 141.9h0M257.3 131.0h0M259.6 135.0h0M267.5 140.5h0M259.3 133.8h0M270.3 140.1h0M254.3 127.6h0M261.9 144.0h0M275.3 135.2h0M263.5 138.2h0M251.9 127.4h0M262.5 132.1h0M263.7 134.7h0M254.7 126.7h0M258.2 132.3h0M257.2 129.5h0M249.9 127.6h0M262.1 136.5h0M267.9 143.0h0M264.5 143.7h0M265.5 139.2h0M262.7 141.3h0M265.4 137.1h0M268.6 138.1h0M250.0 129.3h0M269.0 140.0h0M263.6 140.2h0M270.6 138.5h0M271.8 136.8h0M267.3 143.3h0M257.4 129.0h0M267.8 144.2h0M269.5 135.6h0M265.6 141.9h0M275.7 137.3h0M253.0 126.4h0M263.9 139.6h0M253.7 128.7h0M261.5 132.3h0M257.2 130.4h0M253.3 126.7h0M267.0 142.6h0M257.4 131.8h0M257.8 130.3h0M253.8 127.5h0M276.8 136.4h0M262.4 144.4h0M268.0 140.1h0M254.0 128.2h0M262.5 136.8h0M260.8 134.5h0M263.1 136.0h0M258.7 131.7h0M266.9 141.0h0M265.8 140.9h0M264.3 138.5h0M254.2 129.9h0M258.6 131.6h0M263.6 136.2h0M252.7 127.6h0M271.6 138.5h0M262.5 145.2h0M256.7 131.8h0M258.5 132.0h0M261.6 144.9h0M263.5 139.3h0M265.2 144.0h0M266.3 142.6h0M260.5 132.4h0M256.1 128.0h0M260.1 136.5h0M251.9 125.9h0M261.3 135.6h0M265.7 138.9h0M265.3 140.8h0M270.4 139.8h0M262.2 136.4h0M251.9 125.9h0M259.0 131.6h0M269.4 137.8h0M257.2 130.6h0M267.9 143.0h0M264.3 145.0h0M263.7 141.4h0M255.3 131.3h0M263.5 135.3h0M264.5 137.4h0M263.9 138.6h0M259.3 131.0h0M262.7 139.6h0M264.9 139.3h0M270.2 136.3h0M265.3 140.3h0M257.6 133.2h0M263.8 140.2h0M251.1 126.5h0M249.4 129.0h0M273.5 136.1h0M266.3 143.5h0M268.8 144.7h0M267.5 142.0h0M275.7 136.0h0M264.5 136.6h0M262.7 138.0h0M259.0 134.7h0M262.4 145.5h0M257.7 131.3h0M273.8 136.5h0M263.2 141.0h0M264.3 145.2h0M269.9 137.9h0M272.3 138.3h0M273.2 136.2h0M274.5 137.2h0M266.0 144.1h0M262.9 144.2h0M263.7 144.3h0M263.0 135.8h0M267.2 141.9h0M250.3 130.3h0M274.0 136.2h0M265.1 145.8h0M260.5 132.8h0M266.1 137.7h0M267.7 137.1h0M265.0 136.4h0M269.7 137.2h0M257.2 128.7h0M264.2 134.8h0M275.3 135.5h0M257.2 131.6h0M272.6 137.5h0M275.1 136.0h0M263.0 144.8h0M267.8 137.7h0M267.9 138.0h0M264.6 141.6h0M267.9 139.8h0M262.9 135.3h0M256.3 131.4h0M266.3 142.9h0M265.1 136.2h0M261.6 140.3h0M251.1 127.9h0M262.2 146.4h0M265.0 140.3h0M264.4 141.2h0M255.6 129.5h0M261.0 132.0h0M259.6 132.9h0M272.9 137.6h0M263.1 136.6h0M261.3 142.0h0M268.5 137.1h0M273.9 135.2h0M265.2 142.9h0M267.2 145.1h0M268.6 139.0h0M265.1 141.7h0M265.9 142.8h0M277.8 135.6h0M254.2 127.9h0M264.1 144.0h0M270.8 136.2h0M257.4 129.3h0M251.9 127.4h0M264.0 143.5h0M255.5 130.5h0M250.4 127.9h0M250.8 128.5h0M256.3 129.3h0M272.9 135.8h0M258.0 132.4h0M251.7 127.6h0M270.6 136.3h0M266.6 142.4h0M250.9 125.5h0M263.1 140.4h0M274.8 135.5h0M264.8 138.6h0M252.3 129.1h0M256.4 130.2h0M259.4 130.8h0M256.8 130.3h0M259.7 132.5h0M274.5 136.2h0M261.5 131.2h0M253.6 126.7h0M266.9 140.7h0M258.7 133.3h0M251.3 128.1h0M253.4 129.1h0M264.7 136.5h0M258.1 131.7h0M264.8 140.9h0M267.3 139.1h0M255.3 127.8h0M272.9 135.4h0M258.4 131.4h0M255.4 131.4h0M263.0 135.2h0M264.6 141.9h0M248.2 127.3h0M267.2 140.7h0M268.2 146.2h0M270.8 138.1h0M271.3 136.2h0M261.6 134.4h0M266.2 140.2h0M263.4 143.1h0M262.4 144.0h0M257.4 132.5h0M253.7 128.7h0M262.0 136.1h0M261.6 134.8h0M265.6 145.0h0M263.1 145.0h0M261.5 134.1h0M264.9 141.3h0M259.6 129.9h0" stroke="#12bcc8" stroke-width="1.0" stroke-linecap="round" fill="none"/>
<path d="M263.1 118.3h0M246.7 105.6h0M271.6 118.0h0M242.1 104.4h0M259.6 124.1h0M243.3 105.8h0M239.5 105.7h0M246.7 111.6h0M254.0 120.5h0M254.8 122.2h0M258.7 122.9h0M264.4 123.0h0M237.6 103.8h0M240.0 106.0h0M239.2 106.6h0M248.0 110.5h0M248.7 115.7h0M264.8 119.8h0M242.0 108.2h0M246.8 104.2h0M249.9 114.7h0M261.2 123.0h0M238.2 103.8h0M267.2 124.5h0M259.6 115.7h0M263.8 117.6h0M240.1 102.9h0M264.5 125.2h0M263.1 125.9h0M257.1 120.2h0M264.4 122.9h0M267.9 127.2h0M239.8 105.6h0M261.6 122.5h0M250.8 118.0h0M258.8 116.3h0M254.5 114.4h0M268.8 124.2h0M260.5 119.3h0M256.6 113.1h0" stroke="#12bcc8" stroke-width="0.9" stroke-linecap="round" fill="none"/>
<path d="M279.7 132.9h0M278.6 137.2h0M277.5 131.4h0M274.8 126.1h0M280.5 139.5h0M279.5 140.6h0M280.5 139.3h0M282.0 141.1h0M282.7 140.9h0M274.0 123.9h0M282.9 143.6h0M274.4 126.0h0M277.1 131.0h0M279.3 133.0h0M282.0 141.6h0M277.3 130.3h0M277.6 126.9h0M273.6 125.6h0M283.3 141.2h0M283.7 142.8h0M278.7 136.2h0M285.7 143.8h0M276.3 127.4h0M280.0 136.3h0M278.2 133.1h0M277.3 129.9h0M279.8 137.5h0M276.7 130.0h0M283.2 143.5h0M274.8 125.6h0M282.1 140.6h0M281.4 142.6h0M280.9 138.0h0M278.2 135.4h0M273.8 126.0h0M278.3 135.6h0M280.4 136.9h0M280.7 138.5h0M277.0 132.2h0M284.0 144.8h0M283.5 145.2h0M278.7 137.1h0M282.6 142.3h0M287.0 145.4h0M274.7 127.0h0M286.7 145.0h0M283.9 143.5h0M280.9 140.0h0M282.7 137.9h0M274.1 125.0h0M274.3 124.6h0M283.4 144.5h0M273.1 124.3h0M278.2 132.9h0M282.8 141.7h0M272.5 123.9h0M277.0 126.9h0M277.5 130.3h0M285.3 145.2h0M282.2 142.5h0M274.8 124.9h0M278.5 131.5h0M283.9 143.0h0M285.5 144.2h0M284.6 143.5h0M277.5 129.4h0M277.0 129.7h0M282.2 136.9h0M276.9 130.1h0M274.7 125.8h0M280.6 138.7h0M275.0 125.8h0M278.1 133.3h0M282.6 141.5h0M276.6 129.4h0M280.0 141.4h0M279.2 132.2h0M278.3 134.6h0M279.1 138.5h0M283.6 142.0h0M277.5 128.6h0M274.0 125.8h0M281.1 141.3h0M281.2 140.3h0M275.4 124.4h0M277.0 127.9h0M281.0 141.3h0M278.7 132.1h0M277.0 129.2h0M280.6 135.6h0M275.9 128.3h0M276.2 129.3h0M277.2 130.8h0M277.6 130.2h0M278.0 131.5h0M273.8 124.2h0M282.2 141.3h0M281.2 140.5h0M278.5 134.2h0M280.0 134.9h0M281.4 137.7h0M273.7 122.8h0M276.8 127.7h0M282.1 141.9h0M279.1 131.6h0M278.4 136.7h0M279.2 133.5h0M277.7 135.1h0M278.6 132.8h0M279.1 133.7h0M281.9 137.5h0M281.9 140.3h0M283.6 139.9h0M278.3 132.0h0M275.5 125.5h0M278.5 135.8h0M277.7 131.3h0M280.5 141.8h0M275.7 127.0h0M284.7 145.4h0M278.6 131.7h0M277.8 132.8h0M282.5 142.9h0M282.4 143.4h0M274.1 126.3h0M274.4 125.4h0M280.2 137.3h0M282.2 140.5h0M272.2 125.3h0M275.9 126.4h0M278.6 131.1h0M278.7 132.5h0M281.5 139.3h0M278.9 131.1h0M282.5 144.0h0M280.2 137.3h0M279.9 137.5h0M280.1 136.8h0M281.1 138.7h0M278.7 132.7h0M274.7 124.7h0M283.6 144.2h0M278.2 131.6h0M278.5 132.8h0M275.5 128.1h0M280.2 137.0h0M274.8 125.5h0M275.4 127.7h0M277.2 128.6h0M284.2 142.8h0M281.8 137.6h0M281.9 141.3h0M281.8 139.8h0M279.6 135.1h0M275.1 125.1h0M284.8 143.4h0M280.3 139.5h0M279.7 137.8h0M275.5 124.5h0M285.7 143.7h0" stroke="#f660e6" stroke-width="1.0" stroke-linecap="round" fill="none"/>
<polygon points="310.8,102.3 303.3,109.0 298.8,118.0 290.8,123.8 289.0,134.0 290.8,145.4 298.8,149.9 304.4,151.7 310.1,147.6 314.6,140.8 318.0,129.5 317.6,115.9 314.6,106.8" fill="#00ba38" opacity="0.88"/>
<path d="M303.4 119.2h0M312.4 121.0h0M292.1 141.8h0M294.3 139.4h0M300.4 135.2h0M314.2 128.4h0M305.3 118.0h0M314.4 125.9h0M309.8 131.1h0M302.2 148.0h0M308.1 140.7h0M300.8 119.4h0M307.3 114.7h0M315.1 138.9h0M296.2 122.0h0M297.9 125.6h0M300.4 144.9h0M309.1 137.7h0M302.5 142.4h0M304.6 138.2h0M300.5 149.3h0M301.8 143.0h0M305.2 141.8h0M304.2 134.8h0M293.9 127.0h0M299.1 128.2h0M301.6 115.5h0M315.2 123.3h0M289.9 138.1h0M290.5 138.9h0M298.3 149.6h0M313.9 114.2h0M292.5 135.6h0M311.1 127.9h0M292.2 129.4h0M308.7 133.2h0M303.6 130.9h0M311.9 123.7h0M306.4 113.5h0M304.0 111.7h0M307.9 113.8h0M292.4 136.8h0M317.1 126.1h0M292.7 138.2h0M305.2 139.6h0M297.6 132.0h0M306.9 141.5h0M311.1 116.1h0M301.6 122.7h0M307.9 126.5h0M301.5 124.2h0M298.0 120.1h0M297.2 139.1h0M311.7 124.2h0M317.3 115.7h0M303.0 145.8h0M304.6 137.8h0M304.4 146.6h0M298.7 144.9h0M308.8 142.7h0M301.9 119.4h0M301.5 133.4h0M314.0 112.4h0M301.1 140.3h0M306.3 133.1h0M294.8 133.2h0M298.6 135.9h0M311.0 137.8h0M311.4 139.9h0M312.8 119.8h0M297.8 140.7h0M299.8 119.7h0M305.4 113.8h0M305.0 130.3h0M290.4 131.6h0M315.2 128.4h0M304.6 147.5h0M293.9 122.3h0M309.8 115.3h0M303.4 109.1h0M306.8 138.5h0M303.9 145.3h0M299.9 129.2h0M301.1 117.3h0M307.9 126.9h0M307.5 112.0h0M310.1 111.9h0M315.0 125.6h0M314.4 122.8h0M297.0 122.2h0M306.2 108.7h0M302.5 121.7h0M304.3 149.4h0M294.6 127.7h0M306.4 127.5h0M306.6 132.4h0M298.7 128.9h0M309.2 147.5h0M316.7 114.0h0M309.6 110.9h0M305.3 135.5h0M315.4 122.7h0M299.4 140.6h0M314.0 120.5h0M302.7 116.4h0M291.7 127.9h0M311.1 124.6h0M301.3 126.3h0M317.8 122.5h0M314.4 126.8h0M304.1 129.1h0M311.4 133.3h0M316.4 127.0h0M307.5 119.4h0M308.8 118.8h0M306.1 121.9h0M300.5 143.1h0M294.1 126.3h0M299.8 119.9h0M311.6 144.2h0M298.2 129.0h0M306.3 111.1h0M303.6 132.7h0M305.7 139.9h0M305.8 125.2h0M292.7 146.3h0M311.4 118.0h0M307.1 144.7h0M309.7 138.1h0M313.0 106.0h0M294.1 138.7h0M317.6 130.6h0M302.9 118.1h0M298.7 137.0h0M310.1 136.5h0M304.4 111.5h0M315.7 121.7h0M296.1 121.1h0M299.8 117.8h0M314.9 124.3h0M295.4 126.9h0M314.9 122.2h0M297.9 134.5h0M306.4 133.2h0M315.2 123.2h0M302.0 135.4h0M303.3 140.8h0M301.2 125.0h0M302.6 143.3h0M303.9 113.2h0M307.6 117.8h0M315.8 115.3h0M303.6 127.3h0M301.9 135.6h0M306.8 110.7h0M293.2 137.1h0M316.6 115.4h0M301.3 148.6h0M293.0 129.3h0M307.6 142.4h0M302.2 143.2h0M310.6 145.2h0M301.8 136.6h0M303.7 142.9h0M313.8 118.7h0M316.8 116.0h0M312.2 113.2h0M307.0 120.9h0M312.1 131.1h0M310.9 107.9h0M299.3 118.8h0M312.2 119.5h0M304.4 146.5h0M306.0 126.6h0M311.1 126.4h0M317.2 127.6h0M316.8 128.0h0M304.2 130.3h0M306.8 137.0h0M303.3 136.4h0M307.8 119.7h0M301.8 126.3h0M306.9 143.4h0M303.0 134.5h0M302.5 122.7h0M291.3 135.4h0M296.2 140.3h0M291.9 128.5h0M301.0 131.3h0M298.9 140.3h0M306.2 116.4h0M313.7 117.1h0M313.6 125.1h0M299.8 132.7h0M310.9 115.3h0M300.9 147.9h0M295.5 144.3h0M316.1 114.3h0M291.3 124.1h0M310.4 133.8h0M308.3 147.1h0M316.4 114.1h0M290.6 130.8h0M304.1 145.9h0M290.7 143.0h0M293.3 145.7h0M316.1 119.7h0M290.1 131.1h0M304.8 141.4h0M311.7 111.2h0M316.3 119.8h0M307.6 130.7h0M296.7 133.6h0M302.2 132.0h0M290.9 140.0h0M311.5 132.8h0M306.1 141.6h0M306.8 135.5h0M310.4 140.5h0M301.5 122.6h0M316.1 126.5h0M297.4 138.0h0M307.7 131.1h0M310.3 121.7h0M306.3 121.6h0M299.1 136.5h0M311.0 117.0h0M308.2 125.9h0M292.2 140.7h0M293.5 145.5h0M302.6 148.1h0M304.4 126.9h0M311.3 128.1h0M299.8 117.3h0M308.4 134.8h0M315.7 133.2h0M299.7 139.0h0M302.2 150.6h0M315.6 125.0h0M303.8 117.2h0M315.7 121.8h0M313.1 126.4h0M301.5 137.5h0M290.1 135.9h0M294.8 123.0h0M296.7 120.5h0M302.4 118.2h0M298.5 124.9h0M312.8 133.5h0M294.1 145.2h0M305.7 116.7h0M301.1 127.0h0M305.2 144.0h0M293.5 142.6h0M300.4 140.2h0M294.3 133.9h0M298.6 147.7h0M316.5 134.0h0M297.1 123.0h0M304.0 134.1h0M312.9 130.7h0M297.4 132.5h0M308.0 134.9h0M310.9 126.4h0M307.6 131.3h0M312.6 127.2h0M300.7 118.6h0M312.2 121.0h0M317.4 118.6h0M311.7 136.3h0M298.8 131.3h0M309.3 118.4h0M295.5 147.7h0M294.3 132.0h0M315.1 124.6h0M308.3 109.8h0M300.1 123.6h0M297.4 131.2h0M313.9 130.7h0M314.0 130.1h0M315.7 130.2h0M316.7 117.6h0M294.6 138.4h0M307.2 116.1h0M315.2 136.1h0M295.6 130.1h0M302.3 119.9h0M311.2 142.7h0M314.1 134.5h0M306.7 121.8h0M301.0 120.9h0M314.4 124.1h0M304.6 132.0h0M304.9 136.9h0M290.4 142.9h0M303.5 147.7h0M301.6 140.3h0M314.6 134.8h0M302.2 134.7h0M311.7 120.4h0M299.5 137.4h0M310.0 141.4h0M297.5 136.4h0M302.4 130.5h0M306.5 123.2h0M292.8 125.8h0M307.3 120.0h0M295.9 140.8h0M312.4 106.0h0M303.0 120.5h0M315.1 139.0h0M298.8 133.8h0M295.5 137.6h0M301.3 132.0h0M307.5 138.0h0M293.5 123.7h0M305.9 109.6h0M302.1 130.1h0M305.9 139.6h0M304.3 131.0h0M296.3 145.9h0M306.0 124.9h0M303.9 143.0h0M308.5 118.0h0M314.2 132.8h0M311.4 138.8h0M312.6 121.3h0M315.3 132.0h0M292.1 129.6h0M303.8 108.7h0M309.0 128.8h0M309.0 142.4h0M313.7 110.7h0M302.2 116.6h0M300.5 149.9h0M308.1 136.3h0M290.2 137.2h0M310.6 146.0h0M315.6 112.4h0M290.8 144.5h0M311.2 137.8h0M295.4 121.5h0M300.0 118.8h0M295.7 130.2h0M305.3 133.5h0M306.5 124.3h0M310.6 146.6h0M316.6 133.9h0M311.6 115.7h0M303.7 132.1h0M294.9 126.0h0M296.4 139.8h0M300.6 121.9h0M302.4 134.4h0M310.9 124.0h0M301.6 129.5h0M309.5 124.3h0M317.4 125.7h0M306.4 132.7h0M310.8 109.3h0M292.3 124.9h0M302.5 145.6h0M306.9 113.1h0M304.1 136.5h0M310.0 145.8h0M299.0 143.4h0M304.3 150.7h0M317.8 123.4h0M308.4 146.2h0M307.5 137.9h0M308.9 116.6h0M305.0 114.0h0M303.6 117.3h0M313.8 134.7h0M315.6 136.0h0M313.1 120.5h0M302.7 114.8h0M294.6 122.7h0M292.2 137.0h0M309.6 112.3h0M291.3 140.4h0M303.5 122.8h0M315.2 117.5h0M310.2 135.9h0M301.7 147.3h0M311.3 126.2h0M307.6 135.4h0M300.1 120.2h0M296.4 138.1h0M314.8 128.6h0M310.2 137.6h0M304.5 145.5h0M315.6 127.6h0M307.2 129.6h0M295.0 128.1h0M296.3 134.4h0M309.8 106.5h0M309.8 133.9h0M292.6 140.0h0M295.1 134.8h0M300.7 131.7h0M304.7 121.6h0M304.9 131.1h0M292.9 137.9h0M308.0 125.7h0M299.4 137.3h0M314.4 126.4h0M307.3 112.7h0M314.3 133.1h0M315.3 124.6h0M290.8 138.7h0M307.0 118.7h0M305.8 114.2h0M311.2 144.6h0M310.0 136.2h0M312.4 125.8h0M301.2 134.5h0M291.3 130.2h0M304.8 109.7h0M299.5 133.6h0M305.0 143.7h0M293.7 143.8h0M310.4 108.5h0M290.6 141.4h0M292.0 145.5h0M300.5 144.2h0M310.6 110.7h0M298.9 136.1h0M306.4 136.9h0M303.4 121.6h0M306.4 138.7h0M309.8 129.4h0M293.4 122.4h0M302.7 118.0h0M308.4 142.8h0M297.5 127.0h0M301.9 115.4h0M294.9 125.7h0M297.0 132.6h0M316.3 132.2h0M299.8 121.3h0M301.9 118.6h0M310.4 107.2h0M309.1 137.2h0M294.9 121.8h0M311.7 112.3h0M317.7 125.0h0M317.0 118.1h0M299.9 121.2h0M316.8 129.8h0M297.2 147.2h0M302.1 129.6h0M298.6 122.9h0M310.5 145.4h0M309.3 127.0h0M306.1 139.9h0M299.1 126.9h0M304.1 137.8h0M294.2 124.9h0M312.8 132.2h0M303.1 137.7h0M294.0 131.3h0M305.0 133.8h0M316.8 116.6h0M294.9 139.8h0M306.9 112.7h0M304.2 146.8h0M300.9 143.9h0M312.8 137.0h0M303.7 142.4h0M303.5 120.5h0M292.9 142.2h0M315.7 132.9h0M308.3 106.8h0M296.5 136.2h0M312.0 108.8h0M299.3 132.8h0M309.8 129.9h0M299.9 128.2h0M312.4 126.5h0M291.0 129.0h0M295.5 135.7h0M307.5 133.6h0M309.7 121.5h0M294.0 144.2h0M307.2 127.1h0M308.3 135.8h0M314.6 132.1h0M314.9 116.1h0M305.2 127.7h0M294.5 145.4h0M311.9 138.2h0M305.6 118.2h0M303.2 138.1h0M297.2 122.9h0M294.9 128.8h0M298.3 137.6h0M291.2 134.6h0M301.2 128.3h0M294.4 129.3h0M316.3 127.4h0M295.4 123.5h0M294.8 132.2h0M300.5 141.3h0M301.9 129.8h0M310.0 124.6h0M307.6 105.5h0M310.4 110.0h0M304.3 145.4h0M308.8 112.9h0M303.9 132.6h0M289.8 138.5h0M314.3 106.8h0M306.5 111.7h0M316.2 130.1h0M308.9 130.1h0M302.0 138.0h0M303.7 142.1h0M310.1 119.2h0M298.2 134.2h0M308.7 133.2h0M306.8 121.4h0M291.7 136.1h0M309.9 104.1h0M312.4 133.4h0M315.2 109.8h0M297.3 132.6h0M302.3 139.2h0M310.5 137.0h0M292.5 126.4h0M314.4 132.6h0M315.4 125.3h0M291.7 139.5h0M295.5 132.9h0M300.8 122.7h0M313.5 125.0h0M310.4 134.8h0M309.1 110.7h0M316.9 132.8h0M309.1 109.6h0M313.4 114.1h0M310.6 114.0h0M308.0 115.2h0M302.5 114.9h0M311.4 117.3h0M299.3 139.6h0M317.2 121.6h0M307.0 136.4h0M296.3 121.2h0M314.3 128.7h0M311.3 107.4h0M313.7 116.7h0M308.6 107.9h0M314.2 137.1h0M301.2 143.6h0M304.5 130.3h0M311.7 123.3h0M316.1 130.7h0M311.5 139.1h0M304.9 112.5h0M291.8 141.7h0M307.1 116.1h0M305.1 117.1h0M290.8 144.4h0M302.9 119.1h0M305.4 112.0h0M306.0 137.7h0M312.2 144.0h0M300.6 118.8h0M298.3 130.3h0M297.8 132.6h0M301.0 118.0h0M302.1 124.2h0M307.3 138.3h0M294.1 135.7h0M302.0 141.3h0M301.4 146.6h0M305.2 119.3h0M296.3 136.4h0M306.5 142.8h0M299.2 127.4h0M310.1 106.6h0M304.8 148.1h0M310.8 109.2h0M307.7 139.0h0M299.5 150.0h0M302.1 137.3h0M297.6 120.0h0M313.8 132.4h0M296.6 134.0h0M301.3 141.5h0M302.7 142.4h0M309.0 105.9h0M301.6 120.3h0M315.0 124.9h0M314.0 115.2h0M306.1 144.7h0M291.4 142.8h0M304.5 132.1h0M313.0 124.3h0M303.3 123.2h0M306.3 143.2h0M309.1 118.5h0M306.7 139.8h0M315.1 138.8h0M313.5 140.7h0M314.7 135.3h0M296.2 134.7h0M301.5 132.6h0M307.1 145.6h0M311.9 136.1h0M309.5 135.5h0M310.6 145.2h0M307.4 125.5h0M310.4 109.6h0M299.7 130.1h0M305.2 127.8h0M314.0 127.6h0M313.4 125.2h0M307.9 124.5h0M313.2 112.8h0M313.3 122.4h0M293.2 134.8h0M312.6 138.6h0M305.5 147.1h0M294.8 130.9h0M315.9 118.1h0M305.7 117.4h0M311.7 123.4h0M297.3 138.4h0M313.1 113.5h0M308.5 112.5h0M295.6 138.1h0M312.2 129.4h0M304.3 143.2h0M313.6 111.3h0M308.8 129.5h0M305.4 141.3h0M311.3 105.4h0M309.7 141.6h0M307.0 141.4h0M306.9 137.6h0M311.8 107.6h0M299.3 147.5h0M308.2 108.8h0M306.8 121.4h0M308.1 130.3h0M305.4 129.6h0M304.8 119.9h0M305.0 119.1h0M313.6 122.4h0M307.0 114.9h0M307.4 116.2h0M306.0 116.4h0M310.5 140.6h0M298.8 133.4h0M310.8 136.6h0M299.5 129.5h0M298.2 146.8h0M295.1 129.2h0M293.8 141.7h0M316.8 122.2h0M314.8 118.4h0M316.7 118.5h0M309.4 139.2h0M292.7 135.7h0M310.7 144.5h0M313.0 139.4h0M302.5 123.2h0M289.7 135.2h0M293.6 136.1h0M308.2 106.9h0M297.4 125.1h0M303.4 145.7h0M310.3 130.5h0M305.2 114.4h0M290.5 141.6h0M310.1 140.8h0M300.4 137.6h0M307.6 146.9h0M314.1 113.9h0M293.5 127.5h0M304.1 129.0h0M315.0 116.3h0M301.5 117.5h0M297.3 139.5h0M300.7 119.9h0M305.9 128.0h0M311.7 129.6h0M310.8 132.3h0M305.5 137.1h0M313.2 121.1h0M300.9 115.4h0M306.9 143.9h0M290.4 137.4h0M312.1 141.3h0M290.6 135.1h0M310.3 144.3h0M298.4 123.5h0M309.5 114.9h0M292.8 126.8h0M316.4 123.4h0M290.7 137.6h0M298.1 123.4h0M305.3 142.5h0M289.4 133.5h0M299.7 121.8h0M310.9 143.1h0M296.1 130.0h0M305.4 129.0h0M303.5 130.0h0M309.1 129.5h0M312.8 127.3h0M300.0 144.8h0M303.0 121.8h0M294.5 125.2h0M291.4 144.1h0M293.6 122.4h0M297.7 129.7h0M292.6 127.0h0M291.6 138.8h0M316.1 113.8h0M308.0 122.6h0M309.8 117.3h0M305.8 145.3h0M302.5 138.4h0M315.1 124.1h0M302.1 139.5h0M308.4 110.6h0M315.1 133.6h0M298.6 138.8h0M298.3 130.6h0M306.3 116.1h0M301.0 144.8h0M308.2 128.0h0M306.5 134.0h0M305.4 124.9h0M300.9 121.8h0M305.2 111.1h0M297.2 122.5h0M306.7 149.0h0M300.2 133.0h0M313.8 131.5h0M301.3 149.8h0M305.8 139.4h0M316.8 127.9h0M315.7 133.6h0M292.8 137.9h0M301.1 115.6h0M300.0 130.0h0M312.2 122.9h0M305.7 149.0h0M302.3 120.3h0M305.4 129.3h0M296.3 133.2h0M311.7 139.8h0M301.9 146.3h0M308.6 133.3h0M312.3 108.6h0M295.2 146.6h0M304.4 130.0h0M308.3 119.9h0M315.6 136.8h0M291.1 138.1h0M293.5 134.4h0M305.4 135.2h0M298.4 138.1h0M303.1 131.1h0M308.1 121.4h0M306.2 109.9h0M300.2 133.6h0M303.5 131.2h0M305.3 120.2h0M301.8 146.7h0M298.9 121.5h0M299.9 144.9h0M314.0 109.8h0M315.3 119.5h0M297.8 134.0h0M310.3 131.4h0M307.8 109.7h0M308.3 135.8h0M299.1 118.8h0M298.6 139.0h0M317.0 128.6h0M301.6 134.1h0M299.2 143.7h0M300.2 141.9h0M313.4 115.9h0M308.0 146.0h0M307.6 140.8h0M309.9 130.2h0M299.7 145.1h0M308.1 123.9h0M304.6 129.4h0M306.5 133.8h0M293.4 145.2h0M313.7 132.2h0M299.4 133.1h0M290.4 126.8h0" stroke="#00ba38" stroke-width="1.0" stroke-linecap="round" fill="none"/>
<path d="M308.5 118.0h0M300.9 126.1h0M311.4 130.6h0M301.7 117.7h0M304.1 133.2h0M291.0 135.9h0M313.7 120.0h0M299.2 125.5h0M292.0 139.1h0M296.7 120.9h0M315.0 136.2h0M313.6 119.9h0M312.7 124.5h0M301.6 132.5h0M302.1 143.2h0M313.3 133.0h0M306.5 149.1h0M304.2 135.9h0M297.8 132.3h0M310.9 139.3h0M307.4 116.4h0M311.1 121.9h0M297.2 137.8h0M305.0 131.4h0M295.4 144.7h0M301.4 117.0h0M306.7 146.4h0M315.1 125.4h0M316.6 129.9h0M293.2 133.8h0M295.2 120.8h0M308.5 127.6h0M299.6 142.2h0M309.9 120.2h0M294.5 142.4h0M303.5 117.3h0M306.8 146.9h0M315.1 122.5h0M295.4 131.6h0M289.6 137.1h0M311.4 105.7h0M307.6 138.0h0M301.6 123.4h0M291.9 127.2h0M305.9 113.8h0M294.8 132.5h0M305.2 150.9h0M303.9 129.0h0M310.0 121.3h0M306.9 121.7h0M312.1 124.9h0M298.8 121.7h0M290.0 132.5h0M315.7 120.8h0M291.8 141.3h0M313.9 136.2h0M302.4 123.1h0M303.6 113.0h0M304.0 122.0h0M297.9 147.4h0M294.3 140.4h0M306.5 112.0h0M305.1 111.4h0M313.0 115.5h0M303.1 118.3h0M305.3 149.0h0M294.0 121.8h0M303.8 138.2h0M297.2 125.8h0M304.3 133.4h0" stroke="#fff" stroke-width="0.8" stroke-linecap="round" fill="none" opacity="0.7"/>
<circle cx="310.5" cy="102" r="0.8" fill="#f8766d"/>
<circle cx="262.5" cy="68" r="0.7" fill="#00ba38"/>
<circle cx="264" cy="67.5" r="0.7" fill="#00ba38"/>
<circle cx="263" cy="69" r="0.7" fill="#00ba38"/>
<circle cx="272" cy="78.5" r="0.7" fill="#00ba38"/>
<circle cx="281" cy="81.5" r="0.7" fill="#00ba38"/>
<circle cx="268" cy="72" r="0.7" fill="#00ba38"/>
<circle cx="272" cy="52" r="0.5" fill="#12bcc8"/>
<circle cx="258" cy="75" r="0.5" fill="#12bcc8"/>
<circle cx="250" cy="72" r="0.5" fill="#12bcc8"/>
<circle cx="253" cy="91" r="0.5" fill="#12bcc8"/>
<circle cx="277.5" cy="70" r="0.5" fill="#12bcc8"/>
<circle cx="296.1" cy="32.9" r="1.6" fill="#f8766d"/>
<text x="300.6" y="35.0" font-size="5.9" fill="#2a2a2a" textLength="30.2" lengthAdjust="spacingAndGlyphs" stroke="#2a2a2a" stroke-width="0.08">Cortex (CTX)</text>
<circle cx="296.1" cy="40.0" r="1.6" fill="#bf9d10"/>
<text x="300.6" y="42.1" font-size="5.9" fill="#2a2a2a" textLength="46.5" lengthAdjust="spacingAndGlyphs" stroke="#2a2a2a" stroke-width="0.08">Hypothalamus (HY)</text>
<circle cx="296.1" cy="47.1" r="1.6" fill="#00ba38"/>
<text x="300.6" y="49.2" font-size="5.9" fill="#2a2a2a" textLength="34.4" lengthAdjust="spacingAndGlyphs" stroke="#2a2a2a" stroke-width="0.08">Thalamus (TH)</text>
<circle cx="296.1" cy="54.2" r="1.6" fill="#12bcc8"/>
<text x="300.6" y="56.3" font-size="5.9" fill="#2a2a2a" textLength="44.9" lengthAdjust="spacingAndGlyphs" stroke="#2a2a2a" stroke-width="0.08">Hippocampus (HP)</text>
<circle cx="296.1" cy="61.3" r="1.6" fill="#3f96f8"/>
<text x="300.6" y="63.4" font-size="5.9" fill="#2a2a2a" textLength="34.5" lengthAdjust="spacingAndGlyphs" stroke="#2a2a2a" stroke-width="0.08">Striatum (STR)</text>
<circle cx="296.1" cy="68.4" r="1.6" fill="#f660e6"/>
<text x="300.6" y="70.5" font-size="5.9" fill="#2a2a2a" textLength="56.2" lengthAdjust="spacingAndGlyphs" stroke="#2a2a2a" stroke-width="0.08">Ventricular system (VS)</text>
</g>
<g id="pc">
<rect x="385.4" y="30.5" width="49.1" height="2.3" fill="#f8645c"/>
<rect x="434.5" y="30.5" width="33.3" height="2.3" fill="#c19a14"/>
<rect x="467.8" y="30.5" width="23.4" height="2.3" fill="#0dba40"/>
<rect x="491.2" y="30.5" width="11.4" height="2.3" fill="#1cbfd0"/>
<rect x="502.6" y="30.5" width="10.1" height="2.3" fill="#2f9cf5"/>
<rect x="512.7" y="30.5" width="2.5" height="2.3" fill="#f95de4"/>
<text x="411.3" y="28.2" font-size="7.7" fill="#222" text-anchor="middle" textLength="13.0" lengthAdjust="spacingAndGlyphs" stroke="#222" stroke-width="0.14">CTX</text>
<text x="450.3" y="28.2" font-size="7.7" fill="#222" text-anchor="middle" textLength="9.2" lengthAdjust="spacingAndGlyphs" stroke="#222" stroke-width="0.14">HY</text>
<text x="479.6" y="28.2" font-size="7.7" fill="#222" text-anchor="middle" textLength="9.0" lengthAdjust="spacingAndGlyphs" stroke="#222" stroke-width="0.14">TH</text>
<text x="497.0" y="28.2" font-size="7.7" fill="#222" text-anchor="middle" textLength="9.5" lengthAdjust="spacingAndGlyphs" stroke="#222" stroke-width="0.14">HP</text>
<text x="509.3" y="28.2" font-size="7.7" fill="#222" text-anchor="middle" textLength="12.0" lengthAdjust="spacingAndGlyphs" stroke="#222" stroke-width="0.14">STR</text>
<text x="518.0" y="34.3" font-size="7.8" fill="#222" textLength="8.8" lengthAdjust="spacingAndGlyphs" stroke="#222" stroke-width="0.14">VS</text>
<rect x="385.4" y="36.4" width="130.0" height="136.1" fill="#c4a2fa"/>
<g stroke-width="7.62" fill="none">
<path d="M385.4 40.18h1.05M462.4 40.18h1.05M477.4 40.18h1.05M479.4 40.18h1.05M402.4 55.30h1.05M479.4 55.30h1.05M414.4 93.10h1.05M457.4 93.10h1.05M390.4 108.22h1.05M405.4 108.22h1.05M468.4 108.22h1.05M479.4 108.22h1.05M450.4 115.78h1.05M511.4 115.78h1.05M479.4 123.34h1.05M500.4 138.46h1.05M408.4 153.58h1.05M507.4 161.14h1.05" stroke="#e49cc0"/>
<path d="M386.4 40.18h1.05M398.4 40.18h1.05M490.4 40.18h1.05M477.4 70.42h1.05M412.4 85.54h1.05M467.4 85.54h1.05M402.4 108.22h1.05M426.4 108.22h1.05M445.4 108.22h1.05M475.4 108.22h1.05M481.4 108.22h1.05M392.4 123.34h1.05M404.4 123.34h1.05M457.4 123.34h1.05M398.4 138.46h1.05M423.4 138.46h1.05M407.4 153.58h1.05M468.4 153.58h1.05M475.4 153.58h1.05M412.4 161.14h2.05M464.4 168.70h1.05" stroke="#f090a8"/>
<path d="M387.4 40.18h2.05M418.4 55.30h1.05M463.4 62.86h1.05M454.4 70.42h1.05M492.4 93.10h1.05M480.4 108.22h1.05M401.4 115.78h1.05M388.4 123.34h1.05" stroke="#d884c0"/>
<path d="M389.4 40.18h1.05M389.4 55.30h1.05M411.4 55.30h1.05M423.4 55.30h1.05M460.4 70.42h1.05M467.4 70.42h1.05M478.4 70.42h1.05M481.4 70.42h1.05M477.4 85.54h1.05M497.4 85.54h1.05M500.4 93.10h1.05M387.4 108.22h2.05M455.4 108.22h1.05M470.4 108.22h1.05M493.4 108.22h1.05M498.4 108.22h1.05M504.4 108.22h1.05M424.4 115.78h1.05M490.4 115.78h1.05M426.4 123.34h1.05M480.4 123.34h1.05M509.4 123.34h1.05M508.4 138.46h1.05M468.4 161.14h1.05M504.4 161.14h1.05M475.4 168.70h1.05" stroke="#fc9084"/>
<path d="M390.4 40.18h1.05M427.4 123.34h1.05M478.4 168.70h1.05" stroke="#fc846c"/>
<path d="M391.4 40.18h1.05M409.4 40.18h1.05M393.4 55.30h2.05M403.4 55.30h1.05M407.4 55.30h1.05M437.4 62.86h1.05M486.4 62.86h1.05M450.4 70.42h1.05M465.4 70.42h1.05M480.4 85.54h1.05M489.4 85.54h1.05M483.4 93.10h2.05M419.4 108.22h1.05M463.4 108.22h1.05M513.4 108.22h2.05M394.4 115.78h1.05M446.4 115.78h1.05M476.4 115.78h2.05M498.4 123.34h1.05M385.4 138.46h1.05M472.4 161.14h1.05M483.4 161.14h1.05M505.4 161.14h1.05M442.4 168.70h1.05M468.4 168.70h1.05M477.4 168.70h1.05M479.4 168.70h1.05" stroke="#fc786c"/>
<path d="M392.4 40.18h1.05M472.4 70.42h1.05M486.4 70.42h1.05M488.4 70.42h1.05M494.4 93.10h2.05M478.4 115.78h1.05M506.4 115.78h1.05M386.4 138.46h1.05M512.4 161.14h1.05M489.4 168.70h1.05" stroke="#f07884"/>
<path d="M393.4 40.18h1.05M395.4 40.18h1.05M415.4 40.18h1.05M423.4 40.18h1.05M464.4 40.18h1.05M467.4 40.18h1.05M443.4 55.30h1.05M475.4 55.30h1.05M477.4 55.30h1.05M389.4 62.86h1.05M493.4 62.86h1.05M424.4 70.42h1.05M452.4 70.42h1.05M417.4 108.22h1.05M452.4 108.22h1.05M439.4 115.78h1.05M391.4 123.34h1.05M466.4 123.34h1.05M502.4 123.34h1.05M425.4 138.46h1.05M498.4 138.46h1.05" stroke="#cc90e4"/>
<path d="M394.4 40.18h1.05M444.4 40.18h1.05M449.4 40.18h1.05M473.4 40.18h1.05M507.4 40.18h1.05M509.4 40.18h5.05M455.4 47.74h1.05M457.4 47.74h1.05M437.4 55.30h1.05M446.4 55.30h1.05M450.4 55.30h2.05M454.4 55.30h1.05M456.4 55.30h2.05M468.4 55.30h1.05M471.4 55.30h1.05M486.4 55.30h1.05M390.4 62.86h2.05M403.4 62.86h1.05M405.4 62.86h3.05M419.4 62.86h1.05M429.4 62.86h1.05M434.4 62.86h1.05M508.4 62.86h2.05M388.4 70.42h1.05M390.4 70.42h2.05M394.4 70.42h1.05M410.4 70.42h1.05M414.4 70.42h1.05M419.4 70.42h1.05M432.4 70.42h1.05M495.4 70.42h1.05M508.4 70.42h1.05M442.4 77.98h1.05M512.4 77.98h1.05M511.4 85.54h2.05M514.4 85.54h1.05M507.4 93.10h1.05M511.4 93.10h1.05M513.4 93.10h1.05M449.4 100.66h1.05M454.4 100.66h1.05M400.4 108.22h1.05M416.4 108.22h1.05M432.4 108.22h1.05M447.4 108.22h2.05M409.4 115.78h1.05M455.4 115.78h1.05M389.4 123.34h1.05M398.4 123.34h1.05M410.4 123.34h2.05M419.4 123.34h1.05M424.4 123.34h1.05M434.4 123.34h2.05M448.4 123.34h1.05M483.4 123.34h1.05M477.4 130.90h1.05M388.4 138.46h1.05M391.4 138.46h1.05M437.4 138.46h1.05M447.4 138.46h2.05M460.4 138.46h1.05M485.4 138.46h1.05M494.4 138.46h1.05" stroke="#c090fc"/>
<path d="M396.4 40.18h1.05M385.4 55.30h1.05M421.4 55.30h1.05M401.4 62.86h1.05M501.4 93.10h1.05M404.4 153.58h1.05M406.4 153.58h1.05M492.4 153.58h1.05M499.4 153.58h1.05M511.4 153.58h1.05M448.4 161.14h1.05M429.4 168.70h1.05" stroke="#fc9c9c"/>
<path d="M397.4 40.18h1.05M408.4 47.74h1.05M420.4 55.30h1.05M495.4 55.30h1.05M404.4 93.10h1.05M502.4 108.22h1.05M467.4 153.58h1.05M459.4 161.14h1.05M476.4 161.14h2.05M485.4 161.14h1.05M428.4 168.70h1.05M483.4 168.70h1.05" stroke="#e4a8c0"/>
<path d="M399.4 40.18h1.05M406.4 40.18h2.05M472.4 62.86h1.05M491.4 62.86h1.05M436.4 70.42h1.05M501.4 70.42h1.05M511.4 70.42h2.05M493.4 85.54h1.05M497.4 93.10h1.05M407.4 108.22h1.05M511.4 108.22h1.05M490.4 123.34h1.05M421.4 138.46h1.05" stroke="#cc90d8"/>
<path d="M400.4 40.18h1.05M396.4 47.74h1.05M503.4 47.74h1.05M494.4 55.30h1.05M469.4 70.42h1.05M397.4 93.10h1.05M490.4 100.66h1.05M501.4 108.22h1.05" stroke="#f0a8a8"/>
<path d="M401.4 40.18h1.05M427.4 55.30h1.05M468.4 70.42h1.05M480.4 100.66h2.05M491.4 115.78h1.05M504.4 130.90h1.05M507.4 138.46h1.05" stroke="#fca890"/>
<path d="M402.4 40.18h1.05M448.4 40.18h1.05M505.4 55.30h1.05M415.4 70.42h1.05M476.4 70.42h1.05M430.4 108.22h1.05M482.4 108.22h1.05M388.4 115.78h1.05M492.4 115.78h1.05M489.4 123.34h1.05M462.4 138.46h1.05" stroke="#d89ccc"/>
<path d="M403.4 40.18h1.05M405.4 40.18h1.05M506.4 47.74h1.05M397.4 55.30h1.05M469.4 108.22h1.05M472.4 108.22h1.05M509.4 108.22h2.05M408.4 115.78h1.05M459.4 115.78h1.05M493.4 115.78h1.05" stroke="#d884b4"/>
<path d="M404.4 40.18h1.05M413.4 40.18h1.05M420.4 40.18h2.05M428.4 40.18h1.05M398.4 55.30h1.05M460.4 62.86h1.05M442.4 70.42h1.05M445.4 70.42h2.05M449.4 70.42h1.05M479.4 70.42h2.05M476.4 85.54h1.05M485.4 85.54h1.05M456.4 93.10h1.05M485.4 93.10h1.05M499.4 93.10h1.05M395.4 108.22h1.05M471.4 108.22h1.05M495.4 108.22h1.05M400.4 115.78h1.05M411.4 115.78h1.05M425.4 115.78h1.05M460.4 115.78h2.05M485.4 115.78h1.05M488.4 115.78h2.05M504.4 115.78h1.05M503.4 130.90h1.05M501.4 138.46h1.05M501.4 153.58h2.05M435.4 161.14h1.05M506.4 161.14h1.05M485.4 168.70h1.05M490.4 168.70h1.05" stroke="#fc8478"/>
<path d="M408.4 40.18h1.05M414.4 40.18h1.05M392.4 55.30h1.05M485.4 62.86h1.05M455.4 70.42h1.05M418.4 108.22h1.05M415.4 115.78h1.05M461.4 123.34h1.05" stroke="#f07878"/>
<path d="M410.4 40.18h1.05M399.4 55.30h2.05M449.4 62.86h1.05M453.4 62.86h1.05M459.4 62.86h1.05M466.4 62.86h1.05M441.4 70.42h1.05M459.4 70.42h1.05M466.4 70.42h1.05M479.4 85.54h1.05M482.4 85.54h1.05M484.4 85.54h1.05M487.4 85.54h1.05M471.4 93.10h1.05M479.4 93.10h1.05M486.4 93.10h1.05M494.4 115.78h2.05M498.4 115.78h1.05M513.4 115.78h1.05M486.4 161.14h1.05" stroke="#fc6054"/>
<path d="M411.4 40.18h1.05M450.4 62.86h1.05M452.4 62.86h1.05M454.4 62.86h1.05M456.4 62.86h1.05M465.4 62.86h1.05M481.4 85.54h1.05M490.4 93.10h1.05M493.4 123.34h1.05M485.4 153.58h1.05" stroke="#fc5448"/>
<path d="M412.4 40.18h1.05M493.4 40.18h1.05M410.4 55.30h1.05M436.4 62.86h1.05M461.4 62.86h1.05M474.4 85.54h2.05M486.4 85.54h1.05M488.4 85.54h1.05M472.4 93.10h1.05M482.4 93.10h1.05M481.4 115.78h1.05M512.4 115.78h1.05M497.4 123.34h1.05M489.4 153.58h1.05M476.4 168.70h1.05M486.4 168.70h1.05" stroke="#fc6c60"/>
<path d="M416.4 40.18h2.05M429.4 40.18h1.05M487.4 40.18h1.05M489.4 40.18h1.05M401.4 55.30h1.05M429.4 55.30h1.05M478.4 55.30h1.05M488.4 55.30h1.05M416.4 70.42h1.05M483.4 70.42h1.05M491.4 85.54h1.05M396.4 108.22h1.05M401.4 108.22h1.05M444.4 108.22h1.05M507.4 108.22h1.05M393.4 115.78h1.05M422.4 115.78h1.05M465.4 115.78h1.05M394.4 123.34h1.05M417.4 123.34h1.05M428.4 123.34h1.05M470.4 123.34h1.05M476.4 123.34h2.05M512.4 130.90h1.05M451.4 138.46h1.05M490.4 161.14h1.05" stroke="#e490c0"/>
<path d="M418.4 40.18h1.05M430.4 40.18h1.05M434.4 40.18h1.05M446.4 40.18h1.05M453.4 40.18h1.05M475.4 40.18h1.05M480.4 40.18h1.05M501.4 40.18h1.05M399.4 47.74h1.05M386.4 55.30h1.05M503.4 55.30h1.05M402.4 62.86h1.05M427.4 62.86h1.05M443.4 62.86h1.05M478.4 62.86h1.05M500.4 70.42h1.05M502.4 93.10h1.05M391.4 108.22h1.05M409.4 108.22h1.05M431.4 108.22h1.05M439.4 108.22h1.05M473.4 108.22h1.05M485.4 108.22h1.05M437.4 115.78h1.05M467.4 115.78h1.05M393.4 123.34h1.05M403.4 123.34h1.05M405.4 123.34h1.05M468.4 123.34h1.05M472.4 123.34h1.05M399.4 138.46h1.05M476.4 138.46h1.05M491.4 138.46h1.05" stroke="#cc9cf0"/>
<path d="M419.4 40.18h1.05M496.4 55.30h1.05M503.4 62.86h1.05M386.4 115.78h1.05M413.4 115.78h1.05M450.4 123.34h1.05M485.4 123.34h1.05M471.4 153.58h1.05" stroke="#f09c9c"/>
<path d="M422.4 40.18h1.05M403.4 70.42h1.05M463.4 70.42h1.05" stroke="#fc6c78"/>
<path d="M424.4 40.18h1.05M463.4 40.18h1.05M494.4 40.18h1.05M425.4 55.30h1.05M433.4 55.30h1.05M444.4 55.30h1.05M437.4 108.22h1.05M453.4 108.22h1.05M467.4 108.22h1.05M476.4 108.22h1.05M489.4 108.22h1.05M410.4 115.78h1.05M412.4 115.78h1.05M419.4 115.78h1.05M429.4 115.78h1.05M475.4 115.78h1.05M509.4 115.78h1.05M425.4 123.34h1.05M407.4 138.46h1.05M427.4 138.46h1.05M496.4 138.46h1.05M478.4 153.58h1.05M482.4 153.58h1.05M491.4 161.14h1.05M432.4 168.70h1.05" stroke="#e490b4"/>
<path d="M425.4 40.18h1.05M443.4 70.42h1.05M473.4 85.54h1.05M478.4 85.54h1.05M457.4 108.22h1.05M494.4 123.34h1.05M499.4 123.34h1.05M476.4 153.58h1.05M487.4 161.14h1.05" stroke="#fc6048"/>
<path d="M426.4 40.18h1.05M433.4 40.18h1.05M490.4 62.86h1.05M502.4 62.86h1.05M447.4 70.42h1.05M494.4 85.54h1.05M505.4 108.22h1.05M432.4 115.78h1.05M482.4 115.78h1.05M511.4 123.34h1.05M480.4 153.58h1.05" stroke="#f08484"/>
<path d="M427.4 40.18h1.05M445.4 115.78h1.05M455.4 161.14h1.05" stroke="#e49cb4"/>
<path d="M431.4 40.18h1.05M501.4 85.54h1.05M406.4 93.10h1.05M444.4 153.58h1.05M452.4 153.58h1.05M503.4 153.58h1.05M502.4 168.70h1.05" stroke="#f0a8b4"/>
<path d="M432.4 40.18h1.05M476.4 55.30h1.05M492.4 62.86h1.05M425.4 70.42h1.05M465.4 108.22h1.05M477.4 108.22h1.05M472.4 115.78h1.05M480.4 115.78h1.05M507.4 123.34h1.05M497.4 138.46h1.05M481.4 161.14h1.05" stroke="#f0849c"/>
<path d="M435.4 40.18h1.05M438.4 40.18h1.05M440.4 40.18h1.05M443.4 40.18h1.05M450.4 40.18h1.05M454.4 40.18h1.05M456.4 40.18h3.05M460.4 40.18h1.05M465.4 40.18h2.05M470.4 40.18h3.05M481.4 40.18h5.05M500.4 40.18h1.05M504.4 40.18h1.05M514.4 40.18h1.05M440.4 47.74h1.05M447.4 47.74h1.05M456.4 47.74h1.05M473.4 47.74h2.05M480.4 47.74h1.05M484.4 47.74h1.05M489.4 47.74h3.05M498.4 47.74h1.05M438.4 55.30h1.05M441.4 55.30h2.05M449.4 55.30h1.05M455.4 55.30h1.05M458.4 55.30h10.05M470.4 55.30h1.05M480.4 55.30h1.05M507.4 55.30h1.05M512.4 55.30h3.05M385.4 62.86h3.05M393.4 62.86h4.05M408.4 62.86h1.05M410.4 62.86h2.05M414.4 62.86h2.05M418.4 62.86h1.05M421.4 62.86h3.05M425.4 62.86h1.05M428.4 62.86h1.05M430.4 62.86h3.05M471.4 62.86h1.05M479.4 62.86h1.05M498.4 62.86h3.05M511.4 62.86h1.05M514.4 62.86h1.05M387.4 70.42h1.05M389.4 70.42h1.05M392.4 70.42h2.05M395.4 70.42h5.05M407.4 70.42h3.05M411.4 70.42h1.05M413.4 70.42h1.05M417.4 70.42h1.05M420.4 70.42h1.05M427.4 70.42h5.05M433.4 70.42h2.05M437.4 70.42h3.05M498.4 70.42h2.05M514.4 70.42h1.05M390.4 77.98h4.05M424.4 77.98h3.05M432.4 77.98h1.05M441.4 77.98h1.05M473.4 77.98h1.05M493.4 77.98h1.05M505.4 77.98h1.05M513.4 77.98h1.05M503.4 85.54h2.05M506.4 85.54h2.05M503.4 93.10h4.05M510.4 93.10h1.05M514.4 93.10h1.05M406.4 100.66h1.05M414.4 100.66h1.05M441.4 100.66h1.05M450.4 100.66h1.05M452.4 100.66h1.05M464.4 100.66h1.05M497.4 100.66h1.05M506.4 100.66h1.05M512.4 100.66h2.05M397.4 108.22h1.05M404.4 108.22h1.05M428.4 108.22h2.05M433.4 108.22h2.05M440.4 108.22h1.05M449.4 108.22h1.05M451.4 108.22h1.05M460.4 108.22h1.05M486.4 108.22h3.05M390.4 115.78h3.05M396.4 115.78h2.05M438.4 115.78h1.05M441.4 115.78h1.05M456.4 115.78h1.05M390.4 123.34h1.05M401.4 123.34h2.05M406.4 123.34h1.05M412.4 123.34h4.05M420.4 123.34h2.05M429.4 123.34h1.05M436.4 123.34h3.05M443.4 123.34h1.05M452.4 123.34h2.05M465.4 123.34h1.05M471.4 123.34h1.05M474.4 123.34h2.05M478.4 123.34h1.05M482.4 123.34h1.05M487.4 123.34h1.05M503.4 123.34h1.05M385.4 130.90h1.05M388.4 130.90h2.05M400.4 130.90h1.05M416.4 130.90h1.05M419.4 130.90h1.05M423.4 130.90h1.05M453.4 130.90h1.05M457.4 130.90h1.05M513.4 130.90h2.05M400.4 138.46h1.05M403.4 138.46h2.05M408.4 138.46h1.05M411.4 138.46h1.05M414.4 138.46h1.05M417.4 138.46h1.05M432.4 138.46h2.05M436.4 138.46h1.05M439.4 138.46h1.05M444.4 138.46h3.05M449.4 138.46h1.05M452.4 138.46h4.05M458.4 138.46h2.05M463.4 138.46h1.05M466.4 138.46h7.05M478.4 138.46h2.05M481.4 138.46h4.05M486.4 138.46h3.05M490.4 138.46h1.05M437.4 146.02h2.05M448.4 146.02h1.05M483.4 146.02h1.05M499.4 146.02h2.05" stroke="#c09cfc"/>
<path d="M436.4 40.18h1.05M501.4 62.86h1.05M476.4 93.10h1.05M407.4 123.34h1.05M462.4 123.34h1.05" stroke="#c084e4"/>
<path d="M437.4 40.18h1.05" stroke="#cc78c0"/>
<path d="M439.4 40.18h1.05M476.4 40.18h1.05M495.4 40.18h1.05M416.4 47.74h1.05M462.4 47.74h1.05M497.4 47.74h1.05M508.4 55.30h3.05M409.4 62.86h1.05M412.4 62.86h2.05M424.4 62.86h1.05M512.4 62.86h2.05M400.4 70.42h2.05M412.4 70.42h1.05M474.4 70.42h1.05M394.4 77.98h1.05M423.4 77.98h1.05M443.4 77.98h1.05M448.4 77.98h2.05M497.4 77.98h1.05M509.4 77.98h1.05M514.4 77.98h1.05M385.4 100.66h1.05M437.4 100.66h1.05M455.4 100.66h1.05M499.4 100.66h1.05M441.4 108.22h1.05M420.4 115.78h1.05M442.4 115.78h1.05M440.4 123.34h1.05M488.4 123.34h1.05M466.4 130.90h1.05M402.4 138.46h1.05M405.4 138.46h1.05M416.4 138.46h1.05M440.4 138.46h4.05M465.4 138.46h1.05M480.4 138.46h1.05M449.4 146.02h1.05M463.4 146.02h1.05M409.4 153.58h2.05M496.4 153.58h1.05M431.4 168.70h1.05" stroke="#cca8fc"/>
<path d="M441.4 40.18h2.05M451.4 40.18h1.05M455.4 40.18h1.05M459.4 40.18h1.05M503.4 40.18h1.05M508.4 40.18h1.05M398.4 47.74h1.05M467.4 47.74h1.05M478.4 47.74h1.05M485.4 47.74h1.05M513.4 47.74h1.05M436.4 55.30h1.05M469.4 55.30h1.05M511.4 55.30h1.05M392.4 62.86h1.05M398.4 62.86h1.05M404.4 62.86h1.05M416.4 62.86h2.05M420.4 62.86h1.05M433.4 62.86h1.05M475.4 62.86h2.05M494.4 62.86h2.05M497.4 62.86h1.05M507.4 62.86h1.05M510.4 62.86h1.05M386.4 70.42h1.05M418.4 70.42h1.05M494.4 70.42h1.05M496.4 70.42h2.05M502.4 70.42h2.05M388.4 77.98h1.05M408.4 77.98h1.05M433.4 77.98h1.05M451.4 77.98h1.05M487.4 77.98h1.05M505.4 85.54h1.05M510.4 85.54h1.05M513.4 85.54h1.05M512.4 93.10h1.05M425.4 100.66h1.05M438.4 100.66h1.05M440.4 100.66h1.05M448.4 100.66h1.05M451.4 100.66h1.05M498.4 100.66h1.05M500.4 100.66h1.05M511.4 100.66h1.05M514.4 100.66h1.05M398.4 108.22h1.05M412.4 108.22h2.05M450.4 108.22h1.05M453.4 115.78h2.05M464.4 123.34h1.05M391.4 130.90h2.05M403.4 130.90h1.05M428.4 130.90h1.05M465.4 130.90h1.05M480.4 130.90h3.05M412.4 138.46h1.05M438.4 138.46h1.05M456.4 138.46h2.05M464.4 138.46h1.05M473.4 138.46h3.05M489.4 138.46h1.05M499.4 138.46h1.05M434.4 146.02h1.05M461.4 146.02h1.05M464.4 146.02h1.05M473.4 146.02h1.05M482.4 146.02h1.05" stroke="#b490fc"/>
<path d="M445.4 40.18h1.05M491.4 40.18h1.05M505.4 40.18h1.05M507.4 47.74h1.05M440.4 55.30h1.05M483.4 55.30h1.05M485.4 55.30h1.05M498.4 55.30h1.05M388.4 62.86h1.05M474.4 62.86h1.05M480.4 62.86h1.05M483.4 62.86h1.05M421.4 70.42h1.05M462.4 70.42h1.05M493.4 70.42h1.05M492.4 85.54h1.05M509.4 93.10h1.05M442.4 108.22h1.05M459.4 108.22h1.05M428.4 115.78h1.05M440.4 115.78h1.05M463.4 115.78h1.05M470.4 115.78h1.05M385.4 123.34h1.05M400.4 123.34h1.05M423.4 123.34h1.05M432.4 123.34h1.05M459.4 123.34h1.05M409.4 138.46h1.05M428.4 138.46h1.05" stroke="#d890cc"/>
<path d="M447.4 40.18h1.05M405.4 55.30h1.05M404.4 70.42h1.05M470.4 70.42h1.05M496.4 85.54h1.05M394.4 93.10h1.05M402.4 93.10h1.05M419.4 93.10h1.05M421.4 93.10h1.05M429.4 93.10h1.05M431.4 93.10h1.05M421.4 108.22h1.05M389.4 115.78h1.05M431.4 138.46h1.05M435.4 153.58h1.05M443.4 153.58h1.05M494.4 153.58h1.05M506.4 153.58h1.05M400.4 161.14h1.05M403.4 161.14h1.05M465.4 161.14h1.05M502.4 161.14h1.05M493.4 168.70h1.05M504.4 168.70h1.05" stroke="#e4a8cc"/>
<path d="M452.4 40.18h1.05M481.4 55.30h1.05M500.4 55.30h1.05M423.4 70.42h1.05M434.4 115.78h1.05M387.4 123.34h1.05M396.4 123.34h1.05M396.4 138.46h1.05" stroke="#cc84cc"/>
<path d="M461.4 40.18h1.05M488.4 40.18h1.05M502.4 40.18h1.05M434.4 55.30h1.05M448.4 55.30h1.05M504.4 55.30h1.05M477.4 62.86h1.05M488.4 62.86h1.05M406.4 70.42h1.05M403.4 108.22h1.05M435.4 108.22h1.05M483.4 108.22h1.05M405.4 115.78h1.05M436.4 115.78h1.05M443.4 115.78h1.05M510.4 115.78h1.05M431.4 123.34h1.05M447.4 123.34h1.05M455.4 123.34h1.05M458.4 123.34h1.05M393.4 138.46h1.05M418.4 138.46h1.05M422.4 138.46h1.05M477.4 138.46h1.05" stroke="#d89cd8"/>
<path d="M468.4 40.18h1.05M427.4 47.74h1.05M487.4 62.86h1.05M389.4 108.22h1.05" stroke="#f09090"/>
<path d="M469.4 40.18h1.05M496.4 40.18h2.05M508.4 47.74h1.05M406.4 85.54h1.05M413.4 93.10h1.05M436.4 93.10h1.05M443.4 93.10h1.05M465.4 93.10h1.05M481.4 123.34h1.05M504.4 123.34h1.05M429.4 153.58h2.05M439.4 153.58h1.05M453.4 153.58h1.05M470.4 153.58h1.05M434.4 168.70h1.05M453.4 168.70h1.05M495.4 168.70h1.05" stroke="#e4b4d8"/>
<path d="M474.4 40.18h1.05M474.4 115.78h1.05" stroke="#cc9cd8"/>
<path d="M478.4 40.18h1.05M469.4 123.34h1.05" stroke="#fc8490"/>
<path d="M486.4 40.18h1.05M506.4 40.18h1.05M397.4 47.74h1.05M484.4 55.30h1.05M507.4 70.42h1.05M466.4 108.22h1.05M473.4 115.78h1.05M430.4 123.34h1.05M451.4 123.34h1.05M456.4 123.34h1.05M424.4 138.46h1.05M495.4 138.46h1.05" stroke="#cc90f0"/>
<path d="M492.4 40.18h1.05M487.4 55.30h1.05M499.4 55.30h1.05M484.4 70.42h1.05M495.4 85.54h1.05M410.4 108.22h1.05M395.4 115.78h1.05M460.4 123.34h1.05M395.4 138.46h1.05" stroke="#e484b4"/>
<path d="M498.4 40.18h1.05M501.4 55.30h1.05M470.4 62.86h1.05M426.4 70.42h1.05M425.4 108.22h1.05M446.4 108.22h1.05M430.4 115.78h1.05M422.4 123.34h1.05M433.4 123.34h1.05M506.4 123.34h1.05M389.4 138.46h1.05M410.4 138.46h1.05M420.4 138.46h1.05M435.4 138.46h1.05" stroke="#cc9ce4"/>
<path d="M499.4 40.18h1.05M508.4 85.54h1.05M409.4 123.34h1.05M467.4 123.34h1.05M434.4 138.46h1.05" stroke="#d884cc"/>
<path d="M385.4 47.74h1.05M422.4 55.30h1.05M426.4 55.30h1.05M430.4 55.30h1.05M432.4 55.30h1.05M405.4 93.10h1.05M408.4 93.10h1.05M491.4 108.22h1.05M499.4 108.22h1.05M509.4 130.90h1.05M502.4 138.46h1.05M488.4 153.58h1.05" stroke="#fc9c90"/>
<path d="M386.4 47.74h1.05M409.4 47.74h2.05M421.4 47.74h1.05M412.4 77.98h2.05M418.4 77.98h1.05M486.4 100.66h1.05M494.4 130.90h1.05M509.4 146.02h1.05" stroke="#fcd8c0"/>
<path d="M387.4 47.74h1.05M489.4 77.98h1.05M477.4 100.66h1.05M509.4 100.66h1.05M500.4 130.90h1.05M514.4 146.02h1.05" stroke="#fce4cc"/>
<path d="M388.4 47.74h1.05M393.4 47.74h1.05M431.4 47.74h1.05M468.4 100.66h1.05M472.4 100.66h2.05M479.4 100.66h1.05M482.4 100.66h3.05M492.4 108.22h1.05M498.4 130.90h2.05M504.4 138.46h1.05M506.4 138.46h1.05M511.4 138.46h2.05M503.4 146.02h1.05M505.4 146.02h2.05" stroke="#fcc0a8"/>
<path d="M389.4 47.74h1.05M391.4 93.10h1.05M386.4 146.02h1.05M447.4 153.58h1.05M448.4 168.70h1.05M501.4 168.70h1.05" stroke="#e4b4cc"/>
<path d="M390.4 47.74h1.05M414.4 77.98h1.05M463.4 77.98h1.05M510.4 100.66h1.05M460.4 130.90h1.05M422.4 146.02h1.05M419.4 161.14h1.05" stroke="#f0ccd8"/>
<path d="M391.4 47.74h1.05M395.4 47.74h1.05M418.4 47.74h1.05M388.4 55.30h1.05M406.4 55.30h1.05M416.4 55.30h1.05M431.4 55.30h1.05M487.4 100.66h1.05M489.4 100.66h1.05M507.4 146.02h1.05" stroke="#fcc0b4"/>
<path d="M392.4 47.74h1.05M411.4 77.98h1.05" stroke="#fcccc0"/>
<path d="M394.4 47.74h1.05M424.4 47.74h1.05M492.4 130.90h1.05" stroke="#fccccc"/>
<path d="M400.4 47.74h1.05M472.4 77.98h1.05M431.4 115.78h1.05M416.4 123.34h1.05M473.4 123.34h1.05M505.4 123.34h1.05" stroke="#d8a8d8"/>
<path d="M401.4 47.74h1.05M465.4 47.74h1.05M512.4 47.74h1.05M387.4 55.30h1.05M504.4 77.98h1.05M493.4 146.02h2.05" stroke="#e4c0f0"/>
<path d="M402.4 47.74h1.05M412.4 47.74h1.05M511.4 47.74h1.05M443.4 100.66h1.05M476.4 100.66h1.05" stroke="#fcf0e4"/>
<path d="M403.4 47.74h2.05M406.4 47.74h1.05M411.4 47.74h1.05M425.4 47.74h1.05M420.4 77.98h1.05M387.4 100.66h1.05M495.4 130.90h2.05M501.4 130.90h1.05M387.4 146.02h1.05M513.4 146.02h1.05" stroke="#fcd8cc"/>
<path d="M405.4 47.74h1.05M415.4 77.98h1.05M453.4 77.98h1.05M457.4 77.98h1.05M419.4 100.66h1.05" stroke="#fce4e4"/>
<path d="M407.4 47.74h1.05" stroke="#f0c0b4"/>
<path d="M413.4 47.74h1.05M428.4 47.74h1.05M414.4 130.90h1.05M446.4 146.02h1.05M396.4 161.14h1.05M435.4 168.70h1.05M459.4 168.70h1.05M481.4 168.70h1.05" stroke="#e4c0d8"/>
<path d="M414.4 47.74h1.05M406.4 115.78h1.05M451.4 161.14h1.05" stroke="#f0b4b4"/>
<path d="M415.4 47.74h1.05M434.4 47.74h1.05M459.4 77.98h1.05M423.4 93.10h1.05M436.4 100.66h1.05M505.4 100.66h1.05M415.4 130.90h1.05M456.4 130.90h1.05M483.4 130.90h1.05M501.4 146.02h1.05M428.4 153.58h1.05M501.4 161.14h1.05" stroke="#e4c0e4"/>
<path d="M417.4 47.74h1.05M458.4 77.98h1.05" stroke="#f0cccc"/>
<path d="M419.4 47.74h1.05M429.4 47.74h1.05M417.4 77.98h1.05M419.4 77.98h1.05M475.4 100.66h1.05M493.4 130.90h1.05" stroke="#fce4d8"/>
<path d="M420.4 47.74h1.05M433.4 100.66h1.05" stroke="#fcf0d8"/>
<path d="M422.4 47.74h1.05M491.4 130.90h1.05M431.4 146.02h1.05M452.4 168.70h1.05M511.4 168.70h1.05" stroke="#f0c0cc"/>
<path d="M423.4 47.74h1.05M464.4 47.74h1.05M416.4 77.98h1.05M495.4 77.98h2.05M422.4 100.66h1.05M450.4 146.02h1.05" stroke="#f0e4e4"/>
<path d="M426.4 47.74h1.05M462.4 108.22h1.05M458.4 161.14h1.05M497.4 168.70h1.05" stroke="#fca89c"/>
<path d="M430.4 47.74h1.05M470.4 77.98h2.05M471.4 100.66h1.05M474.4 100.66h1.05M478.4 100.66h1.05M485.4 100.66h1.05M505.4 130.90h2.05M505.4 138.46h1.05M510.4 146.02h1.05M512.4 146.02h1.05" stroke="#fcccb4"/>
<path d="M432.4 47.74h1.05M510.4 47.74h1.05M488.4 77.98h1.05M504.4 100.66h1.05M497.4 130.90h1.05" stroke="#fcd8d8"/>
<path d="M433.4 47.74h1.05M502.4 146.02h1.05" stroke="#fcc0c0"/>
<path d="M435.4 47.74h1.05M417.4 100.66h1.05" stroke="#9c84fc"/>
<path d="M436.4 47.74h1.05M454.4 47.74h1.05M458.4 47.74h1.05M472.4 47.74h1.05M477.4 47.74h1.05M385.4 77.98h2.05M398.4 77.98h2.05M475.4 77.98h1.05M478.4 77.98h1.05M481.4 77.98h1.05M486.4 77.98h1.05M491.4 77.98h1.05M500.4 77.98h1.05M403.4 100.66h1.05M427.4 100.66h1.05M439.4 100.66h1.05M410.4 130.90h2.05M424.4 130.90h1.05M430.4 130.90h1.05M450.4 130.90h1.05M462.4 130.90h1.05M472.4 146.02h1.05" stroke="#906cfc"/>
<path d="M437.4 47.74h1.05M442.4 47.74h1.05M451.4 47.74h1.05M397.4 77.98h1.05M400.4 77.98h1.05M402.4 77.98h1.05M405.4 77.98h3.05M477.4 77.98h1.05M401.4 100.66h1.05M415.4 100.66h1.05M461.4 100.66h1.05M493.4 100.66h1.05M398.4 130.90h1.05M436.4 130.90h1.05M447.4 130.90h1.05M479.4 130.90h1.05M489.4 130.90h1.05M402.4 146.02h1.05M465.4 146.02h1.05M469.4 146.02h1.05" stroke="#8460fc"/>
<path d="M438.4 47.74h1.05M410.4 100.66h1.05M432.4 100.66h1.05M440.4 130.90h1.05M392.4 146.02h2.05M411.4 146.02h1.05" stroke="#9c78f0"/>
<path d="M439.4 47.74h1.05M446.4 47.74h1.05M470.4 47.74h1.05M492.4 55.30h1.05M399.4 62.86h1.05M513.4 70.42h1.05M389.4 77.98h1.05M434.4 77.98h1.05M440.4 77.98h1.05M474.4 77.98h1.05M508.4 77.98h1.05M395.4 100.66h1.05M404.4 100.66h1.05M409.4 100.66h1.05M411.4 100.66h1.05M446.4 100.66h1.05M453.4 100.66h1.05M456.4 100.66h2.05M465.4 100.66h1.05M503.4 100.66h1.05M402.4 115.78h1.05M463.4 123.34h1.05M386.4 130.90h2.05M409.4 130.90h1.05M417.4 130.90h2.05M422.4 130.90h1.05M458.4 130.90h1.05M461.4 130.90h1.05M464.4 130.90h1.05M471.4 130.90h1.05M474.4 130.90h1.05M413.4 138.46h1.05M459.4 146.02h2.05" stroke="#a884fc"/>
<path d="M441.4 47.74h1.05M459.4 47.74h1.05M482.4 47.74h1.05M484.4 77.98h1.05M408.4 100.66h1.05M434.4 130.90h1.05M448.4 130.90h1.05M390.4 146.02h1.05M418.4 146.02h1.05M443.4 146.02h2.05M457.4 146.02h1.05M474.4 146.02h1.05M485.4 146.02h1.05" stroke="#7854fc"/>
<path d="M443.4 47.74h1.05M467.4 77.98h1.05M413.4 100.66h1.05M445.4 100.66h1.05M467.4 130.90h1.05M439.4 146.02h1.05M470.4 146.02h1.05" stroke="#b490f0"/>
<path d="M444.4 47.74h1.05M416.4 100.66h1.05M413.4 130.90h1.05M423.4 146.02h1.05" stroke="#c09ce4"/>
<path d="M445.4 47.74h1.05M396.4 55.30h1.05M504.4 62.86h1.05M464.4 77.98h1.05M386.4 100.66h1.05M388.4 100.66h1.05M393.4 100.66h1.05M423.4 100.66h1.05M385.4 108.22h1.05M461.4 108.22h1.05M429.4 138.46h1.05M430.4 146.02h1.05M435.4 146.02h1.05M468.4 146.02h1.05" stroke="#cca8f0"/>
<path d="M448.4 47.74h1.05M468.4 47.74h1.05M471.4 47.74h1.05M487.4 47.74h1.05M412.4 100.66h1.05M502.4 100.66h1.05M425.4 130.90h2.05M437.4 130.90h1.05M469.4 130.90h1.05M476.4 130.90h1.05" stroke="#9060fc"/>
<path d="M449.4 47.74h1.05M408.4 146.02h1.05M479.4 146.02h1.05" stroke="#5430fc"/>
<path d="M450.4 47.74h1.05M476.4 47.74h1.05M444.4 130.90h1.05M472.4 130.90h1.05M487.4 130.90h2.05M396.4 146.02h1.05M410.4 146.02h1.05M478.4 146.02h1.05" stroke="#603cfc"/>
<path d="M452.4 47.74h1.05M435.4 55.30h1.05M447.4 55.30h1.05M453.4 55.30h1.05M473.4 70.42h1.05M491.4 70.42h2.05M504.4 70.42h1.05M509.4 70.42h1.05M498.4 77.98h1.05M502.4 85.54h1.05M427.4 108.22h1.05M508.4 108.22h1.05M398.4 115.78h1.05M427.4 115.78h1.05M435.4 115.78h1.05M448.4 115.78h2.05M457.4 115.78h1.05M399.4 123.34h1.05M454.4 123.34h1.05M484.4 123.34h1.05M392.4 138.46h1.05M397.4 138.46h1.05M461.4 138.46h1.05" stroke="#c090f0"/>
<path d="M453.4 47.74h1.05M479.4 47.74h1.05M481.4 47.74h1.05M483.4 47.74h1.05M486.4 47.74h1.05M488.4 47.74h1.05M439.4 77.98h1.05M480.4 77.98h1.05M400.4 100.66h1.05M495.4 100.66h1.05M399.4 108.22h1.05M393.4 130.90h1.05M396.4 130.90h1.05M404.4 130.90h1.05M407.4 130.90h1.05M438.4 130.90h2.05M443.4 130.90h1.05M449.4 130.90h1.05M454.4 130.90h1.05M478.4 130.90h1.05M391.4 146.02h1.05M447.4 146.02h1.05M490.4 146.02h1.05" stroke="#9c78fc"/>
<path d="M460.4 47.74h1.05M495.4 47.74h1.05M413.4 55.30h1.05M446.4 77.98h1.05M424.4 100.66h1.05M428.4 146.02h1.05M491.4 146.02h1.05M496.4 146.02h2.05" stroke="#e4cce4"/>
<path d="M461.4 47.74h1.05M410.4 77.98h1.05M429.4 77.98h1.05M465.4 77.98h1.05M494.4 77.98h1.05M402.4 130.90h1.05M452.4 130.90h1.05M415.4 138.46h1.05" stroke="#e4ccf0"/>
<path d="M463.4 47.74h1.05M496.4 47.74h1.05M428.4 77.98h1.05" stroke="#f0d8f0"/>
<path d="M466.4 47.74h1.05M494.4 47.74h1.05M422.4 77.98h1.05M430.4 77.98h1.05M392.4 100.66h1.05M434.4 100.66h1.05M447.4 100.66h1.05M451.4 130.90h1.05M481.4 146.02h1.05M498.4 146.02h1.05" stroke="#d8c0f0"/>
<path d="M469.4 47.74h1.05M401.4 77.98h1.05M403.4 77.98h2.05M397.4 130.90h1.05M442.4 130.90h1.05M475.4 130.90h1.05" stroke="#8454fc"/>
<path d="M475.4 47.74h1.05M387.4 77.98h1.05M468.4 77.98h1.05M492.4 77.98h1.05M405.4 100.66h1.05M426.4 100.66h1.05M494.4 100.66h1.05M392.4 108.22h1.05M394.4 130.90h1.05M399.4 130.90h1.05M408.4 130.90h1.05M431.4 130.90h2.05M486.4 146.02h1.05" stroke="#9c6cfc"/>
<path d="M492.4 47.74h1.05M463.4 100.66h1.05M484.4 130.90h1.05" stroke="#d8b4d8"/>
<path d="M493.4 47.74h1.05M473.4 55.30h1.05M493.4 55.30h1.05M403.4 115.78h1.05" stroke="#b484f0"/>
<path d="M499.4 47.74h1.05M475.4 70.42h1.05M511.4 77.98h1.05M423.4 85.54h1.05M463.4 93.10h1.05M398.4 100.66h1.05M405.4 161.14h1.05M446.4 161.14h1.05" stroke="#ccb4fc"/>
<path d="M500.4 47.74h2.05M504.4 47.74h1.05M509.4 47.74h1.05M427.4 77.98h1.05M431.4 77.98h1.05M460.4 77.98h1.05M506.4 77.98h2.05M510.4 77.98h1.05M407.4 85.54h1.05M412.4 93.10h1.05M442.4 100.66h1.05M459.4 130.90h1.05M436.4 146.02h1.05M462.4 146.02h1.05M431.4 153.58h1.05M436.4 153.58h1.05M440.4 153.58h1.05M478.4 161.14h1.05M440.4 168.70h1.05M451.4 168.70h1.05M460.4 168.70h1.05M498.4 168.70h1.05" stroke="#d8b4f0"/>
<path d="M502.4 47.74h1.05M438.4 108.22h1.05M430.4 138.46h1.05" stroke="#fca8a8"/>
<path d="M505.4 47.74h1.05M498.4 85.54h1.05M409.4 93.10h1.05M424.4 93.10h1.05M496.4 123.34h1.05M454.4 153.58h1.05M457.4 153.58h1.05M399.4 161.14h1.05M479.4 161.14h1.05M473.4 168.70h1.05M506.4 168.70h1.05M509.4 168.70h1.05" stroke="#f09ca8"/>
<path d="M514.4 47.74h1.05M474.4 55.30h1.05M496.4 62.86h1.05M476.4 77.98h1.05M396.4 100.66h1.05M501.4 100.66h1.05M414.4 108.22h1.05M424.4 108.22h1.05M397.4 123.34h1.05M406.4 130.90h1.05M429.4 130.90h1.05M446.4 130.90h1.05M463.4 130.90h1.05" stroke="#b484fc"/>
<path d="M390.4 55.30h1.05" stroke="#fc7860"/>
<path d="M391.4 55.30h1.05M438.4 62.86h1.05M402.4 70.42h1.05M470.4 93.10h1.05M464.4 108.22h1.05M478.4 108.22h1.05M512.4 108.22h1.05M479.4 115.78h1.05M499.4 115.78h1.05M441.4 123.34h2.05M508.4 123.34h1.05M477.4 153.58h1.05" stroke="#e484a8"/>
<path d="M395.4 55.30h1.05M464.4 70.42h1.05M489.4 70.42h1.05M483.4 85.54h1.05M422.4 108.22h1.05M490.4 108.22h1.05M418.4 115.78h1.05M452.4 161.14h1.05M484.4 161.14h1.05M488.4 161.14h1.05M465.4 168.70h1.05" stroke="#fc7878"/>
<path d="M404.4 55.30h1.05M493.4 93.10h1.05M414.4 115.78h1.05M473.4 153.58h2.05" stroke="#e4849c"/>
<path d="M408.4 55.30h2.05M477.4 93.10h1.05M491.4 93.10h1.05M469.4 115.78h1.05" stroke="#d878a8"/>
<path d="M412.4 55.30h1.05M447.4 77.98h1.05M461.4 77.98h1.05M466.4 77.98h1.05M502.4 77.98h1.05M421.4 100.66h1.05M435.4 100.66h1.05M492.4 146.02h1.05" stroke="#f0d8d8"/>
<path d="M414.4 55.30h2.05M488.4 100.66h1.05M500.4 108.22h1.05M451.4 115.78h1.05M502.4 130.90h1.05" stroke="#fcb4a8"/>
<path d="M417.4 55.30h1.05M502.4 55.30h1.05M400.4 62.86h1.05M496.4 93.10h1.05M506.4 108.22h1.05M421.4 115.78h1.05M503.4 115.78h1.05M508.4 115.78h1.05M449.4 123.34h1.05M390.4 138.46h1.05M450.4 138.46h1.05" stroke="#d890c0"/>
<path d="M419.4 55.30h1.05M467.4 62.86h1.05M426.4 115.78h1.05M492.4 138.46h1.05M412.4 153.58h1.05M450.4 153.58h1.05M491.4 153.58h1.05M500.4 153.58h1.05M505.4 153.58h1.05M509.4 153.58h1.05M444.4 161.14h1.05M469.4 168.70h1.05" stroke="#f0909c"/>
<path d="M424.4 55.30h1.05M385.4 146.02h1.05" stroke="#f0c0c0"/>
<path d="M428.4 55.30h1.05M500.4 85.54h1.05M386.4 93.10h1.05M446.4 93.10h1.05M453.4 93.10h1.05M436.4 108.22h1.05M423.4 115.78h1.05M444.4 115.78h1.05M486.4 123.34h1.05M439.4 161.14h1.05M454.4 168.70h1.05" stroke="#e49ccc"/>
<path d="M439.4 55.30h1.05M489.4 55.30h1.05M491.4 55.30h1.05M481.4 62.86h1.05M484.4 62.86h1.05M453.4 70.42h1.05M509.4 85.54h1.05M387.4 115.78h1.05M466.4 115.78h1.05M502.4 115.78h1.05M387.4 138.46h1.05M493.4 138.46h1.05" stroke="#c090e4"/>
<path d="M445.4 55.30h1.05M472.4 55.30h1.05M482.4 55.30h1.05M426.4 62.86h1.05M443.4 108.22h1.05M484.4 108.22h1.05M471.4 115.78h1.05M483.4 115.78h1.05M386.4 123.34h1.05M446.4 123.34h1.05" stroke="#d890d8"/>
<path d="M452.4 55.30h1.05M458.4 115.78h1.05" stroke="#cc90cc"/>
<path d="M490.4 55.30h1.05M447.4 62.86h1.05M471.4 70.42h1.05M469.4 93.10h1.05" stroke="#e47890"/>
<path d="M497.4 55.30h1.05M505.4 70.42h2.05M443.4 85.54h1.05M467.4 93.10h1.05M498.4 93.10h1.05M454.4 108.22h1.05M399.4 115.78h1.05M462.4 115.78h1.05M464.4 115.78h1.05M484.4 115.78h1.05M486.4 115.78h1.05M500.4 115.78h1.05M426.4 138.46h1.05" stroke="#f08490"/>
<path d="M506.4 55.30h1.05M506.4 62.86h1.05M396.4 77.98h1.05M444.4 77.98h2.05M479.4 77.98h1.05M455.4 130.90h1.05M473.4 130.90h1.05" stroke="#c09cf0"/>
<path d="M397.4 62.86h1.05M439.4 123.34h1.05M401.4 138.46h1.05" stroke="#cc9cfc"/>
<path d="M435.4 62.86h1.05M462.4 62.86h1.05M440.4 70.42h1.05M487.4 115.78h1.05" stroke="#e4789c"/>
<path d="M439.4 62.86h1.05M457.4 62.86h1.05M458.4 70.42h1.05M485.4 70.42h1.05M501.4 123.34h1.05" stroke="#f06060"/>
<path d="M440.4 62.86h1.05M470.4 85.54h1.05M472.4 85.54h1.05M474.4 93.10h1.05M514.4 115.78h1.05" stroke="#fc483c"/>
<path d="M441.4 62.86h1.05M445.4 62.86h2.05M451.4 62.86h1.05M444.4 70.42h1.05M469.4 85.54h1.05M468.4 93.10h1.05M492.4 123.34h1.05M513.4 123.34h2.05M490.4 153.58h1.05" stroke="#fc543c"/>
<path d="M442.4 62.86h1.05M469.4 62.86h1.05M407.4 93.10h1.05M420.4 108.22h1.05M510.4 130.90h1.05M415.4 153.58h1.05M453.4 161.14h1.05M473.4 161.14h1.05M482.4 161.14h1.05M433.4 168.70h1.05" stroke="#fc8484"/>
<path d="M444.4 62.86h1.05M458.4 108.22h1.05M512.4 168.70h1.05" stroke="#e46c90"/>
<path d="M448.4 62.86h1.05M451.4 70.42h1.05M469.4 161.14h1.05M470.4 168.70h1.05" stroke="#f06c78"/>
<path d="M455.4 62.86h1.05" stroke="#fc3024"/>
<path d="M458.4 62.86h1.05M394.4 108.22h1.05M512.4 123.34h1.05" stroke="#e46c84"/>
<path d="M464.4 62.86h1.05M488.4 168.70h1.05" stroke="#f07890"/>
<path d="M468.4 62.86h1.05M448.4 70.42h1.05M482.4 70.42h1.05M510.4 70.42h1.05M408.4 108.22h1.05M404.4 115.78h1.05M505.4 115.78h1.05" stroke="#e490a8"/>
<path d="M473.4 62.86h1.05M422.4 70.42h1.05M487.4 70.42h1.05M499.4 85.54h1.05" stroke="#cc84d8"/>
<path d="M482.4 62.86h1.05M508.4 93.10h1.05M418.4 123.34h1.05" stroke="#c084f0"/>
<path d="M489.4 62.86h1.05" stroke="#fc7884"/>
<path d="M505.4 62.86h1.05M436.4 77.98h1.05M503.4 77.98h1.05M411.4 85.54h1.05M393.4 93.10h1.05M398.4 93.10h1.05M403.4 93.10h1.05M422.4 93.10h1.05M425.4 93.10h1.05M432.4 93.10h1.05M420.4 100.66h1.05M491.4 100.66h1.05M411.4 153.58h1.05M404.4 161.14h1.05M445.4 161.14h1.05M505.4 168.70h1.05" stroke="#d8b4e4"/>
<path d="M385.4 70.42h1.05" stroke="#c084cc"/>
<path d="M405.4 70.42h1.05M435.4 77.98h1.05M437.4 77.98h1.05M454.4 93.10h1.05M394.4 138.46h1.05M448.4 153.58h2.05M472.4 153.58h1.05M483.4 153.58h1.05M495.4 153.58h1.05M497.4 153.58h1.05M489.4 161.14h1.05M455.4 168.70h1.05M466.4 168.70h1.05M471.4 168.70h1.05" stroke="#d8a8e4"/>
<path d="M435.4 70.42h1.05" stroke="#d86cb4"/>
<path d="M456.4 70.42h1.05M475.4 93.10h1.05" stroke="#f05454"/>
<path d="M457.4 70.42h1.05" stroke="#c06cc0"/>
<path d="M461.4 70.42h1.05M490.4 70.42h1.05M454.4 85.54h1.05M455.4 93.10h1.05M386.4 108.22h1.05M474.4 108.22h1.05M468.4 115.78h1.05M387.4 153.58h1.05M484.4 153.58h1.05M498.4 153.58h1.05M441.4 168.70h1.05" stroke="#fc9090"/>
<path d="M395.4 77.98h1.05M452.4 77.98h1.05M418.4 100.66h1.05M401.4 130.90h1.05M495.4 146.02h1.05M508.4 146.02h1.05" stroke="#f0d8e4"/>
<path d="M409.4 77.98h1.05M398.4 85.54h1.05M451.4 85.54h1.05M451.4 93.10h1.05M446.4 153.58h1.05" stroke="#e4ccfc"/>
<path d="M421.4 77.98h1.05M462.4 77.98h1.05" stroke="#f0cce4"/>
<path d="M438.4 77.98h1.05" stroke="#b478d8"/>
<path d="M450.4 77.98h1.05" stroke="#c0a8fc"/>
<path d="M454.4 77.98h1.05M466.4 100.66h1.05M417.4 146.02h1.05M451.4 146.02h1.05" stroke="#b49cf0"/>
<path d="M455.4 77.98h1.05" stroke="#b484d8"/>
<path d="M456.4 77.98h1.05M499.4 77.98h1.05M467.4 146.02h1.05" stroke="#cca8e4"/>
<path d="M469.4 77.98h1.05M394.4 146.02h1.05" stroke="#b490d8"/>
<path d="M482.4 77.98h1.05M460.4 100.66h1.05M486.4 130.90h1.05M455.4 146.02h1.05M477.4 146.02h1.05" stroke="#6c48fc"/>
<path d="M483.4 77.98h1.05M459.4 100.66h1.05M435.4 130.90h1.05" stroke="#6c3cfc"/>
<path d="M485.4 77.98h1.05M399.4 100.66h1.05M415.4 108.22h1.05M405.4 130.90h1.05M412.4 130.90h1.05M445.4 130.90h1.05" stroke="#a878fc"/>
<path d="M490.4 77.98h1.05" stroke="#e4ccd8"/>
<path d="M501.4 77.98h1.05" stroke="#e4c0cc"/>
<path d="M385.4 85.54h2.05M390.4 85.54h2.05M394.4 85.54h3.05M399.4 85.54h1.05M401.4 85.54h1.05M403.4 85.54h1.05M419.4 85.54h2.05M422.4 85.54h1.05M424.4 85.54h1.05M428.4 85.54h2.05M436.4 85.54h5.05M448.4 85.54h2.05M459.4 85.54h1.05M385.4 93.10h1.05M399.4 93.10h2.05M411.4 93.10h1.05M417.4 93.10h1.05M426.4 93.10h1.05M458.4 93.10h2.05M462.4 93.10h1.05M464.4 93.10h1.05M390.4 153.58h1.05M394.4 153.58h1.05M401.4 153.58h1.05M418.4 153.58h4.05M460.4 153.58h2.05M464.4 153.58h2.05M386.4 161.14h2.05M390.4 161.14h1.05M392.4 161.14h2.05M401.4 161.14h2.05M406.4 161.14h1.05M410.4 161.14h1.05M415.4 161.14h1.05M426.4 161.14h3.05M438.4 161.14h1.05M460.4 161.14h2.05M475.4 161.14h1.05M498.4 161.14h1.05M385.4 168.70h1.05M390.4 168.70h2.05M395.4 168.70h1.05M397.4 168.70h3.05M401.4 168.70h2.05M406.4 168.70h4.05M413.4 168.70h1.05M420.4 168.70h1.05M427.4 168.70h1.05M445.4 168.70h3.05M450.4 168.70h1.05M457.4 168.70h1.05M461.4 168.70h2.05M472.4 168.70h1.05" stroke="#d8b4fc"/>
<path d="M387.4 85.54h3.05M392.4 85.54h2.05M397.4 85.54h1.05M400.4 85.54h1.05M402.4 85.54h1.05M404.4 85.54h2.05M408.4 85.54h3.05M414.4 85.54h3.05M418.4 85.54h1.05M421.4 85.54h1.05M425.4 85.54h3.05M430.4 85.54h6.05M441.4 85.54h1.05M445.4 85.54h3.05M450.4 85.54h1.05M452.4 85.54h1.05M456.4 85.54h3.05M460.4 85.54h7.05M390.4 93.10h1.05M395.4 93.10h1.05M401.4 93.10h1.05M416.4 93.10h1.05M420.4 93.10h1.05M427.4 93.10h1.05M430.4 93.10h1.05M433.4 93.10h1.05M437.4 93.10h5.05M444.4 93.10h2.05M450.4 93.10h1.05M460.4 93.10h2.05M397.4 100.66h1.05M385.4 153.58h1.05M389.4 153.58h1.05M393.4 153.58h1.05M395.4 153.58h4.05M400.4 153.58h1.05M417.4 153.58h1.05M424.4 153.58h4.05M432.4 153.58h2.05M438.4 153.58h1.05M441.4 153.58h2.05M459.4 153.58h1.05M462.4 153.58h2.05M466.4 153.58h1.05M507.4 153.58h1.05M385.4 161.14h1.05M391.4 161.14h1.05M394.4 161.14h1.05M397.4 161.14h1.05M407.4 161.14h3.05M416.4 161.14h2.05M420.4 161.14h6.05M429.4 161.14h5.05M437.4 161.14h1.05M441.4 161.14h1.05M462.4 161.14h2.05M466.4 161.14h1.05M493.4 161.14h5.05M499.4 161.14h2.05M511.4 161.14h1.05M386.4 168.70h2.05M389.4 168.70h1.05M392.4 168.70h3.05M396.4 168.70h1.05M400.4 168.70h1.05M403.4 168.70h3.05M410.4 168.70h3.05M414.4 168.70h6.05M421.4 168.70h1.05M423.4 168.70h4.05M436.4 168.70h4.05M444.4 168.70h1.05M456.4 168.70h1.05M458.4 168.70h1.05M463.4 168.70h1.05M492.4 168.70h1.05M499.4 168.70h2.05" stroke="#d8c0fc"/>
<path d="M413.4 85.54h1.05M442.4 85.54h1.05M444.4 85.54h1.05M453.4 85.54h1.05M389.4 93.10h1.05M392.4 93.10h1.05M396.4 93.10h1.05M415.4 93.10h1.05M418.4 93.10h1.05M428.4 93.10h1.05M434.4 93.10h1.05M447.4 93.10h1.05M452.4 93.10h1.05M386.4 153.58h1.05M402.4 153.58h1.05M434.4 153.58h1.05M458.4 153.58h1.05M440.4 161.14h1.05M442.4 161.14h1.05M447.4 161.14h1.05M449.4 161.14h1.05M464.4 161.14h1.05M474.4 161.14h1.05M492.4 161.14h1.05M510.4 161.14h1.05M430.4 168.70h1.05M482.4 168.70h1.05M491.4 168.70h1.05M507.4 168.70h2.05" stroke="#e4b4e4"/>
<path d="M417.4 85.54h1.05M399.4 153.58h1.05M388.4 168.70h1.05M422.4 168.70h1.05" stroke="#e4c0fc"/>
<path d="M455.4 85.54h1.05M435.4 93.10h1.05M417.4 115.78h1.05M419.4 138.46h1.05M423.4 153.58h1.05M456.4 153.58h1.05M469.4 153.58h1.05M504.4 153.58h1.05M510.4 153.58h1.05M398.4 161.14h1.05M411.4 161.14h1.05M414.4 161.14h1.05M434.4 161.14h1.05M456.4 161.14h1.05M443.4 168.70h1.05M480.4 168.70h1.05M484.4 168.70h1.05" stroke="#f09cb4"/>
<path d="M468.4 85.54h1.05M490.4 85.54h1.05M473.4 93.10h1.05M456.4 108.22h1.05M481.4 153.58h1.05M512.4 153.58h1.05" stroke="#fc6c54"/>
<path d="M471.4 85.54h1.05M481.4 93.10h1.05M489.4 93.10h1.05M471.4 161.14h1.05" stroke="#fc4830"/>
<path d="M387.4 93.10h1.05M448.4 93.10h1.05M466.4 93.10h1.05M403.4 153.58h1.05M422.4 153.58h1.05M389.4 161.14h1.05M454.4 161.14h1.05" stroke="#f09cc0"/>
<path d="M388.4 93.10h1.05M449.4 93.10h1.05M388.4 153.58h1.05M391.4 153.58h2.05M413.4 153.58h1.05M416.4 153.58h1.05M455.4 153.58h1.05M487.4 153.58h1.05M508.4 153.58h1.05M388.4 161.14h1.05M436.4 161.14h1.05M443.4 161.14h1.05M503.4 161.14h1.05M509.4 161.14h1.05M449.4 168.70h1.05" stroke="#f0a8c0"/>
<path d="M410.4 93.10h1.05M406.4 138.46h1.05M496.4 168.70h1.05M510.4 168.70h1.05" stroke="#f0b4c0"/>
<path d="M442.4 93.10h1.05M395.4 161.14h1.05" stroke="#e4b4f0"/>
<path d="M478.4 93.10h1.05M494.4 108.22h1.05M496.4 108.22h1.05M509.4 138.46h1.05" stroke="#fc9078"/>
<path d="M480.4 93.10h1.05M487.4 93.10h1.05M500.4 123.34h1.05M470.4 161.14h1.05" stroke="#fc3c30"/>
<path d="M488.4 93.10h1.05M496.4 115.78h2.05" stroke="#fc3c24"/>
<path d="M389.4 100.66h1.05M468.4 130.90h1.05M401.4 146.02h1.05" stroke="#7848fc"/>
<path d="M390.4 100.66h1.05M406.4 146.02h1.05M427.4 146.02h1.05" stroke="#b49ce4"/>
<path d="M391.4 100.66h1.05" stroke="#e4d8e4"/>
<path d="M394.4 100.66h1.05M492.4 100.66h1.05" stroke="#c0a8f0"/>
<path d="M402.4 100.66h1.05M496.4 100.66h1.05M390.4 130.90h1.05M421.4 130.90h1.05M466.4 146.02h1.05" stroke="#a884f0"/>
<path d="M407.4 100.66h1.05M427.4 130.90h1.05" stroke="#9078f0"/>
<path d="M428.4 100.66h1.05" stroke="#d8c0d8"/>
<path d="M429.4 100.66h1.05" stroke="#8460f0"/>
<path d="M430.4 100.66h1.05M475.4 146.02h2.05" stroke="#4818fc"/>
<path d="M431.4 100.66h1.05M404.4 146.02h1.05M441.4 146.02h2.05" stroke="#3c18fc"/>
<path d="M444.4 100.66h1.05M508.4 100.66h1.05M395.4 130.90h1.05" stroke="#d8c0e4"/>
<path d="M458.4 100.66h1.05M441.4 130.90h1.05" stroke="#5424fc"/>
<path d="M462.4 100.66h1.05" stroke="#9c6cf0"/>
<path d="M467.4 100.66h1.05M418.4 161.14h1.05" stroke="#f0c0d8"/>
<path d="M469.4 100.66h2.05M497.4 108.22h1.05M503.4 108.22h1.05M407.4 115.78h1.05M507.4 130.90h2.05M503.4 138.46h1.05M510.4 138.46h1.05M513.4 138.46h2.05M388.4 146.02h1.05M504.4 146.02h1.05M511.4 146.02h1.05M474.4 168.70h1.05" stroke="#fcb49c"/>
<path d="M507.4 100.66h1.05" stroke="#ccb4f0"/>
<path d="M393.4 108.22h1.05M415.4 146.02h1.05" stroke="#8454e4"/>
<path d="M406.4 108.22h1.05" stroke="#fc909c"/>
<path d="M411.4 108.22h1.05M507.4 115.78h1.05M408.4 123.34h1.05" stroke="#d878b4"/>
<path d="M423.4 108.22h1.05" stroke="#cc78b4"/>
<path d="M385.4 115.78h1.05M416.4 115.78h1.05M510.4 123.34h1.05M511.4 130.90h1.05M405.4 153.58h1.05" stroke="#fc9c84"/>
<path d="M433.4 115.78h1.05" stroke="#c084d8"/>
<path d="M447.4 115.78h1.05" stroke="#f0a89c"/>
<path d="M452.4 115.78h1.05" stroke="#d8a8cc"/>
<path d="M501.4 115.78h1.05M491.4 123.34h1.05" stroke="#f06c6c"/>
<path d="M395.4 123.34h1.05M467.4 168.70h1.05" stroke="#f084a8"/>
<path d="M444.4 123.34h1.05" stroke="#e478a8"/>
<path d="M445.4 123.34h1.05" stroke="#f0606c"/>
<path d="M495.4 123.34h1.05M479.4 153.58h1.05" stroke="#fc6c6c"/>
<path d="M420.4 130.90h1.05" stroke="#c0a8e4"/>
<path d="M433.4 130.90h1.05M490.4 130.90h1.05" stroke="#b49cfc"/>
<path d="M470.4 130.90h1.05" stroke="#a890fc"/>
<path d="M485.4 130.90h1.05M429.4 146.02h1.05" stroke="#ccb4e4"/>
<path d="M389.4 146.02h1.05" stroke="#b46ccc"/>
<path d="M395.4 146.02h1.05M445.4 146.02h1.05" stroke="#9c78e4"/>
<path d="M397.4 146.02h1.05" stroke="#a878d8"/>
<path d="M398.4 146.02h1.05M420.4 146.02h1.05" stroke="#c09cd8"/>
<path d="M399.4 146.02h1.05" stroke="#e4b4c0"/>
<path d="M400.4 146.02h1.05" stroke="#6c48f0"/>
<path d="M403.4 146.02h1.05M433.4 146.02h1.05" stroke="#906cf0"/>
<path d="M405.4 146.02h1.05" stroke="#7860f0"/>
<path d="M407.4 146.02h1.05M452.4 146.02h1.05" stroke="#a890f0"/>
<path d="M409.4 146.02h1.05M488.4 146.02h1.05" stroke="#3c0cfc"/>
<path d="M412.4 146.02h1.05M454.4 146.02h1.05M489.4 146.02h1.05" stroke="#4824fc"/>
<path d="M413.4 146.02h1.05" stroke="#9c6ce4"/>
<path d="M414.4 146.02h1.05" stroke="#a878e4"/>
<path d="M416.4 146.02h1.05M453.4 146.02h1.05M471.4 146.02h1.05M484.4 146.02h1.05" stroke="#9c84f0"/>
<path d="M419.4 146.02h1.05M421.4 146.02h1.05M426.4 146.02h1.05" stroke="#cca8d8"/>
<path d="M424.4 146.02h1.05" stroke="#9c6cd8"/>
<path d="M425.4 146.02h1.05" stroke="#cc90c0"/>
<path d="M432.4 146.02h1.05" stroke="#a884e4"/>
<path d="M440.4 146.02h1.05M456.4 146.02h1.05M458.4 146.02h1.05M487.4 146.02h1.05" stroke="#6030fc"/>
<path d="M480.4 146.02h1.05" stroke="#d8cce4"/>
<path d="M414.4 153.58h1.05M437.4 153.58h1.05M451.4 153.58h1.05M457.4 161.14h1.05M508.4 161.14h1.05M494.4 168.70h1.05M503.4 168.70h1.05" stroke="#e4a8d8"/>
<path d="M445.4 153.58h1.05M493.4 153.58h1.05M450.4 161.14h1.05M467.4 161.14h1.05" stroke="#f0b4cc"/>
<path d="M486.4 153.58h1.05" stroke="#f06c84"/>
<path d="M513.4 153.58h2.05M513.4 161.14h2.05M513.4 168.70h2.05" stroke="#fc3018"/>
<path d="M480.4 161.14h1.05" stroke="#f0a8cc"/>
<path d="M487.4 168.70h1.05" stroke="#fc4848"/>
</g>
<text x="383.0" y="42.9" font-size="5.6" fill="#2a2a2a" text-anchor="end" letter-spacing="-0.15" stroke="#2a2a2a" stroke-width="0.12">Gm11543</text>
<text x="383.0" y="50.4" font-size="5.6" fill="#2a2a2a" text-anchor="end" letter-spacing="-0.15" stroke="#2a2a2a" stroke-width="0.12">Ccn3</text>
<text x="383.0" y="58.0" font-size="5.6" fill="#2a2a2a" text-anchor="end" letter-spacing="-0.15" stroke="#2a2a2a" stroke-width="0.12">Satb2</text>
<text x="383.0" y="65.6" font-size="5.6" fill="#2a2a2a" text-anchor="end" letter-spacing="-0.15" stroke="#2a2a2a" stroke-width="0.12">Dk1</text>
<text x="383.0" y="73.1" font-size="5.6" fill="#2a2a2a" text-anchor="end" letter-spacing="-0.15" stroke="#2a2a2a" stroke-width="0.12">Arhgao38</text>
<text x="383.0" y="80.7" font-size="5.6" fill="#2a2a2a" text-anchor="end" letter-spacing="-0.15" stroke="#2a2a2a" stroke-width="0.12">Pmch</text>
<text x="383.0" y="88.2" font-size="5.6" fill="#2a2a2a" text-anchor="end" letter-spacing="-0.15" stroke="#2a2a2a" stroke-width="0.12">Shox2</text>
<text x="383.0" y="95.8" font-size="5.6" fill="#2a2a2a" text-anchor="end" letter-spacing="-0.15" stroke="#2a2a2a" stroke-width="0.12">Abhd12b</text>
<text x="383.0" y="103.4" font-size="5.6" fill="#2a2a2a" text-anchor="end" letter-spacing="-0.15" stroke="#2a2a2a" stroke-width="0.12">Prkcd</text>
<text x="383.0" y="110.9" font-size="5.6" fill="#2a2a2a" text-anchor="end" letter-spacing="-0.15" stroke="#2a2a2a" stroke-width="0.12">Cabp7</text>
<text x="383.0" y="118.5" font-size="5.6" fill="#2a2a2a" text-anchor="end" letter-spacing="-0.15" stroke="#2a2a2a" stroke-width="0.12">Gm2115</text>
<text x="383.0" y="126.0" font-size="5.6" fill="#2a2a2a" text-anchor="end" letter-spacing="-0.15" stroke="#2a2a2a" stroke-width="0.12">Fibcd1</text>
<text x="383.0" y="133.6" font-size="5.6" fill="#2a2a2a" text-anchor="end" letter-spacing="-0.15" stroke="#2a2a2a" stroke-width="0.12">Penk</text>
<text x="383.0" y="141.2" font-size="5.6" fill="#2a2a2a" text-anchor="end" letter-spacing="-0.15" stroke="#2a2a2a" stroke-width="0.12">Rgs9</text>
<text x="383.0" y="148.7" font-size="5.6" fill="#2a2a2a" text-anchor="end" letter-spacing="-0.15" stroke="#2a2a2a" stroke-width="0.12">Ppp1r1b</text>
<text x="383.0" y="156.3" font-size="5.6" fill="#2a2a2a" text-anchor="end" letter-spacing="-0.15" stroke="#2a2a2a" stroke-width="0.12">Gm5741</text>
<text x="383.0" y="163.8" font-size="5.6" fill="#2a2a2a" text-anchor="end" letter-spacing="-0.15" stroke="#2a2a2a" stroke-width="0.12">Pou4f1</text>
<text x="383.0" y="171.4" font-size="5.6" fill="#2a2a2a" text-anchor="end" letter-spacing="-0.15" stroke="#2a2a2a" stroke-width="0.12">Gpr151</text>
<text x="518.2" y="53.8" font-size="6.6" fill="#222" textLength="23.0" lengthAdjust="spacingAndGlyphs" stroke="#222" stroke-width="0.12">Z-scores</text>
<defs><linearGradient id="zg" x1="0" y1="0" x2="0" y2="1">
<stop offset="0" stop-color="#ff2c18"/>
<stop offset="0.25" stop-color="#ff766c"/>
<stop offset="0.55" stop-color="#faeae1"/>
<stop offset="0.8" stop-color="#b088ff"/>
<stop offset="1" stop-color="#431bff"/>
</linearGradient></defs>
<rect x="520.2" y="57" width="6.3" height="31" fill="url(#zg)"/>
<text x="528.6" y="64.1" font-size="6.6" fill="#222" stroke="#222" stroke-width="0.12">2</text>
<text x="528.6" y="73.4" font-size="6.6" fill="#222" stroke="#222" stroke-width="0.12">1</text>
<text x="528.6" y="82.4" font-size="6.6" fill="#222" stroke="#222" stroke-width="0.12">0</text>
<text x="527.6" y="91.4" font-size="6.6" fill="#222" stroke="#222" stroke-width="0.12">-1</text>
</g>
<g id="pd">
<rect x="30.8" y="244.6" width="31" height="175.4" fill="#efefef"/>
<rect x="65.4" y="244.6" width="31" height="175.4" fill="#efefef"/>
<rect x="100.0" y="244.6" width="31" height="175.4" fill="#efefef"/>
<rect x="134.6" y="244.6" width="31" height="175.4" fill="#efefef"/>
<rect x="169.2" y="244.6" width="31" height="175.4" fill="#efefef"/>
<rect x="203.8" y="244.6" width="31" height="156.4" fill="#efefef"/>
<path d="M26.1 236.5V423" stroke="#8c8c8c" stroke-width="0.9" fill="none"/>
<path d="M23.8 250.1H26.1" stroke="#8c8c8c" stroke-width="0.7"/>
<text x="21.6" y="252.9" font-size="7.7" fill="#2a2a2a" text-anchor="end" stroke="#2a2a2a" stroke-width="0.14">3</text>
<path d="M23.8 277.5H26.1" stroke="#8c8c8c" stroke-width="0.7"/>
<text x="21.6" y="280.2" font-size="7.7" fill="#2a2a2a" text-anchor="end" stroke="#2a2a2a" stroke-width="0.14">2</text>
<path d="M23.8 304.8H26.1" stroke="#8c8c8c" stroke-width="0.7"/>
<text x="21.6" y="307.6" font-size="7.7" fill="#2a2a2a" text-anchor="end" stroke="#2a2a2a" stroke-width="0.14">1</text>
<path d="M23.8 332.2H26.1" stroke="#8c8c8c" stroke-width="0.7"/>
<text x="21.6" y="334.9" font-size="7.7" fill="#2a2a2a" text-anchor="end" stroke="#2a2a2a" stroke-width="0.14">0</text>
<path d="M23.8 359.6H26.1" stroke="#8c8c8c" stroke-width="0.7"/>
<text x="21.6" y="362.3" font-size="7.7" fill="#2a2a2a" text-anchor="end" stroke="#2a2a2a" stroke-width="0.14">-1</text>
<path d="M23.8 386.9H26.1" stroke="#8c8c8c" stroke-width="0.7"/>
<text x="21.6" y="389.6" font-size="7.7" fill="#2a2a2a" text-anchor="end" stroke="#2a2a2a" stroke-width="0.14">-2</text>
<path d="M23.8 414.2H26.1" stroke="#8c8c8c" stroke-width="0.7"/>
<text x="21.6" y="417.0" font-size="7.7" fill="#2a2a2a" text-anchor="end" stroke="#2a2a2a" stroke-width="0.14">-3</text>
<text x="10.6" y="332.5" font-size="8.3" fill="#222" text-anchor="middle" textLength="97.5" lengthAdjust="spacingAndGlyphs" transform="rotate(-90 10.6 332.5)" stroke="#222" stroke-width="0.15">Average log2FoldChange</text>
<circle cx="75" cy="233.9" r="1.8" fill="#0a9bdc"/>
<text x="80.5" y="236.5" font-size="7.4" fill="#222" textLength="53.7" lengthAdjust="spacingAndGlyphs" stroke="#222" stroke-width="0.13">Down-regulated</text>
<circle cx="146.6" cy="233.7" r="1.8" fill="#ee2222"/>
<text x="151.3" y="236.5" font-size="7.4" fill="#222" textLength="44.3" lengthAdjust="spacingAndGlyphs" stroke="#222" stroke-width="0.13">Up-regulated</text>
<path d="M35.4 353.1h0M31.8 340.4h0M52.4 348.7h0M40.8 354.0h0M45.5 349.4h0M56.1 349.3h0M56.3 344.6h0M60.2 347.2h0M43.9 349.2h0M47.9 341.3h0M54.9 341.6h0M58.0 340.9h0M32.0 353.7h0M60.1 342.5h0M59.5 355.0h0M54.5 343.1h0M46.6 345.1h0M35.9 349.7h0M54.2 349.6h0M55.0 352.0h0M59.1 353.8h0M34.9 341.4h0M53.6 349.3h0M56.6 342.0h0M33.1 341.6h0M48.5 340.8h0M50.4 348.6h0M53.1 344.2h0M57.4 355.3h0M44.3 348.6h0M33.2 349.9h0M59.0 354.6h0M44.2 346.6h0M50.9 339.7h0M52.6 341.4h0M42.1 351.9h0M50.8 345.7h0M36.9 352.2h0M59.6 343.0h0M55.6 360.2h0M51.8 350.1h0M50.2 339.8h0M33.1 344.4h0M43.8 355.5h0M54.2 340.5h0M52.7 355.9h0M50.1 348.5h0M58.0 344.0h0M46.0 339.8h0M54.1 369.3h0M49.3 340.6h0M34.4 345.6h0M52.5 348.3h0M54.1 343.8h0M53.1 350.3h0M41.7 342.3h0M59.2 371.3h0M48.3 351.7h0M41.3 342.2h0M40.3 340.1h0M56.1 345.9h0M59.9 359.7h0M51.5 354.5h0M53.9 340.8h0M51.7 345.6h0M60.3 341.3h0M43.6 340.7h0M51.6 349.5h0M34.5 346.7h0M60.1 340.1h0M48.6 345.4h0M47.6 345.3h0M50.2 343.6h0M33.6 367.3h0M57.8 348.9h0M52.0 347.0h0M45.3 350.8h0M35.8 351.4h0M33.1 347.3h0M52.9 349.9h0M34.0 361.6h0M37.4 345.9h0M55.9 340.9h0M44.7 345.6h0M44.3 360.2h0M50.6 342.5h0M47.1 354.2h0M60.8 344.4h0M48.6 349.8h0M49.7 347.7h0M42.0 341.5h0M33.2 341.0h0M56.4 340.5h0M46.2 340.2h0M52.5 366.0h0M33.2 341.1h0M39.0 342.0h0M48.9 346.6h0M46.9 347.4h0M51.7 342.1h0M51.5 342.2h0M56.4 347.7h0M54.0 346.5h0M33.9 348.3h0M48.7 340.4h0M45.1 340.7h0M57.3 346.9h0M59.6 347.3h0M49.3 355.1h0M50.6 344.1h0M44.1 339.9h0M41.3 350.9h0M34.1 342.2h0M58.1 342.3h0M54.1 357.2h0M45.9 348.2h0M42.9 343.1h0M55.8 350.9h0M55.8 342.1h0M47.0 367.1h0M46.8 339.6h0M38.0 346.8h0M42.6 350.2h0M46.8 349.7h0M54.7 342.1h0M50.5 345.8h0M41.5 340.4h0M40.9 352.9h0M36.0 356.2h0M53.4 342.2h0M38.7 352.9h0M35.2 361.7h0M39.9 344.3h0M36.5 348.7h0M48.9 340.4h0M51.6 347.8h0M35.1 348.1h0M60.2 354.0h0M49.4 345.9h0M57.7 364.2h0M39.9 340.4h0M39.2 355.5h0M57.6 341.2h0M42.8 350.4h0M37.4 345.0h0M56.4 361.3h0M52.5 349.5h0M47.3 346.4h0M54.5 352.0h0M44.1 343.5h0M34.3 348.7h0M44.5 345.0h0M59.1 340.4h0M36.7 355.7h0M53.3 344.4h0M46.3 343.0h0M56.9 360.9h0M33.0 344.1h0M56.3 347.8h0M54.6 357.5h0M45.0 340.4h0M32.0 371.7h0M49.0 342.3h0M40.1 343.4h0M42.9 342.5h0M40.2 352.4h0M59.0 342.6h0M47.9 340.5h0M38.3 359.6h0M39.3 353.4h0M56.9 343.9h0M35.4 339.9h0M47.2 350.7h0M35.1 346.6h0M51.1 355.5h0M33.1 349.6h0M32.8 342.0h0M48.9 342.9h0M35.0 342.1h0M52.4 347.4h0M38.5 350.0h0M44.7 339.6h0M54.5 341.4h0M58.5 343.3h0M58.9 346.8h0M42.9 348.0h0M41.7 357.5h0M32.0 369.7h0M38.8 349.0h0M36.5 343.3h0M55.6 353.1h0M32.1 343.2h0M48.3 342.5h0M39.4 349.5h0M57.8 350.9h0M42.5 342.7h0M37.4 351.1h0M51.1 344.6h0M54.9 346.9h0M50.4 354.6h0M45.3 341.0h0M32.2 341.9h0M32.2 341.0h0M50.6 344.2h0M31.8 343.8h0M41.8 342.9h0M54.3 351.0h0M48.1 340.6h0M35.4 340.6h0M34.7 345.6h0M34.8 345.5h0M47.8 352.0h0M35.3 343.9h0M59.1 344.9h0M38.3 344.2h0M35.7 351.0h0M38.1 355.2h0M32.0 349.8h0M53.9 340.5h0M41.1 364.0h0M46.3 347.7h0M38.9 369.0h0M34.1 351.6h0M37.4 342.1h0M58.4 345.5h0M59.6 339.9h0M48.6 344.3h0M56.2 346.0h0M40.4 343.0h0M49.3 352.3h0M55.5 345.7h0M39.2 344.9h0M58.1 363.4h0M52.0 356.1h0M52.9 342.6h0M50.0 343.0h0M51.6 362.8h0M44.2 341.3h0M45.7 343.0h0M34.3 342.6h0M33.2 356.0h0M34.4 353.2h0M44.7 367.1h0M60.3 343.3h0M33.1 346.1h0M38.9 347.2h0M59.9 343.9h0M49.9 349.6h0M38.6 341.8h0M32.0 347.4h0M48.4 343.4h0M36.0 344.7h0M51.4 341.5h0M34.5 355.7h0M32.5 346.2h0M43.7 353.5h0M35.7 347.2h0M42.5 357.6h0M48.1 349.8h0M45.4 340.4h0M35.5 340.7h0M50.2 346.3h0M39.2 345.5h0M31.9 343.9h0M57.2 346.6h0M39.1 377.6h0M59.2 343.7h0M34.9 353.5h0M46.9 340.8h0M39.7 353.0h0M38.3 358.2h0M46.5 348.4h0M33.5 341.8h0M42.0 346.2h0M32.1 341.8h0M55.9 345.5h0M58.2 347.3h0M35.3 349.0h0M56.0 348.6h0M35.9 358.7h0M39.3 361.0h0M42.1 340.5h0M36.6 357.4h0M52.4 342.1h0M54.8 341.6h0M37.0 342.8h0M41.7 359.3h0M45.2 343.6h0M34.4 341.6h0M59.8 350.9h0M43.4 346.0h0M49.6 344.4h0M58.1 340.2h0M42.2 343.8h0M38.3 379.7h0M44.7 339.8h0M35.2 368.8h0M58.4 349.5h0M43.6 340.2h0M55.9 362.4h0M55.6 341.1h0M59.6 349.8h0M46.8 345.2h0M47.9 345.0h0M56.2 345.8h0M57.7 339.6h0M45.0 341.9h0M33.3 341.2h0M38.9 348.9h0M40.7 345.4h0M47.8 343.0h0M35.8 343.0h0M59.4 339.8h0M54.5 344.0h0M47.2 340.2h0M42.1 353.8h0M37.3 342.0h0M45.3 341.8h0M56.7 348.6h0M37.9 344.0h0M43.6 351.9h0M60.1 351.9h0M57.2 358.0h0M38.1 349.1h0M47.8 361.9h0M43.8 344.2h0M42.0 371.2h0M35.3 349.2h0M52.3 343.2h0M42.5 348.5h0M39.6 342.3h0M47.1 344.8h0M47.2 343.6h0M58.8 348.1h0M51.2 344.3h0M43.9 344.7h0M55.6 344.3h0M36.6 340.3h0M53.2 347.7h0M49.7 346.3h0M49.8 343.9h0M44.1 342.3h0M44.1 342.3h0M39.6 340.9h0M44.3 346.2h0M57.8 347.3h0M46.8 349.2h0M50.8 341.4h0M44.8 339.9h0M41.6 344.5h0M35.8 347.5h0M37.0 346.6h0M33.7 342.8h0M47.0 339.6h0M37.7 345.3h0M42.9 343.7h0M42.5 347.2h0M32.9 349.3h0M42.4 341.7h0M53.8 340.0h0M50.6 341.7h0M54.5 345.8h0M32.3 342.4h0M59.7 349.0h0M49.9 340.0h0M34.5 348.2h0M32.8 342.1h0M33.7 342.6h0M44.1 340.7h0M45.1 348.6h0M35.0 347.8h0M39.2 340.9h0M43.9 342.3h0M34.5 345.5h0M44.3 347.9h0M49.1 343.0h0M44.9 348.6h0M54.3 345.6h0M48.3 347.2h0M58.0 344.9h0M33.2 349.4h0M48.4 343.9h0M56.2 347.5h0M33.6 344.5h0M33.5 344.8h0M58.7 344.3h0M32.6 343.2h0M35.1 341.6h0M43.5 347.5h0M39.0 344.3h0M32.9 340.4h0M57.3 347.4h0M42.3 347.9h0M48.4 344.3h0M36.6 347.2h0M36.7 341.1h0M40.7 348.7h0M45.7 345.4h0M37.2 346.7h0M58.7 340.8h0M44.3 346.9h0M38.0 345.9h0M42.4 344.3h0M49.7 340.2h0M38.3 342.7h0M46.0 348.2h0M50.8 342.2h0M32.8 343.9h0M57.5 344.4h0M55.1 345.2h0M38.2 349.3h0M35.7 345.7h0M42.6 341.6h0M48.9 345.4h0M33.9 347.4h0M46.8 341.9h0M48.2 347.4h0M46.1 346.7h0M34.4 340.7h0M39.9 348.6h0M32.6 343.6h0M57.0 346.3h0M36.4 346.8h0M43.4 348.5h0M54.9 344.0h0M47.0 345.1h0M35.2 347.5h0M48.2 343.1h0M35.4 340.0h0M53.0 348.9h0M32.2 348.5h0M52.9 344.0h0M53.7 345.1h0M57.7 342.0h0M47.1 343.7h0M47.5 343.4h0M60.2 340.1h0M33.9 349.2h0M34.1 349.3h0M53.6 341.8h0M60.3 374.5h0M47.3 396.6h0M35.8 394.7h0M35.7 391.1h0M43.6 385.7h0M57.3 385.8h0M36.6 385.8h0M45.2 405.5h0M38.2 390.9h0M36.5 396.4h0M55.7 375.8h0M33.3 384.0h0M33.2 414.2h0M34.7 414.2h0M35.9 414.2h0M43.4 414.2h0M44.8 414.2h0M46.3 414.2h0M47.2 414.2h0M68.9 357.9h0M78.8 340.1h0M71.6 357.2h0M94.1 345.4h0M84.8 341.3h0M84.8 341.1h0M86.0 347.9h0M76.3 342.4h0M67.4 362.1h0M88.5 351.6h0M77.9 344.4h0M74.4 343.3h0M91.8 349.1h0M91.1 340.3h0M83.7 361.6h0M89.8 344.2h0M73.6 341.4h0M68.8 357.4h0M92.3 341.7h0M79.6 349.0h0M80.5 343.6h0M67.1 348.4h0M70.5 343.5h0M72.9 358.0h0M83.8 342.0h0M82.1 340.2h0M66.4 371.4h0M83.0 339.8h0M71.8 343.4h0M78.5 340.2h0M86.0 356.7h0M68.7 342.2h0M69.4 345.8h0M94.2 342.0h0M75.2 346.9h0M81.6 345.4h0M69.3 343.9h0M76.1 342.0h0M90.4 346.4h0M84.3 341.3h0M82.1 358.2h0M88.0 361.1h0M89.7 346.0h0M91.0 345.6h0M83.5 342.3h0M78.9 358.7h0M81.1 349.8h0M78.6 355.3h0M74.6 350.2h0M86.5 345.7h0M81.7 341.2h0M71.2 340.6h0M94.4 345.4h0M77.6 366.5h0M93.7 346.6h0M93.6 343.5h0M84.3 339.6h0M94.0 343.0h0M85.3 346.5h0M81.3 355.1h0M91.1 341.0h0M77.4 350.9h0M67.0 342.0h0M87.2 373.2h0M80.9 354.6h0M67.7 344.3h0M80.8 340.9h0M71.2 344.3h0M83.1 339.8h0M69.3 348.8h0M95.3 340.1h0M77.6 341.8h0M71.8 347.7h0M72.0 340.7h0M67.1 340.8h0M83.8 341.5h0M81.5 346.1h0M77.1 348.7h0M73.0 343.2h0M72.2 343.2h0M66.9 349.9h0M86.6 342.6h0M83.2 346.7h0M86.5 348.6h0M95.2 364.2h0M68.4 360.8h0M76.2 341.0h0M90.2 341.8h0M73.3 367.9h0M67.5 344.1h0M75.4 345.7h0M79.4 340.0h0M68.4 357.4h0M95.0 341.4h0M95.0 344.8h0M94.9 379.2h0M83.2 340.4h0M81.5 347.1h0M93.5 345.5h0M80.8 365.3h0M71.4 344.6h0M71.0 364.3h0M94.0 344.0h0M72.9 347.4h0M94.5 343.5h0M88.2 343.0h0M78.9 347.4h0M78.5 349.6h0M93.2 354.5h0M93.8 341.3h0M77.5 343.4h0M71.3 344.5h0M72.1 341.0h0M73.3 340.2h0M71.5 373.1h0M67.6 343.0h0M93.4 343.9h0M68.8 341.1h0M95.1 344.6h0M87.7 348.9h0M80.1 358.9h0M68.6 341.1h0M93.4 354.3h0M70.4 341.8h0M69.1 340.7h0M89.5 351.1h0M95.3 350.7h0M82.4 366.6h0M66.9 340.3h0M68.6 350.0h0M91.8 344.2h0M75.4 348.3h0M74.5 348.9h0M76.3 355.9h0M81.7 346.6h0M76.0 362.7h0M91.2 377.2h0M76.7 340.7h0M85.7 349.9h0M75.1 345.7h0M93.8 358.0h0M84.4 362.9h0M85.4 353.2h0M85.4 346.5h0M90.9 340.2h0M93.2 358.5h0M79.0 343.7h0M81.7 346.6h0M94.8 345.1h0M72.7 339.6h0M82.4 352.7h0M94.0 350.2h0M74.4 358.5h0M81.9 344.4h0M70.7 366.7h0M87.0 376.1h0M87.0 341.8h0M87.9 342.1h0M79.8 367.8h0M76.2 339.9h0M66.4 341.4h0M73.4 340.1h0M68.8 346.4h0M91.8 353.7h0M77.4 348.8h0M71.1 356.5h0M89.6 360.1h0M71.1 361.3h0M85.5 341.7h0M94.0 350.4h0M86.4 351.1h0M73.0 341.8h0M82.4 345.9h0M84.7 344.3h0M71.0 378.1h0M79.3 358.3h0M78.0 347.7h0M81.3 340.6h0M79.0 340.9h0M74.8 344.9h0M67.0 351.2h0M83.7 345.2h0M73.5 346.9h0M93.5 344.0h0M74.4 344.4h0M66.6 344.6h0M90.3 360.4h0M71.1 339.7h0M73.1 346.8h0M79.0 375.1h0M74.1 352.6h0M80.2 353.8h0M94.9 345.2h0M78.4 363.9h0M89.4 344.7h0M79.2 350.3h0M71.4 344.6h0M92.2 340.8h0M81.0 341.1h0M69.3 342.5h0M83.5 341.8h0M87.2 344.3h0M91.6 346.1h0M74.4 340.0h0M76.8 361.1h0M85.4 346.3h0M80.9 360.1h0M77.9 341.2h0M94.9 351.3h0M76.6 344.2h0M76.4 350.6h0M87.7 341.7h0M87.1 343.5h0M85.5 349.7h0M68.1 347.6h0M75.0 340.1h0M89.6 342.4h0M80.5 344.9h0M75.2 341.0h0M83.2 352.5h0M85.8 348.2h0M68.7 366.0h0M73.9 347.5h0M94.9 343.7h0M82.9 373.1h0M84.0 342.8h0M69.3 357.5h0M69.2 342.1h0M84.3 366.1h0M76.7 340.7h0M91.8 345.6h0M66.6 342.2h0M87.9 342.4h0M79.1 343.2h0M75.6 354.2h0M92.8 350.3h0M89.9 343.1h0M80.3 354.3h0M69.2 341.7h0M90.7 352.6h0M73.3 339.8h0M77.2 359.3h0M91.5 350.1h0M84.6 342.0h0M86.0 342.4h0M78.6 351.5h0M80.2 357.5h0M85.4 341.0h0M77.3 357.2h0M92.7 344.6h0M73.9 347.2h0M83.9 345.5h0M67.3 375.4h0M93.4 346.7h0M93.7 355.5h0M92.1 343.1h0M77.5 356.6h0M71.3 363.3h0M72.1 341.2h0M82.3 339.7h0M79.5 344.6h0M74.9 344.6h0M83.4 350.9h0M70.1 342.3h0M84.1 351.7h0M79.4 340.1h0M94.8 345.5h0M68.9 368.4h0M73.0 345.1h0M90.0 363.8h0M91.7 340.8h0M88.5 352.1h0M87.1 353.4h0M75.1 345.6h0M73.0 348.5h0M76.3 363.2h0M92.8 361.5h0M74.8 350.1h0M80.2 342.4h0M80.5 344.9h0M83.4 345.2h0M70.2 341.3h0M91.6 342.7h0M71.5 342.3h0M84.7 339.8h0M72.4 383.3h0M81.8 350.1h0M76.3 344.3h0M89.7 345.0h0M67.4 357.1h0M93.1 348.9h0M71.6 340.4h0M70.7 348.0h0M91.4 339.6h0M84.6 345.2h0M92.3 340.1h0M84.9 341.2h0M71.6 340.2h0M88.6 343.4h0M82.1 341.3h0M69.2 340.9h0M76.2 340.0h0M68.0 344.4h0M92.5 340.9h0M73.7 347.9h0M72.7 346.4h0M68.4 342.4h0M82.9 342.2h0M80.0 339.7h0M68.3 349.4h0M72.6 341.5h0M81.5 342.7h0M73.3 349.4h0M77.9 345.2h0M69.8 343.6h0M80.3 342.8h0M68.1 342.9h0M70.4 340.1h0M90.5 342.9h0M66.8 344.3h0M71.2 346.0h0M80.5 340.3h0M68.1 344.0h0M72.6 343.9h0M81.8 343.5h0M79.9 339.6h0M84.0 342.7h0M68.8 339.9h0M70.5 346.8h0M81.7 343.0h0M94.6 340.2h0M89.0 343.8h0M93.1 344.4h0M72.9 347.4h0M76.0 345.2h0M75.3 342.3h0M95.0 349.1h0M91.0 345.7h0M88.3 348.9h0M76.5 347.7h0M81.7 347.1h0M73.9 340.6h0M80.8 346.1h0M92.1 345.3h0M72.5 347.9h0M71.5 343.1h0M82.9 348.0h0M82.7 344.3h0M75.7 340.7h0M83.5 346.3h0M79.7 343.5h0M90.2 346.6h0M92.7 345.9h0M80.7 343.6h0M82.5 348.7h0M70.1 342.7h0M74.9 347.2h0M89.8 339.9h0M76.6 346.4h0M68.4 348.1h0M81.2 345.4h0M69.5 347.7h0M69.3 346.3h0M68.3 345.6h0M70.2 341.2h0M72.6 339.8h0M68.5 340.4h0M78.8 341.8h0M70.1 347.8h0M73.4 347.6h0M74.1 346.0h0M81.2 345.9h0M72.8 348.4h0M85.2 341.8h0M78.9 348.8h0M70.7 346.2h0M67.8 348.5h0M90.7 340.1h0M80.4 346.3h0M75.8 341.8h0M93.9 347.2h0M93.5 340.9h0M89.9 340.5h0M95.2 342.1h0M92.4 344.3h0M84.9 346.0h0M89.6 349.0h0M93.2 345.6h0M66.5 339.7h0M72.3 340.9h0M75.8 343.3h0M86.3 345.9h0M71.9 342.4h0M73.2 345.8h0M93.6 347.8h0M79.2 344.5h0M71.0 340.1h0M85.5 343.9h0M80.4 342.1h0M81.2 349.3h0M69.5 347.7h0M73.2 343.4h0M78.4 343.8h0M84.8 348.1h0M86.5 340.5h0M84.8 346.2h0M78.7 347.3h0M70.4 345.3h0M75.2 345.1h0M85.3 343.8h0M71.6 404.6h0M66.5 404.1h0M76.2 401.6h0M67.0 393.2h0M75.2 400.5h0M90.0 398.2h0M91.9 379.7h0M66.5 389.6h0M83.3 399.5h0M81.5 399.2h0M76.7 394.4h0M67.0 400.9h0M82.4 414.2h0M127.3 343.2h0M114.7 351.5h0M104.1 340.4h0M110.0 360.9h0M127.8 340.1h0M128.2 341.3h0M101.7 356.3h0M111.5 341.3h0M128.9 352.2h0M111.3 353.9h0M107.1 360.1h0M110.8 357.6h0M117.7 340.6h0M127.8 342.4h0M104.0 349.0h0M127.1 344.4h0M129.2 340.8h0M115.0 354.1h0M114.5 358.4h0M126.5 340.9h0M125.6 348.0h0M103.1 341.8h0M123.3 339.6h0M122.9 350.1h0M110.7 342.1h0M129.2 348.3h0M117.5 356.0h0M116.7 343.7h0M107.0 348.0h0M124.5 342.3h0M111.9 360.5h0M112.7 348.5h0M106.9 345.5h0M105.2 350.6h0M126.8 357.7h0M104.0 357.0h0M109.9 340.3h0M102.0 342.4h0M125.1 344.9h0M104.6 346.3h0M114.4 340.4h0M127.0 348.1h0M108.6 343.3h0M123.7 344.9h0M121.4 368.5h0M128.1 349.1h0M106.5 343.1h0M105.9 342.7h0M116.4 344.0h0M106.1 345.6h0M118.4 341.4h0M126.7 342.1h0M116.6 341.8h0M115.0 351.7h0M127.9 376.9h0M129.2 339.9h0M108.8 339.7h0M109.4 342.5h0M114.4 343.5h0M128.6 340.6h0M114.4 367.4h0M125.0 362.9h0M104.1 340.7h0M129.7 352.2h0M108.8 343.7h0M111.2 347.8h0M122.0 346.4h0M118.4 345.4h0M102.8 352.2h0M128.9 349.3h0M101.2 348.9h0M129.7 340.9h0M129.9 352.7h0M108.4 372.5h0M109.5 345.9h0M116.3 352.4h0M118.0 354.5h0M110.4 352.5h0M114.0 352.1h0M122.3 369.4h0M115.6 345.5h0M103.0 349.6h0M117.9 341.9h0M114.0 359.0h0M116.9 353.3h0M105.4 340.0h0M121.9 340.8h0M109.1 339.6h0M114.2 345.4h0M114.7 341.0h0M118.1 348.2h0M122.3 356.2h0M127.0 340.2h0M102.7 349.3h0M102.4 347.1h0M129.6 341.9h0M126.1 345.6h0M111.5 341.2h0M128.9 344.1h0M129.8 345.4h0M101.5 342.1h0M111.7 346.7h0M116.3 343.0h0M105.7 342.6h0M110.0 340.0h0M127.3 365.4h0M121.5 350.1h0M120.5 345.8h0M128.8 344.0h0M114.0 359.5h0M110.8 360.9h0M105.7 357.7h0M103.8 342.5h0M110.6 346.1h0M107.6 343.9h0M122.9 355.5h0M119.9 344.1h0M116.8 339.7h0M119.2 347.4h0M117.5 340.8h0M101.1 353.2h0M109.5 352.0h0M110.8 352.7h0M108.5 344.0h0M116.6 344.3h0M116.1 347.3h0M120.6 358.9h0M103.8 342.0h0M111.3 363.8h0M113.6 362.1h0M121.1 359.1h0M124.5 364.4h0M104.6 345.7h0M124.6 353.4h0M129.7 358.0h0M114.8 350.3h0M113.9 340.5h0M122.2 357.8h0M101.6 341.4h0M118.9 343.9h0M128.2 342.0h0M125.6 342.6h0M115.2 343.4h0M128.8 341.2h0M127.7 342.0h0M110.3 343.3h0M127.4 344.5h0M124.6 342.3h0M123.7 360.7h0M105.0 344.9h0M115.7 351.9h0M121.6 349.8h0M126.8 358.1h0M123.8 344.1h0M106.3 359.7h0M128.5 367.5h0M101.5 350.5h0M127.0 356.1h0M121.1 341.5h0M128.7 356.2h0M101.6 349.1h0M126.6 342.1h0M107.1 345.4h0M115.4 340.6h0M125.0 360.9h0M120.2 345.0h0M116.4 341.4h0M101.8 353.4h0M117.3 341.6h0M117.9 339.7h0M116.5 341.4h0M122.1 344.6h0M109.0 347.2h0M127.9 347.0h0M124.9 340.1h0M113.7 350.2h0M107.0 340.5h0M129.6 348.8h0M126.6 339.6h0M102.1 351.1h0M122.1 340.8h0M117.4 343.0h0M125.4 340.7h0M109.0 376.4h0M114.7 357.2h0M117.9 376.0h0M123.9 346.6h0M104.9 340.9h0M108.2 342.0h0M108.4 346.2h0M128.5 346.3h0M117.6 347.1h0M105.1 348.2h0M101.9 340.4h0M122.2 345.7h0M109.1 366.4h0M122.2 340.7h0M107.0 344.7h0M118.5 370.8h0M111.9 347.8h0M128.3 346.0h0M103.7 354.5h0M109.2 343.1h0M123.9 357.1h0M122.0 340.8h0M106.8 341.7h0M103.5 341.7h0M107.4 340.7h0M104.7 340.0h0M110.4 350.1h0M119.9 340.5h0M103.7 346.1h0M122.8 344.2h0M105.7 343.3h0M103.2 341.6h0M129.9 341.9h0M110.6 341.8h0M103.1 351.1h0M111.0 342.0h0M118.4 345.1h0M123.3 350.8h0M104.4 363.0h0M124.0 343.4h0M119.4 346.6h0M129.6 342.2h0M101.5 363.9h0M105.7 341.6h0M118.4 349.8h0M103.2 350.0h0M115.9 339.8h0M121.3 360.9h0M115.7 341.8h0M117.5 344.3h0M110.8 340.7h0M121.9 344.9h0M118.1 359.5h0M111.9 342.4h0M120.4 341.8h0M110.4 344.2h0M109.7 343.2h0M127.4 339.7h0M115.0 352.8h0M102.2 341.6h0M113.8 340.5h0M109.2 360.2h0M105.9 346.5h0M104.5 358.6h0M102.8 340.4h0M109.7 350.6h0M118.6 341.3h0M108.5 341.4h0M123.5 340.8h0M115.2 344.6h0M111.7 341.1h0M119.4 340.1h0M127.8 340.4h0M119.8 344.8h0M123.8 344.2h0M121.5 348.5h0M124.8 349.6h0M109.7 342.4h0M109.8 352.7h0M119.0 341.5h0M115.7 354.6h0M102.2 347.7h0M103.9 379.7h0M113.3 340.9h0M120.5 343.8h0M124.5 343.1h0M104.5 351.7h0M128.2 347.1h0M101.9 346.8h0M129.7 341.6h0M107.2 347.1h0M105.9 340.0h0M121.2 349.8h0M116.5 345.2h0M109.7 340.3h0M122.8 341.2h0M116.2 357.7h0M101.6 364.7h0M109.7 345.2h0M105.1 354.9h0M129.7 340.3h0M125.0 341.0h0M116.4 342.2h0M125.9 363.9h0M129.0 350.9h0M109.3 349.2h0M128.0 341.4h0M127.3 351.9h0M126.3 342.9h0M101.9 339.7h0M107.0 343.9h0M124.9 340.7h0M109.5 341.2h0M113.1 342.3h0M122.2 340.0h0M126.4 343.3h0M103.3 343.9h0M129.8 349.2h0M119.4 347.3h0M112.6 340.2h0M104.1 348.0h0M122.7 343.4h0M120.0 349.1h0M112.0 346.5h0M101.2 346.6h0M117.6 347.4h0M120.6 342.8h0M128.6 342.9h0M105.5 343.8h0M101.0 349.0h0M118.2 346.7h0M125.3 349.2h0M102.1 348.6h0M106.9 340.7h0M127.1 340.6h0M127.9 342.2h0M119.7 340.0h0M105.9 342.0h0M116.9 345.6h0M129.5 348.3h0M120.8 344.5h0M112.2 340.7h0M122.3 340.8h0M128.3 344.7h0M124.1 349.2h0M112.5 341.7h0M107.7 342.0h0M115.1 341.9h0M128.0 349.1h0M111.3 349.0h0M108.6 348.7h0M125.9 341.8h0M114.8 348.4h0M123.7 344.6h0M124.3 342.0h0M129.5 347.2h0M106.1 343.9h0M120.3 343.2h0M116.9 349.2h0M110.6 346.7h0M108.1 346.4h0M110.6 346.2h0M111.2 346.7h0M105.6 340.5h0M129.1 349.3h0M117.0 340.4h0M122.1 339.9h0M109.6 347.9h0M115.2 340.0h0M105.2 349.1h0M112.2 343.1h0M120.9 347.0h0M120.4 349.3h0M110.0 343.1h0M117.1 347.8h0M123.8 344.8h0M120.0 346.7h0M111.0 340.0h0M128.0 346.5h0M127.2 345.8h0M102.2 342.9h0M128.9 344.8h0M123.0 344.6h0M111.7 347.9h0M115.4 340.0h0M118.1 340.3h0M111.2 346.3h0M120.0 347.6h0M105.4 349.4h0M113.9 348.8h0M103.4 347.5h0M115.9 347.1h0M128.7 346.1h0M112.4 345.4h0M110.4 344.9h0M109.8 347.0h0M105.6 344.3h0M123.7 342.4h0M120.8 348.2h0M106.0 346.2h0M104.1 344.5h0M107.5 343.3h0M107.3 341.3h0M103.6 344.4h0M121.4 343.9h0M115.1 345.7h0M106.8 344.6h0M122.5 349.2h0M120.0 343.0h0M101.9 348.2h0M110.7 343.8h0M108.6 348.6h0M117.6 339.6h0M101.5 344.3h0M115.0 346.2h0M106.2 345.3h0M125.1 343.1h0M124.1 347.0h0M127.7 348.3h0M120.1 347.3h0M108.2 348.6h0M121.3 345.1h0M115.4 346.1h0M101.6 341.5h0M108.1 347.0h0M127.0 345.7h0M106.3 340.1h0M120.4 375.4h0M118.1 390.6h0M116.0 394.6h0M114.6 388.4h0M108.6 389.4h0M122.3 385.4h0M127.7 385.9h0M101.2 375.2h0M111.5 397.4h0M124.6 376.3h0M118.9 374.6h0M125.8 396.3h0M111.2 414.2h0M128.6 414.2h0M157.5 352.3h0M151.1 362.2h0M144.9 340.1h0M139.5 352.3h0M164.4 340.5h0M145.3 356.8h0M139.7 339.7h0M154.8 341.6h0M140.0 359.6h0M163.5 351.7h0M139.2 342.6h0M159.3 339.7h0M147.5 349.8h0M155.5 347.9h0M154.9 345.2h0M164.3 346.8h0M160.1 361.8h0M147.0 345.9h0M150.9 353.3h0M145.7 339.9h0M140.7 346.2h0M149.7 339.8h0M155.7 344.6h0M139.7 366.9h0M146.7 343.8h0M140.0 349.1h0M161.7 344.7h0M158.5 351.0h0M136.0 342.9h0M163.8 341.0h0M161.9 373.9h0M155.8 341.9h0M157.3 352.1h0M158.5 363.2h0M163.5 339.6h0M163.5 346.5h0M144.2 342.5h0M145.8 349.0h0M144.4 343.8h0M144.0 350.6h0M161.3 340.6h0M154.4 350.1h0M152.2 349.5h0M148.2 339.8h0M149.4 341.6h0M150.0 350.4h0M154.6 350.4h0M159.8 351.5h0M140.6 341.2h0M147.2 347.6h0M146.2 346.5h0M150.0 344.9h0M139.4 356.8h0M140.7 351.7h0M140.4 340.1h0M156.6 339.7h0M138.6 343.4h0M138.7 342.6h0M157.8 346.1h0M150.2 348.1h0M162.3 348.4h0M164.1 345.5h0M155.6 377.3h0M154.5 340.7h0M150.8 365.3h0M152.8 340.1h0M150.4 346.1h0M149.1 345.2h0M156.0 345.7h0M163.7 345.5h0M162.3 341.6h0M158.3 350.6h0M140.8 340.0h0M160.8 356.5h0M163.7 357.5h0M137.0 355.2h0M164.0 350.8h0M143.0 342.1h0M151.2 342.8h0M141.0 353.6h0M137.3 340.1h0M141.9 363.0h0M152.2 341.3h0M150.2 346.4h0M156.8 368.2h0M155.4 343.4h0M153.8 366.1h0M139.8 348.9h0M154.0 353.2h0M163.8 341.7h0M148.1 358.3h0M159.1 347.7h0M136.4 339.6h0M146.9 343.4h0M139.6 340.6h0M160.7 353.3h0M141.3 345.0h0M156.0 354.4h0M147.9 348.8h0M143.2 371.6h0M157.2 348.3h0M157.9 359.1h0M143.3 343.6h0M163.3 342.3h0M160.9 341.7h0M137.8 343.3h0M155.6 341.6h0M147.1 339.6h0M137.2 351.1h0M136.5 346.1h0M153.6 364.1h0M137.0 345.8h0M143.2 348.4h0M161.9 346.0h0M141.7 349.3h0M137.1 356.6h0M147.5 342.5h0M146.9 346.1h0M147.3 356.2h0M157.6 351.3h0M137.1 340.1h0M146.3 351.4h0M147.9 343.5h0M150.5 347.8h0M140.2 343.6h0M143.1 342.6h0M149.2 349.3h0M140.6 347.7h0M153.6 345.7h0M144.6 345.0h0M148.9 343.4h0M139.7 362.6h0M159.5 343.9h0M157.3 342.5h0M136.7 345.2h0M143.1 357.9h0M158.5 353.5h0M150.7 345.6h0M140.3 341.6h0M155.1 344.4h0M153.4 340.2h0M152.9 345.1h0M156.8 356.2h0M137.4 344.4h0M139.1 349.8h0M164.1 346.8h0M146.5 350.7h0M150.3 365.7h0M141.7 371.2h0M146.3 353.6h0M151.4 341.9h0M160.3 347.8h0M158.4 340.5h0M161.7 343.0h0M157.7 373.8h0M161.8 341.6h0M153.0 342.5h0M162.7 339.7h0M152.5 342.0h0M139.6 342.0h0M164.3 346.3h0M137.4 346.4h0M155.9 340.8h0M156.7 358.8h0M150.4 343.7h0M144.1 340.6h0M157.5 343.5h0M148.2 343.4h0M141.6 356.0h0M137.9 360.9h0M151.7 348.5h0M157.6 369.3h0M142.5 351.3h0M144.1 346.7h0M164.1 343.1h0M144.5 346.4h0M164.5 342.7h0M136.4 347.7h0M137.4 340.3h0M139.7 340.4h0M156.8 340.8h0M154.8 340.8h0M139.1 346.6h0M138.4 362.5h0M146.1 347.4h0M143.2 346.7h0M153.3 340.7h0M162.8 340.9h0M153.4 340.4h0M154.2 356.6h0M152.8 348.5h0M156.1 362.8h0M146.1 353.4h0M140.3 342.4h0M159.9 349.5h0M138.5 340.2h0M149.7 355.2h0M139.8 371.9h0M151.8 340.3h0M163.1 351.6h0M147.3 374.5h0M154.1 356.1h0M140.9 344.5h0M139.9 345.1h0M145.6 346.2h0M146.1 358.1h0M157.2 360.6h0M156.7 345.0h0M138.3 375.6h0M152.8 351.0h0M141.5 344.3h0M147.8 340.7h0M158.3 343.0h0M145.3 349.9h0M139.9 350.7h0M156.7 344.1h0M152.8 343.8h0M141.7 341.7h0M140.6 351.0h0M149.3 346.0h0M163.2 354.0h0M147.3 357.6h0M161.6 340.1h0M143.7 342.7h0M147.2 356.0h0M161.8 351.4h0M154.6 347.3h0M153.9 348.3h0M138.4 359.0h0M158.7 345.4h0M137.6 342.4h0M141.5 348.9h0M163.7 359.8h0M140.5 357.8h0M138.6 341.9h0M140.3 345.5h0M162.4 353.3h0M138.2 346.5h0M164.4 345.6h0M145.0 351.4h0M153.2 344.8h0M146.1 343.3h0M147.2 342.0h0M138.4 363.3h0M145.0 355.0h0M157.1 339.7h0M156.6 379.1h0M137.9 353.9h0M162.4 343.6h0M144.9 344.3h0M152.0 365.6h0M150.4 354.1h0M147.7 346.9h0M161.7 342.0h0M146.7 346.6h0M152.3 352.7h0M161.6 341.5h0M137.8 341.4h0M158.7 347.7h0M148.0 340.8h0M138.0 351.7h0M158.7 367.2h0M161.6 349.4h0M140.2 353.1h0M164.3 343.7h0M139.1 341.3h0M156.1 340.2h0M151.6 355.7h0M149.7 355.2h0M142.6 345.2h0M151.0 341.0h0M146.9 344.4h0M138.5 356.1h0M164.1 346.0h0M147.0 343.4h0M163.1 346.8h0M159.6 356.6h0M136.2 343.6h0M147.2 365.3h0M159.1 343.6h0M146.2 367.9h0M140.2 353.7h0M163.9 350.7h0M143.4 360.9h0M158.0 351.7h0M156.5 340.0h0M159.7 371.1h0M137.5 350.9h0M157.0 344.3h0M160.7 347.7h0M163.8 370.3h0M161.2 355.2h0M154.2 341.0h0M158.6 344.7h0M151.6 342.6h0M141.1 359.1h0M150.3 373.2h0M142.0 348.9h0M153.6 340.3h0M151.5 346.1h0M153.0 340.0h0M152.6 342.5h0M142.5 341.6h0M143.4 343.0h0M154.2 342.8h0M140.7 341.0h0M141.7 345.3h0M147.5 345.8h0M149.8 342.8h0M150.7 348.5h0M144.3 348.5h0M146.9 347.1h0M150.1 345.0h0M146.7 342.6h0M146.2 343.1h0M138.6 341.0h0M163.0 340.8h0M141.7 344.5h0M163.4 346.6h0M141.8 343.6h0M149.9 345.6h0M151.1 345.2h0M147.2 347.2h0M150.7 344.9h0M141.7 346.3h0M142.5 344.9h0M150.3 346.2h0M139.9 339.8h0M136.8 344.7h0M154.2 343.3h0M159.9 339.9h0M156.3 346.9h0M140.0 347.6h0M159.1 348.5h0M164.4 346.7h0M153.0 342.5h0M149.1 347.8h0M155.3 341.6h0M136.9 340.1h0M159.9 342.0h0M138.9 341.8h0M143.5 341.7h0M141.6 343.6h0M146.4 342.7h0M143.0 341.5h0M159.3 341.4h0M141.9 342.1h0M159.4 346.6h0M158.6 341.1h0M153.0 341.8h0M145.0 344.1h0M138.2 344.8h0M136.2 340.6h0M143.3 344.1h0M155.6 346.6h0M143.5 343.7h0M159.7 343.1h0M156.3 339.6h0M157.4 344.9h0M136.5 344.6h0M160.8 341.3h0M156.4 341.2h0M156.0 341.8h0M135.9 340.5h0M161.0 340.5h0M146.5 348.5h0M161.7 345.2h0M152.9 343.5h0M153.3 347.2h0M157.7 340.9h0M155.3 345.4h0M157.6 344.0h0M162.6 341.2h0M156.6 342.5h0M154.9 346.6h0M162.7 344.2h0M146.5 339.6h0M161.7 343.9h0M135.7 340.3h0M138.8 346.3h0M161.6 345.4h0M150.6 349.2h0M153.3 343.9h0M157.6 342.1h0M161.0 349.0h0M140.4 348.2h0M153.1 342.9h0M137.6 347.4h0M144.4 348.3h0M139.7 344.2h0M163.5 349.4h0M154.2 347.7h0M139.0 347.9h0M136.2 347.6h0M148.5 346.1h0M150.5 349.0h0M164.0 348.9h0M141.7 345.8h0M139.8 339.6h0M152.0 346.1h0M146.4 349.2h0M164.5 344.9h0M153.4 342.6h0M144.8 344.9h0M143.2 348.7h0M155.1 340.5h0M156.7 345.1h0M152.5 349.2h0M140.4 347.1h0M136.6 342.0h0M157.0 384.5h0M164.1 398.7h0M144.5 390.0h0M140.6 391.7h0M156.4 382.3h0M163.8 382.5h0M155.7 394.7h0M140.1 377.7h0M142.6 405.6h0M145.1 389.6h0M161.3 396.0h0M141.5 402.9h0M144.3 414.2h0M193.3 356.7h0M174.2 341.1h0M191.6 349.1h0M182.7 375.0h0M188.0 357.3h0M170.8 356.2h0M197.8 354.0h0M181.5 339.7h0M181.5 350.9h0M180.7 340.1h0M172.4 340.3h0M186.4 346.4h0M176.5 348.3h0M187.9 381.5h0M194.8 354.1h0M198.4 340.6h0M175.8 345.8h0M174.3 347.7h0M197.0 365.1h0M186.3 340.2h0M185.3 342.1h0M178.6 348.7h0M172.9 356.1h0M177.8 361.7h0M192.1 341.1h0M191.0 344.5h0M176.6 346.9h0M183.0 349.2h0M187.9 341.1h0M182.5 348.5h0M195.7 344.9h0M188.9 343.0h0M170.5 345.3h0M183.4 342.6h0M184.2 347.2h0M175.3 343.8h0M183.0 340.3h0M193.5 351.9h0M197.6 348.7h0M171.0 344.0h0M199.0 354.9h0M186.2 339.8h0M196.3 350.9h0M184.8 366.2h0M176.5 354.0h0M190.8 355.5h0M190.9 346.4h0M181.8 341.4h0M196.4 349.2h0M182.4 344.1h0M171.8 368.4h0M180.9 342.5h0M190.4 341.5h0M192.4 355.9h0M170.3 366.8h0M190.2 365.7h0M185.3 346.2h0M180.1 355.0h0M185.5 344.1h0M198.0 341.5h0M185.2 351.1h0M188.0 355.9h0M191.3 372.9h0M184.7 343.8h0M185.1 347.0h0M173.3 360.8h0M183.8 351.3h0M186.7 364.2h0M173.0 341.6h0M181.3 344.0h0M182.8 347.2h0M180.3 376.9h0M179.3 353.2h0M173.5 339.8h0M177.1 340.1h0M189.4 345.5h0M175.8 350.7h0M177.6 343.6h0M171.9 354.2h0M194.9 345.0h0M172.5 344.6h0M175.8 357.8h0M180.9 353.0h0M192.4 356.5h0M172.3 340.5h0M179.0 340.2h0M197.9 343.2h0M178.2 345.8h0M188.4 348.6h0M179.0 340.7h0M189.0 344.1h0M186.1 339.6h0M186.0 342.2h0M181.6 357.6h0M193.4 349.6h0M194.7 356.6h0M191.0 352.7h0M192.0 340.3h0M194.3 343.6h0M176.8 346.8h0M188.6 372.4h0M175.5 354.4h0M175.0 364.8h0M196.9 343.8h0M180.8 365.7h0M198.1 353.4h0M188.9 342.2h0M175.7 361.8h0M186.9 350.7h0M198.0 345.3h0M191.0 351.6h0M176.3 372.1h0M171.3 339.7h0M172.5 345.0h0M187.0 373.4h0M171.9 345.5h0M182.4 341.1h0M184.0 363.1h0M192.6 347.1h0M180.7 355.2h0M183.0 365.0h0M185.1 369.0h0M180.5 340.1h0M173.4 343.5h0M180.8 348.8h0M189.5 353.3h0M186.2 345.8h0M188.8 343.4h0M194.1 354.4h0M198.1 339.8h0M189.6 347.8h0M175.2 356.7h0M198.5 346.5h0M185.8 367.8h0M198.6 376.9h0M186.2 341.0h0M197.5 357.3h0M172.1 350.5h0M180.3 342.3h0M177.9 339.7h0M170.9 353.4h0M195.4 349.7h0M183.8 347.0h0M181.1 340.2h0M192.0 344.4h0M189.1 344.7h0M192.4 353.0h0M179.1 353.5h0M193.5 339.6h0M180.3 340.1h0M185.5 352.2h0M198.7 340.2h0M171.2 359.7h0M191.8 354.8h0M176.6 350.2h0M195.4 342.1h0M183.5 346.1h0M195.0 341.1h0M189.2 340.8h0M190.6 345.0h0M194.6 379.0h0M184.6 346.4h0M188.1 378.7h0M187.6 343.5h0M183.6 344.0h0M187.9 346.2h0M189.5 347.5h0M195.3 377.8h0M171.4 353.2h0M179.7 342.0h0M175.1 341.0h0M189.6 345.2h0M176.1 339.7h0M171.7 340.5h0M195.0 343.9h0M176.2 348.2h0M174.5 346.9h0M188.6 341.1h0M193.7 340.5h0M191.7 367.1h0M196.7 349.9h0M192.4 347.0h0M179.8 340.2h0M170.7 344.5h0M177.2 352.1h0M192.6 349.4h0M172.2 344.8h0M199.1 343.8h0M174.5 347.6h0M175.0 339.7h0M176.8 346.8h0M189.3 351.4h0M188.1 342.4h0M174.7 341.0h0M185.8 347.0h0M178.5 342.3h0M183.8 341.3h0M185.1 341.1h0M193.7 341.0h0M197.1 343.2h0M187.4 340.1h0M171.5 353.6h0M171.3 340.6h0M189.7 341.4h0M183.6 340.5h0M193.1 346.7h0M190.2 346.9h0M189.6 351.7h0M176.2 369.2h0M174.7 355.2h0M174.1 356.3h0M198.7 344.0h0M179.0 353.6h0M179.7 341.8h0M185.1 347.1h0M179.5 342.4h0M171.7 344.0h0M191.6 344.9h0M192.1 356.1h0M171.9 343.0h0M183.9 340.3h0M199.1 342.4h0M191.8 349.6h0M171.8 357.3h0M181.8 354.8h0M196.6 343.6h0M186.5 342.3h0M176.5 346.2h0M185.7 356.7h0M194.7 339.8h0M185.4 352.6h0M172.7 345.8h0M196.8 341.1h0M191.7 350.4h0M192.0 343.3h0M186.7 340.1h0M188.9 341.3h0M191.2 340.8h0M187.8 370.7h0M185.5 352.1h0M173.2 341.1h0M189.6 346.3h0M177.1 343.0h0M190.4 343.7h0M179.7 348.4h0M189.6 343.9h0M180.4 345.6h0M171.7 343.6h0M188.7 342.6h0M190.3 353.8h0M177.4 346.3h0M184.5 346.9h0M175.2 346.0h0M183.8 350.7h0M184.6 342.7h0M195.1 344.6h0M188.5 341.1h0M193.4 340.2h0M177.0 344.8h0M193.1 343.4h0M194.2 359.4h0M198.5 347.1h0M190.4 350.4h0M193.0 348.2h0M193.0 346.6h0M171.6 340.9h0M181.1 350.8h0M177.0 341.1h0M189.7 341.2h0M189.6 357.0h0M190.8 343.5h0M181.3 340.6h0M191.1 342.2h0M177.3 345.7h0M190.7 339.8h0M171.1 347.3h0M188.8 340.9h0M175.2 339.9h0M174.9 346.3h0M198.7 357.2h0M192.6 342.1h0M175.2 346.5h0M192.5 349.7h0M179.5 340.4h0M186.8 345.9h0M170.8 340.1h0M197.2 348.7h0M180.7 351.3h0M170.5 349.0h0M192.9 343.1h0M195.2 341.2h0M182.5 342.1h0M172.5 348.1h0M195.3 342.4h0M198.4 340.7h0M195.8 345.3h0M187.6 343.0h0M197.2 350.0h0M171.4 342.1h0M196.1 376.0h0M182.5 345.5h0M185.8 357.8h0M173.5 344.9h0M181.3 349.7h0M185.8 339.6h0M193.1 350.6h0M188.4 339.8h0M192.8 354.5h0M176.6 349.2h0M180.1 341.0h0M198.5 346.0h0M188.3 349.4h0M178.2 341.6h0M190.2 360.5h0M180.6 344.2h0M191.3 342.0h0M177.2 345.3h0M191.7 372.6h0M185.8 349.2h0M175.6 348.7h0M191.7 340.0h0M186.7 339.8h0M197.1 366.6h0M193.1 345.5h0M179.3 349.4h0M187.2 364.5h0M186.3 345.4h0M192.3 362.1h0M183.6 341.3h0M182.3 362.0h0M177.9 348.7h0M195.2 342.4h0M175.5 344.8h0M192.2 342.9h0M197.9 341.8h0M189.8 348.6h0M176.2 347.1h0M197.6 348.5h0M175.7 341.2h0M180.9 342.5h0M185.0 346.1h0M178.0 347.4h0M173.7 340.2h0M192.6 345.4h0M171.6 348.7h0M181.9 345.3h0M186.5 340.3h0M172.7 340.1h0M186.2 348.0h0M197.2 342.8h0M192.7 349.1h0M193.8 341.0h0M188.3 345.3h0M185.2 341.9h0M176.6 346.8h0M191.8 345.5h0M190.8 345.8h0M189.6 341.2h0M195.3 348.0h0M186.5 343.5h0M178.8 342.6h0M195.3 344.0h0M174.3 340.1h0M183.1 348.3h0M191.2 344.7h0M188.1 342.4h0M173.5 346.2h0M178.1 349.1h0M196.3 344.9h0M192.5 345.3h0M179.8 340.8h0M197.9 346.9h0M194.1 349.3h0M183.3 344.1h0M195.1 342.3h0M188.4 343.3h0M172.7 347.3h0M174.5 348.3h0M195.0 343.1h0M178.9 345.3h0M173.6 344.9h0M197.2 342.4h0M178.2 343.4h0M182.6 340.9h0M184.6 344.2h0M198.3 340.3h0M191.7 343.5h0M196.0 347.1h0M193.7 341.6h0M193.3 345.4h0M184.1 340.2h0M187.7 348.7h0M179.4 345.9h0M176.6 344.5h0M192.9 348.4h0M180.7 339.9h0M187.3 340.1h0M175.7 342.2h0M173.0 347.9h0M177.7 348.4h0M179.4 346.3h0M189.1 347.3h0M187.2 341.4h0M177.7 348.2h0M192.7 346.3h0M197.2 347.0h0M180.9 341.4h0M197.6 347.5h0M195.0 343.3h0M180.4 342.1h0M174.1 348.2h0M177.1 344.0h0M195.4 344.3h0M171.4 345.7h0M179.5 340.0h0M170.4 341.6h0M183.6 348.7h0M185.8 345.0h0M198.3 346.3h0M179.5 344.6h0M176.8 344.3h0M176.3 344.9h0M193.2 339.8h0M190.1 342.3h0M194.3 343.6h0M173.2 347.2h0M191.6 345.5h0M179.6 340.0h0M173.8 343.6h0M193.6 347.8h0M191.7 340.5h0M198.7 339.7h0M172.7 348.7h0M184.7 344.7h0M183.0 348.5h0M186.7 349.0h0M182.1 344.5h0M196.5 343.2h0M192.0 341.1h0M181.8 343.4h0M187.9 394.7h0M182.8 399.6h0M190.4 399.4h0M198.7 384.6h0M188.9 379.7h0M192.4 378.5h0M190.1 405.9h0M197.1 379.1h0M195.9 388.6h0M172.2 395.4h0M178.1 397.5h0M183.4 398.5h0M178.9 414.2h0M181.2 414.2h0M192.0 414.2h0M194.3 414.2h0M207.7 343.7h0M213.5 345.9h0M210.0 349.2h0M217.9 348.6h0M222.8 344.5h0M225.1 341.8h0M230.9 340.4h0M232.4 351.3h0M207.7 352.7h0M212.1 354.1h0M216.4 358.2h0M219.9 356.8h0M213.5 360.9h0M225.1 351.3h0M208.6 376.0h0M209.7 373.2h0M212.1 343.1h0M224.5 394.0h0M230.9 399.0h0" stroke="#0a9ad6" stroke-width="2.4" stroke-linecap="round" fill="none"/>
<path d="M53.5 250.1h0M43.1 266.6h0M37.0 268.5h0M47.6 291.2h0M49.2 293.1h0M50.8 294.7h0M32.7 306.2h0M57.9 306.2h0M40.5 310.9h0M49.2 311.7h0M52.8 323.4h0M35.5 324.3h0M35.0 323.5h0M53.3 324.3h0M46.5 323.6h0M52.8 322.7h0M56.1 322.4h0M54.1 324.5h0M33.9 321.1h0M41.0 325.6h0M31.9 324.4h0M40.1 319.2h0M53.3 320.4h0M53.5 320.8h0M32.9 322.1h0M35.5 320.0h0M55.0 323.4h0M36.0 325.1h0M56.9 325.4h0M59.0 324.7h0M52.3 321.4h0M52.1 320.2h0M59.8 321.4h0M35.0 322.2h0M32.1 324.5h0M54.9 325.5h0M49.1 324.6h0M37.0 322.1h0M57.5 324.2h0M42.2 325.2h0M44.7 325.4h0M42.0 324.4h0M41.9 325.5h0M55.0 324.4h0M42.5 319.6h0M52.0 325.2h0M39.4 324.9h0M54.8 324.8h0M49.9 325.5h0M40.8 325.2h0M39.1 325.3h0M51.3 324.0h0M53.5 318.1h0M49.0 324.3h0M54.1 324.0h0M80.6 250.1h0M81.8 250.1h0M86.1 250.1h0M91.3 250.1h0M76.3 264.1h0M69.0 277.5h0M82.6 277.5h0M82.6 289.5h0M91.3 299.4h0M69.6 307.9h0M70.5 309.0h0M78.6 313.6h0M94.0 315.8h0M70.9 313.9h0M92.9 321.1h0M89.7 323.5h0M69.1 325.5h0M82.3 325.2h0M86.9 324.1h0M92.7 324.0h0M85.2 323.7h0M83.8 323.2h0M88.8 325.0h0M92.8 325.1h0M90.2 325.2h0M95.0 324.9h0M66.7 323.9h0M79.2 324.8h0M93.3 325.6h0M77.4 322.3h0M67.1 323.9h0M76.4 325.4h0M66.9 325.2h0M67.8 324.6h0M67.6 324.0h0M68.7 324.2h0M90.6 324.6h0M91.4 321.7h0M79.9 325.6h0M84.5 324.3h0M70.9 325.3h0M82.2 322.4h0M80.5 325.5h0M88.1 324.0h0M74.0 325.1h0M71.7 324.1h0M75.6 325.6h0M74.0 322.8h0M79.5 324.7h0M70.9 322.5h0M74.1 322.6h0M80.6 324.8h0M68.8 323.0h0M69.7 324.1h0M90.7 323.3h0M83.8 324.8h0M75.4 325.0h0M93.6 325.3h0M85.1 321.8h0M71.5 324.2h0M78.5 321.8h0M69.0 325.0h0M71.5 322.3h0M92.4 324.5h0M66.4 324.7h0M82.2 325.5h0M78.9 323.4h0M71.9 325.6h0M69.9 325.0h0M115.5 250.1h0M126.5 250.1h0M124.5 283.5h0M123.6 297.7h0M123.2 308.4h0M127.1 308.4h0M104.2 314.1h0M113.8 314.4h0M121.6 315.0h0M129.5 324.4h0M127.2 325.2h0M105.9 322.8h0M102.6 323.8h0M118.4 324.0h0M116.3 324.1h0M121.7 325.2h0M125.7 324.6h0M116.1 324.5h0M129.6 324.6h0M103.6 325.3h0M114.3 323.7h0M129.2 324.6h0M118.7 322.6h0M121.9 323.3h0M105.5 320.9h0M121.3 325.2h0M117.9 323.7h0M120.0 323.7h0M112.8 324.6h0M121.5 321.9h0M112.3 325.3h0M121.6 322.2h0M108.0 320.5h0M112.3 325.6h0M108.3 325.6h0M118.9 324.4h0M121.8 324.9h0M108.7 325.4h0M107.0 321.5h0M120.0 324.8h0M118.8 325.4h0M108.6 325.6h0M106.3 324.2h0M110.8 325.5h0M107.4 325.0h0M107.0 323.7h0M119.5 323.9h0M113.0 320.7h0M113.9 325.4h0M118.1 323.6h0M102.7 325.3h0M113.0 317.9h0M104.1 325.0h0M129.0 325.3h0M128.8 322.7h0M106.9 323.2h0M111.5 321.8h0M101.0 325.6h0M113.5 323.8h0M129.8 323.1h0M102.3 325.2h0M127.2 321.4h0M129.5 324.2h0M112.4 323.8h0M126.2 324.9h0M115.8 318.4h0M102.2 323.5h0M116.4 325.6h0M125.5 325.0h0M155.0 250.1h0M159.7 250.1h0M148.1 266.6h0M153.0 286.0h0M153.6 310.9h0M153.0 313.9h0M148.6 324.1h0M158.0 321.0h0M154.2 323.5h0M153.8 323.1h0M154.8 316.1h0M155.8 323.9h0M144.0 323.0h0M162.2 325.4h0M147.6 325.2h0M159.1 325.4h0M162.8 323.8h0M140.9 321.4h0M156.9 324.7h0M144.7 323.2h0M154.8 319.7h0M155.3 321.0h0M164.2 323.2h0M137.1 325.4h0M188.2 250.1h0M189.3 250.1h0M189.2 272.0h0M183.1 289.5h0M182.1 310.9h0M172.5 315.2h0M173.7 315.8h0M176.0 317.2h0M189.9 317.2h0M171.7 318.5h0M178.9 318.5h0M189.3 324.4h0M179.5 325.5h0M179.5 320.9h0M184.1 320.9h0M177.2 324.6h0M183.4 324.1h0M187.3 324.0h0M172.2 324.4h0M171.0 320.0h0M193.3 324.5h0M170.7 325.2h0M188.6 324.8h0M185.3 324.5h0M181.7 324.6h0M173.3 324.2h0M192.3 325.0h0M178.3 325.0h0M173.7 321.6h0M184.3 322.2h0M185.3 325.5h0M171.2 324.8h0M185.2 322.1h0M171.3 319.1h0M174.9 325.2h0M188.6 323.8h0M174.1 323.5h0M178.3 320.6h0M191.7 323.5h0M188.8 325.4h0M183.9 324.2h0M178.3 324.1h0M172.4 324.3h0M185.3 325.6h0M175.5 325.4h0M171.6 325.6h0M175.0 324.4h0M187.2 325.4h0M181.2 323.9h0M181.6 325.6h0M182.0 322.7h0M193.4 325.6h0M184.0 321.7h0M177.8 316.1h0M170.5 325.3h0M174.2 324.1h0M172.0 325.5h0M177.2 325.4h0M189.1 325.0h0M215.0 250.1h0M224.5 250.1h0M223.1 285.2h0M219.3 324.0h0M225.5 319.7h0M219.9 324.9h0M214.1 325.3h0" stroke="#f01818" stroke-width="2.4" stroke-linecap="round" fill="none"/>
<rect x="29.0" y="325" width="34.6" height="14.2" fill="#f8766d" stroke="#555" stroke-width="0.5"/>
<text x="46.3" y="335.1" font-size="8.0" fill="#222" text-anchor="middle" textLength="13.1" lengthAdjust="spacingAndGlyphs" stroke="#222" stroke-width="0.14">CTX</text>
<rect x="63.6" y="325" width="34.6" height="14.2" fill="#b79f00" stroke="#555" stroke-width="0.5"/>
<text x="80.9" y="335.1" font-size="8.0" fill="#222" text-anchor="middle" textLength="9.2" lengthAdjust="spacingAndGlyphs" stroke="#222" stroke-width="0.14">HY</text>
<rect x="98.2" y="325" width="34.6" height="14.2" fill="#00ba38" stroke="#555" stroke-width="0.5"/>
<text x="115.5" y="335.1" font-size="8.0" fill="#222" text-anchor="middle" textLength="9.2" lengthAdjust="spacingAndGlyphs" stroke="#222" stroke-width="0.14">TH</text>
<rect x="132.8" y="325" width="34.6" height="14.2" fill="#00bfc4" stroke="#555" stroke-width="0.5"/>
<text x="150.1" y="335.1" font-size="8.0" fill="#222" text-anchor="middle" textLength="10.2" lengthAdjust="spacingAndGlyphs" stroke="#222" stroke-width="0.14">HP</text>
<rect x="167.4" y="325" width="34.6" height="14.2" fill="#3d9bff" stroke="#555" stroke-width="0.5"/>
<text x="184.7" y="335.1" font-size="8.0" fill="#222" text-anchor="middle" textLength="12.6" lengthAdjust="spacingAndGlyphs" stroke="#222" stroke-width="0.14">STR</text>
<rect x="202.0" y="325" width="34.6" height="14.2" fill="#f564e3" stroke="#555" stroke-width="0.5"/>
<text x="219.3" y="335.1" font-size="8.0" fill="#222" text-anchor="middle" textLength="9.2" lengthAdjust="spacingAndGlyphs" stroke="#222" stroke-width="0.14">VS</text>
</g>
<g id="pe">
<rect x="261.5" y="228.1" width="119.7" height="53.9" fill="#e9e9e9"/>
<rect x="261.5" y="228.10" width="19.50" height="21.78" fill="#fb4630"/>
<rect x="281" y="228.10" width="20.00" height="9.11" fill="#fb4630"/>
<rect x="281" y="249.88" width="20.00" height="20.75" fill="#fb4630"/>
<rect x="301" y="228.10" width="20.00" height="5.42" fill="#fb4630"/>
<rect x="301" y="237.39" width="20.00" height="5.42" fill="#fb4630"/>
<rect x="301" y="251.33" width="20.00" height="14.25" fill="#fb4630"/>
<rect x="301" y="271.47" width="20.00" height="6.97" fill="#fb4630"/>
<rect x="321" y="228.10" width="20.00" height="3.41" fill="#fb4630"/>
<rect x="321" y="233.06" width="20.00" height="2.01" fill="#fb4630"/>
<rect x="321" y="237.08" width="20.00" height="2.94" fill="#fb4630"/>
<rect x="321" y="243.28" width="20.00" height="5.73" fill="#fb4630"/>
<rect x="321" y="251.33" width="20.00" height="3.41" fill="#fb4630"/>
<rect x="321" y="265.58" width="20.00" height="2.48" fill="#fb4630"/>
<rect x="321" y="271.47" width="20.00" height="3.10" fill="#fb4630"/>
<rect x="321" y="275.80" width="20.00" height="6.20" fill="#fb4630"/>
<rect x="341" y="228.10" width="20.00" height="2.79" fill="#fb4630"/>
<rect x="341" y="236.15" width="20.00" height="1.24" fill="#fb4630"/>
<rect x="341" y="240.03" width="20.00" height="0.62" fill="#fb4630"/>
<rect x="341" y="243.28" width="20.00" height="1.08" fill="#fb4630"/>
<rect x="341" y="249.01" width="20.00" height="3.10" fill="#fb4630"/>
<rect x="341" y="254.74" width="20.00" height="3.10" fill="#fb4630"/>
<rect x="341" y="268.06" width="20.00" height="3.41" fill="#fb4630"/>
<rect x="341" y="275.34" width="20.00" height="6.66" fill="#fb4630"/>
<rect x="341" y="230.89" width="20.00" height="5.27" fill="#f9a79c"/>
<rect x="341" y="272.71" width="20.00" height="2.63" fill="#f8998d"/>
<rect x="361" y="228.10" width="20.30" height="0.62" fill="#f8776a"/>
<rect x="361" y="234.30" width="20.30" height="0.62" fill="#f6b5ad"/>
<rect x="361" y="240.03" width="20.30" height="0.62" fill="#f6b5ad"/>
<rect x="361" y="243.28" width="20.30" height="0.62" fill="#f6b5ad"/>
<rect x="361" y="252.11" width="20.30" height="0.62" fill="#f6b5ad"/>
<rect x="361" y="257.53" width="20.30" height="0.62" fill="#f6b5ad"/>
<rect x="361" y="271.47" width="20.30" height="0.62" fill="#f6b5ad"/>
<rect x="361" y="274.57" width="20.30" height="0.62" fill="#f6b5ad"/>
<rect x="361" y="278.44" width="20.30" height="0.62" fill="#f6b5ad"/>
<rect x="361" y="280.14" width="20.30" height="0.62" fill="#f6b5ad"/>
<rect x="261.5" y="283.7" width="119.7" height="12.1" fill="#fde8e6"/>
<rect x="261.5" y="283.7" width="19.50" height="12.1" fill="#fb4630"/>
<rect x="261.5" y="297.6" width="119.7" height="21.9" fill="#f6f1dc"/>
<rect x="281" y="297.6" width="20.00" height="21.9" fill="#fb4630"/>
<rect x="261.5" y="321.6" width="119.7" height="26.3" fill="#dff2e0"/>
<rect x="301" y="321.6" width="20.00" height="26.3" fill="#fb4630"/>
<rect x="261.5" y="350.0" width="119.7" height="29.3" fill="#d8f3f6"/>
<rect x="321" y="350.0" width="20.00" height="29.3" fill="#fb4630"/>
<rect x="261.5" y="381.4" width="119.7" height="32.4" fill="#e6eaf8"/>
<rect x="341" y="381.4" width="20.00" height="32.4" fill="#fb4630"/>
<rect x="361" y="415.1" width="20.30" height="1.5" fill="#f8776a"/>
<rect x="381.5" y="228.1" width="9.0" height="53.9" fill="#138b6d"/>
<text x="383.2" y="252.6" font-size="6.6" fill="#1a1a1a" text-anchor="middle" transform="rotate(90 383.2 252.6)" stroke="none">478</text>
<rect x="381.5" y="283.7" width="9.0" height="12.1" fill="#f8766d"/>
<text x="383.2" y="289.4" font-size="6.6" fill="#1a1a1a" text-anchor="middle" transform="rotate(90 383.2 289.4)" stroke="none">108</text>
<rect x="381.5" y="297.6" width="9.0" height="21.9" fill="#b9a02c"/>
<text x="383.2" y="308.2" font-size="6.6" fill="#1a1a1a" text-anchor="middle" transform="rotate(90 383.2 308.2)" stroke="none">198</text>
<rect x="381.5" y="321.6" width="9.0" height="26.3" fill="#0fb544"/>
<text x="383.2" y="334.4" font-size="6.6" fill="#1a1a1a" text-anchor="middle" transform="rotate(90 383.2 334.4)" stroke="none">237</text>
<rect x="381.5" y="350.0" width="9.0" height="29.3" fill="#12bcc4"/>
<text x="383.2" y="364.3" font-size="6.6" fill="#1a1a1a" text-anchor="middle" transform="rotate(90 383.2 364.3)" stroke="none">264</text>
<rect x="381.5" y="381.4" width="9.0" height="32.4" fill="#3b9af5"/>
<text x="383.2" y="397.3" font-size="6.6" fill="#1a1a1a" text-anchor="middle" transform="rotate(90 383.2 397.3)" stroke="none">290</text>
<rect x="381.5" y="415.0" width="9.0" height="1.8" fill="#f45fe3"/>
<rect x="261.5" y="419.0" width="19.50" height="4.6" fill="#f8766d"/>
<text x="272.1" y="433.4" font-size="7.9" fill="#222" text-anchor="middle" textLength="13.5" lengthAdjust="spacingAndGlyphs" stroke="#222" stroke-width="0.14">CTX</text>
<rect x="281" y="419.0" width="20.00" height="4.6" fill="#bd9d10"/>
<text x="292.0" y="433.4" font-size="7.9" fill="#222" text-anchor="middle" textLength="9.2" lengthAdjust="spacingAndGlyphs" stroke="#222" stroke-width="0.14">HY</text>
<rect x="301" y="419.0" width="20.00" height="4.6" fill="#0fb544"/>
<text x="312.0" y="433.4" font-size="7.9" fill="#222" text-anchor="middle" textLength="9.2" lengthAdjust="spacingAndGlyphs" stroke="#222" stroke-width="0.14">TH</text>
<rect x="321" y="419.0" width="20.00" height="4.6" fill="#12bcc4"/>
<text x="331.9" y="433.4" font-size="7.9" fill="#222" text-anchor="middle" textLength="10.2" lengthAdjust="spacingAndGlyphs" stroke="#222" stroke-width="0.14">HP</text>
<rect x="341" y="419.0" width="20.00" height="4.6" fill="#3b9af5"/>
<text x="351.9" y="433.4" font-size="7.9" fill="#222" text-anchor="middle" textLength="13.0" lengthAdjust="spacingAndGlyphs" stroke="#222" stroke-width="0.14">STR</text>
<rect x="361" y="419.0" width="20.30" height="4.6" fill="#f45fe3"/>
<text x="371.8" y="433.4" font-size="7.9" fill="#222" text-anchor="middle" textLength="9.2" lengthAdjust="spacingAndGlyphs" stroke="#222" stroke-width="0.14">VS</text>
<path d="M390.5 228.1H391.4L395.7 228.3H397.8M390.5 282.0H391.4L395.7 258.0H397.8" stroke="#7c7c7c" stroke-width="0.7" fill="none"/>
<rect x="397.8" y="228.3" width="118.8" height="29.7" fill="#ececec" stroke="#9a9a9a" stroke-width="0.6"/>
<text x="401.0" y="233.9" font-size="5.48" fill="#138b6d" stroke="#138b6d" stroke-width="0.15">ensheathment of neurons</text>
<text x="401.0" y="239.4" font-size="5.48" fill="#138b6d" stroke="#138b6d" stroke-width="0.15">axon ensheathment</text>
<text x="401.0" y="244.8" font-size="5.48" fill="#138b6d" stroke="#138b6d" stroke-width="0.15">myelination</text>
<text x="401.0" y="250.3" font-size="5.48" fill="#138b6d" stroke="#138b6d" stroke-width="0.15">gliogenesis</text>
<text x="401.0" y="255.8" font-size="5.48" fill="#138b6d" stroke="#138b6d" stroke-width="0.15">regulation of neurogenesis</text>
<path d="M390.5 283.7H391.4L395.7 263.3H397.8M390.5 295.8H391.4L395.7 284.0H397.8" stroke="#7c7c7c" stroke-width="0.7" fill="none"/>
<rect x="397.8" y="263.3" width="118.8" height="20.7" fill="#ececec" stroke="#9a9a9a" stroke-width="0.6"/>
<text x="401.0" y="269.9" font-size="5.48" fill="#f8766d" stroke="#f8766d" stroke-width="0.15">lipid catabolic process</text>
<text x="401.0" y="275.3" font-size="5.48" fill="#f8766d" stroke="#f8766d" stroke-width="0.15">cellular lipid catabolic process</text>
<text x="401.0" y="280.8" font-size="5.48" fill="#f8766d" stroke="#f8766d" stroke-width="0.15">phospholipid catabolic process</text>
<path d="M390.5 297.6H391.4L395.7 291.1H397.8M390.5 319.5H391.4L395.7 315.7H397.8" stroke="#7c7c7c" stroke-width="0.7" fill="none"/>
<rect x="397.8" y="291.1" width="118.8" height="24.6" fill="#ececec" stroke="#9a9a9a" stroke-width="0.6"/>
<text x="401.0" y="296.9" font-size="5.48" fill="#b9a02c" stroke="#b9a02c" stroke-width="0.15">rhythmic process</text>
<text x="401.0" y="302.4" font-size="5.48" fill="#b9a02c" stroke="#b9a02c" stroke-width="0.15">neurotransmitter transport</text>
<text x="401.0" y="307.8" font-size="5.48" fill="#b9a02c" stroke="#b9a02c" stroke-width="0.15">neurotransmitter loading into synaptic vesicle</text>
<text x="401.0" y="313.3" font-size="5.48" fill="#b9a02c" stroke="#b9a02c" stroke-width="0.15">locomotory behavior</text>
<path d="M390.5 321.6H391.4L395.7 321.7H397.8M390.5 347.9H391.4L395.7 340.0H397.8" stroke="#7c7c7c" stroke-width="0.7" fill="none"/>
<rect x="397.8" y="321.7" width="118.8" height="18.3" fill="#ececec" stroke="#9a9a9a" stroke-width="0.6"/>
<text x="401.0" y="327.1" font-size="5.48" fill="#0fb544" stroke="#0fb544" stroke-width="0.15">muscle contraction</text>
<text x="401.0" y="332.6" font-size="5.48" fill="#0fb544" stroke="#0fb544" stroke-width="0.15">actin filament-based movement</text>
<text x="401.0" y="338.0" font-size="5.48" fill="#0fb544" stroke="#0fb544" stroke-width="0.15">regulation of synapse assembly</text>
<path d="M390.5 350.0H391.4L395.7 347.1H397.8M390.5 379.3H391.4L395.7 374.0H397.8" stroke="#7c7c7c" stroke-width="0.7" fill="none"/>
<rect x="397.8" y="347.1" width="118.8" height="26.9" fill="#ececec" stroke="#9a9a9a" stroke-width="0.6"/>
<text x="401.0" y="354.1" font-size="5.48" fill="#06aec4" stroke="#06aec4" stroke-width="0.15">protein homooligomerization</text>
<text x="401.0" y="359.5" font-size="5.48" fill="#06aec4" stroke="#06aec4" stroke-width="0.15">import across plasma membrane</text>
<text x="401.0" y="365.0" font-size="5.48" fill="#06aec4" stroke="#06aec4" stroke-width="0.15">regulation of Wnt signaling pathway</text>
<text x="401.0" y="370.4" font-size="5.48" fill="#06aec4" stroke="#06aec4" stroke-width="0.15">response to electrical stimulus</text>
<path d="M390.5 381.4H391.4L395.7 380.5H397.8M390.5 413.8H391.4L395.7 399.5H397.8" stroke="#7c7c7c" stroke-width="0.7" fill="none"/>
<rect x="397.8" y="380.5" width="118.8" height="19.0" fill="#ececec" stroke="#9a9a9a" stroke-width="0.6"/>
<text x="401.0" y="386.2" font-size="5.48" fill="#7b98d8" stroke="#7b98d8" stroke-width="0.15">axon extension involved in axon guidance</text>
<text x="401.0" y="391.7" font-size="5.48" fill="#7b98d8" stroke="#7b98d8" stroke-width="0.15">regulation of postsynaptic membrane potential</text>
<text x="401.0" y="397.1" font-size="5.48" fill="#7b98d8" stroke="#7b98d8" stroke-width="0.15">neuron recognition</text>
<path d="M390.5 415.0H391.4L395.7 403.6H397.8M390.5 416.8H391.4L395.7 421.8H397.8" stroke="#7c7c7c" stroke-width="0.7" fill="none"/>
<rect x="397.8" y="403.6" width="118.8" height="18.2" fill="#ececec" stroke="#9a9a9a" stroke-width="0.6"/>
<text x="401.0" y="409.0" font-size="5.48" fill="#ea6cb8" stroke="#ea6cb8" stroke-width="0.15">memory</text>
<text x="401.0" y="414.4" font-size="5.48" fill="#ea6cb8" stroke="#ea6cb8" stroke-width="0.15">learning or memory</text>
<text x="401.0" y="419.9" font-size="5.48" fill="#ea6cb8" stroke="#ea6cb8" stroke-width="0.15">cognition</text>
</g></svg></body></html>
